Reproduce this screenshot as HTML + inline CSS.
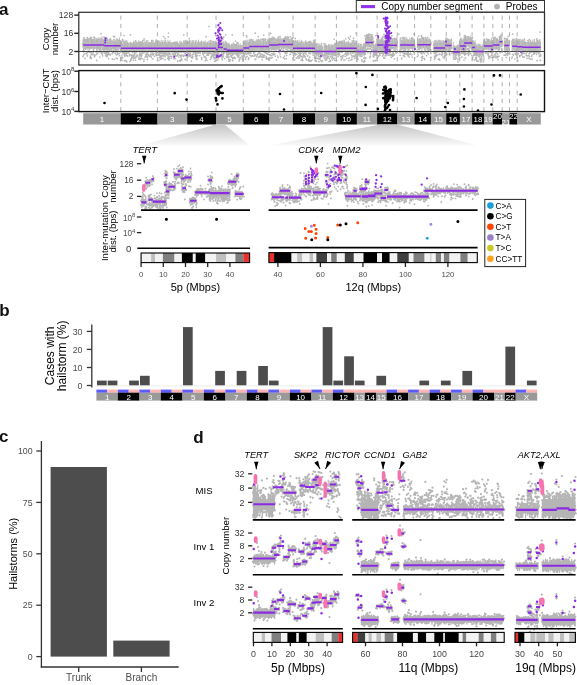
<!DOCTYPE html>
<html><head><meta charset="utf-8"><title>Figure</title>
<style>
html,body{margin:0;padding:0;background:#fff}
svg{display:block;font-family:"Liberation Sans",Arial,Helvetica,sans-serif}
</style></head><body>
<svg width="577" height="685" viewBox="0 0 577 685">
<rect width="577" height="685" fill="#fff"/>
<rect x="356.3" y="0.5" width="188.2" height="11.7" fill="#fff" stroke="#333" stroke-width="1"/>
<path d="M361 6.6L375 6.6" stroke="#9232ea" stroke-width="3.1"/>
<text x="381.3" y="10.2" font-size="10" text-anchor="start" fill="#000">Copy number segment</text>
<circle cx="497" cy="6.6" r="2.9" fill="#b3b3b3"/>
<text x="505.8" y="10.2" font-size="10" text-anchor="start" fill="#000">Probes</text>
<rect x="78.8" y="12.3" width="465.7" height="52.7" fill="#fff"/>
<path d="M83.2 38.8V48.4M84 37.7V48.2M84.7 38.1V49M85.5 39.8V49.3M86.2 39.9V49.1M87 39.7V48.2M87.7 38.5V50.1M88.5 39.6V48.6M89.2 37.7V50.5M90 37.9V49M90.7 36.5V48.1M91.5 36.9V48.8M92.2 39.5V48.3M93 38.9V50.1M93.7 39.3V49.5M94.5 37.7V49M95.2 38V48.2M96 39.8V48.5M96.7 37.6V49.1M97.5 38.9V49.5M98.2 38.4V48.8M99 37.1V49.8M99.7 39.1V49.5M100.5 38.1V50.3M101.2 37.4V48.7M102 36.5V48.3M102.7 38.5V50M103.5 39.5V49.3M104.2 39.9V49.7M104.4 38V50.3M105.2 37.6V49.6M105.9 38.3V50.3M106.7 38.7V50M107.4 37.8V51.3M108.2 39.1V50.5M108.9 40.6V50.6M109.7 38.5V51.4M110.4 37.8V49.5M111.2 39.4V50.5M111.9 40.7V50M112.7 40.2V49.1M113.4 40.6V50.8M114.2 40.3V49.4M114.9 39.4V51.1M115.7 40.5V50M116.4 38.8V51.1M117.2 37.9V51M117.9 39.8V49.9M118.7 39.5V51.1M119.4 37.4V49.2M120.2 40.2V49.4M120.8 42.4V52.5M121.5 41.1V51.9M122.3 43.2V52.3M123 41.9V52.7M123.8 39.8V53M124.5 41.3V52.8M125.3 40.8V51.3M126 40V53.2M126.8 40.1V53.3M127.5 41.8V52.2M128.3 42.8V52.8M129 43V51.4M129.8 42.4V51.6M130.5 42V51.3M131.3 43.2V51.6M132 42.8V52.1M132.8 43.1V53.5M133.5 41V51.6M134.3 42.3V52.1M135 41.9V51.5M135.8 40.1V53.8M136.5 41.5V52.5M137.3 42.9V51.5M138 42V51.9M138.8 40.2V51.6M139.5 43.1V53.7M140.3 41.3V51.6M141 41.2V51.3M141.8 41.3V53.7M142.5 40.1V53M143.3 42.3V52.2M144 42.6V53.2M144.8 41.3V53.2M145.5 42V51.8M146.3 40.3V53.8M147 40.1V53.3M147.8 40.3V53.1M148.5 42.4V52.5M149.3 41.9V51.3M150 43.1V51.9M150.8 42.3V53M151.5 39.8V52.4M152.3 39.8V53.8M153 39.8V52.1M153.8 42.4V51.8M154.5 42.5V51.7M155.3 41V53.5M156 40.2V52.4M156.8 40.8V53.3M157.4 43V53M158.1 40V53.3M158.9 40.6V52.5M159.6 42.7V53.4M160.4 42.1V53.4M161.1 39.8V52.3M161.9 41.9V53.8M162.6 40.7V51.7M163.4 42.8V51.7M164.1 40V53.4M164.9 42.8V53.4M165.6 39.8V53M166.4 42V52.7M167.1 42.8V51.3M167.9 39.8V53M168.6 41.4V53.7M169.4 41.7V53.6M170.1 40.3V51.8M170.9 42.4V52.1M171.6 42.4V52.8M172.4 42.4V52.4M173.1 42.8V53.7M173.9 42V52.5M174.6 41.2V53.7M175.4 41.8V53.7M176.1 41.5V52.7M176.9 41.4V51.3M177.6 41.7V51.8M178.4 43.3V53.4M179.1 42.7V52.5M179.9 40.7V52.7M180.6 42.1V52.6M181.4 41.3V53.3M182.1 42.9V52.8M182.9 42.4V52M183.6 40.5V52.6M184.4 41.3V53.3M185.1 40V52.5M185.9 41.1V52.6M186.6 41.5V53.1M187.2 41.6V52.6M188 41.5V53.6M188.7 40.7V53.5M189.5 39.8V51.9M190.2 41.2V53.7M191 40.2V51.6M191.7 42.8V52.3M192.5 42.9V51.8M193.2 42.9V52.9M194 40.4V53.5M194.7 42.6V53.1M195.5 40.8V51.6M196.2 40V53.7M197 42.4V53.7M197.7 41.8V52.5M198.5 39.6V53.4M199.2 42.6V52.3M200 41.3V52.1M200.7 42.5V52M201.5 40.6V51.3M202.2 41.2V52.3M203 43.1V52.1M203.7 41V52.5M204.5 43V53.8M205.2 40.4V53.7M206 42.8V51.9M206.7 43.1V53.2M207.5 42.2V51.5M208.2 41.7V53.6M209 40.3V51.9M209.7 42.7V53.6M210.5 41.1V53M211.2 42.9V51.3M212 40.7V52.3M212.7 42.9V53.6M213.5 40.9V53.3M214.2 42.9V53.4M215 43V53.4M215.7 41.6V52.1M216 42.5V54.9M216.8 43.5V52.8M217.5 42.6V53.1M217.8 42.1V50.9M218.6 42.3V51M219.3 41.4V51.3M220.1 39.8V51.3M220.8 40.7V51M221.6 41.3V50.5M222.3 41.6V50.5M223.6 41.4V53.4M224.3 43.3V53.2M225.1 40.6V52.3M225.8 41.1V53.1M226.6 42.2V54.2M226.6 43.9V54.6M227.3 42.8V55.9M228.1 44.1V55.5M228.8 42.8V55M229.6 43.8V54.2M230.3 45.1V53.6M231.1 45V55.2M231.8 44.4V53.7M232.6 45V55.5M233.3 42.2V55M234.1 44.3V53.9M234.8 44.2V54.5M235.6 44.7V54.5M236.3 44.4V55.8M237.1 41.8V54.7M237.8 44.4V55.8M238.6 44.2V54.2M239.3 45.3V54.3M240.1 43.6V54.6M240.8 44.6V54.6M241.6 45.3V54M242.3 45V54.3M243.1 45.1V53.4M243.3 41.8V51.5M244 40.8V52.3M244.8 40.2V52.6M245.5 40.3V53.2M246.3 41.5V51.7M247 39.4V51.3M247.8 40.3V52.6M248.5 42.7V53.1M249.3 39.7V52.5M249.3 39V51.7M250.1 41.1V51M250.8 39.8V51.8M251.6 38.7V51.7M252.3 39.5V51.9M253.1 39.1V51.4M253.8 40.8V49.7M254.6 41.1V50.5M255.3 41.2V51.8M256.1 39.6V51.2M256.8 39.3V51.4M257.6 39.8V49.6M258.3 38.7V51.5M259.1 39.8V51M259.8 39.2V49.8M260.6 38.9V50.3M261.3 41.3V50.3M262.1 39V50.1M262.8 38.9V52.1M263.6 39.8V50.6M264.3 39.9V51.4M265.1 38.8V51.2M265.8 39.3V49.8M266.6 41.1V50.3M267.3 38.9V50.4M268.1 39.6V49.6M268.8 41.4V50.3M269.1 37.6V49.8M269.8 37.6V48.8M270.6 38.1V49.2M271.3 38.3V48.3M272.1 36.8V48.5M272.8 36.5V50.4M273.6 39.9V49.2M274.3 37V50.5M275.1 38.4V48.7M275.8 39.2V50.5M276.6 39.2V49.5M277.3 39.5V49.4M278.1 36.6V48.3M278.1 36.5V48.8M278.8 36.3V49.3M279.6 38.7V49.8M280.3 37.7V47.6M281.1 39.5V48.8M281.8 37.9V48.3M282.6 39V48.4M283.3 38.4V49.7M284.1 39.5V49.5M284.8 36.5V47.8M285.6 36.2V49.4M286.3 36.3V48.3M287.1 38.2V48.5M287.8 35.9V49M288.6 38.2V48.6M289.3 38.5V47.6M290.1 39.1V49.7M290.8 38.5V49.9M291.6 38.6V48.2M292.3 37.7V48M293 41.9V53.7M293.8 40V53.3M294.5 40.9V53.6M295.3 39.8V52.6M296 40.6V51.3M296.8 40.6V52.4M297.5 40.5V52.9M298.3 42.2V51.3M299 39.9V51.5M299.8 41.5V52.1M300.5 42.1V53.1M301.3 39.7V51.9M302 40.8V52M302.8 41.2V52.2M303.5 42.6V51.6M304.3 42.5V53.6M305 41.4V51.8M305.8 39.9V53.8M306.5 41.6V51.6M307.3 42.5V51.4M308 42V51.4M308.8 42.3V51.9M309.5 41.1V53.5M310.3 40.5V52.3M311 41.7V52.6M311.8 41.8V52.1M312.5 43V51.9M313.3 39.7V51.5M314 41.4V52.8M314.8 40.1V51.8M315.1 45.4V55M315.8 45V55.6M316.6 43V56.6M317.3 43.3V54.5M318.1 46.3V56.2M318.8 43.2V55.6M319.6 44.3V54.4M320.3 45V56.8M321.1 43.4V56.6M321.8 42.9V55M322.6 46V54.8M324.1 44.5V56.2M324.9 43V56.3M325.6 44.1V56.4M326.4 44.8V55.8M327.1 46.3V56.4M327.9 45.6V56.8M328.6 44.1V55.2M329.4 45.9V55.1M330.1 44.1V56.2M330.9 46V54.6M331.6 44.5V55.9M332.4 45V55M333.1 44.2V54.4M333.9 45.3V55.6M334.6 42.9V56.1M335.4 43.2V55.6M336.1 45.6V55M336.4 39.7V53M337.1 42.1V51.3M337.9 41.4V53M338.6 41.7V51.9M339.4 40.8V53.6M340.1 42.4V51.3M340.9 42V52.3M341.6 40.7V51.7M342.4 40.3V53.1M343.1 41.4V51.7M343.9 39.7V52M344.6 40.2V51.8M345.4 42.4V53.2M346.1 42.1V53.7M346.9 41.4V51.7M347.6 42.4V52.3M348.4 40.8V53.7M349.1 42.7V52.2M349.9 42.4V53.7M350.6 42.7V51.3M351.4 43V52.2M352.1 40V53.5M352.9 40.6V53.8M353.6 39.8V52.1M354.4 42.5V53.6M355.1 40.5V51.3M355.9 40.8V52.2M356.6 41.9V52.1M356.8 46V54.6M357.5 45.6V55.5M358.3 43.2V54.9M359 43.1V55.1M359.8 45.3V56.7M360.5 43.6V55.7M361.3 46.4V55.8M362 45.3V57M362.8 45.9V55.5M363.5 43.4V54.7M364.3 45.1V56.7M365 43.8V54.7M365.5 37.5V45.8M366.3 34.3V46.3M367 34.9V47.9M367.8 36.4V46.3M368.5 34.2V47.2M369.3 36.7V47.5M370 36.5V46.3M370.8 37.6V47.6M371.5 34.3V47.2M372.3 34.2V45.7M373 36.8V46.8M373.3 43.2V57.1M374.1 45.2V55.3M374.8 45.1V55.9M375.6 43.3V55.1M376.3 43.7V56.5M377.1 43.6V56.6M377.1 37.9V49M377.9 38.9V49M378.6 37.3V48.3M379.4 39.4V50.1M380.1 39.2V48.3M380.9 40V49.5M381.6 38.9V50.6M382.4 36.9V50.7M383.1 39.1V48.3M383.7 42.2V51.8M384.5 39.9V51.7M385.2 41.7V51.6M388 38V50M388.7 37.5V50.4M389.5 37.8V48.5M390.2 37.2V49M391 38.2V49.2M391.7 37.5V48.7M392.5 39.3V48.8M393.2 39.6V50.5M394 38.1V49M394.7 38.8V50.8M395.5 38.4V48.8M396.2 37.3V49.9M397 36.6V48.5M400.1 38.4V50.2M400.9 37.1V50.5M401.6 40V48.9M402.4 39.7V48.6M403.1 36.6V49.6M403.9 36.8V49.1M404.6 37V49.3M405.4 39.2V50.1M406.1 36.7V48.4M406.9 38V49.7M407.6 39.3V49.1M408.4 39.6V48.6M409.1 39.2V49.7M409.9 37.8V48.6M410.6 40.1V49M411.4 37.7V48.6M412.1 39V48.6M412.9 37.2V49.5M413.6 39.9V48.4M414.4 38.7V49.5M417.5 37.4V47.9M418.2 39.1V49.5M419 38.2V48.4M419.7 38.6V50.2M420.5 38.6V49.2M421.2 38.4V48.8M422 36.6V50.3M422.7 38.4V48.2M423.5 37.1V48.2M424.2 39.7V50M425 38.2V49.8M425.7 38.2V50M426.5 38V48.1M427.2 39.6V49.1M428 37.4V50.1M428.7 39.4V49.3M429.5 38.4V49M430.2 39.2V48.4M433.8 41.2V53.5M434.6 42.7V52.4M435.3 40.2V53.6M436.1 42.4V51.4M436.8 39.7V53.6M437.6 41.4V51.2M438.3 39.8V52.1M439.1 39.8V52.7M439.8 40.1V51.5M440.6 40.3V51.7M441.3 41.6V53.3M442.1 40.1V51.6M442.8 42.3V52.1M443.6 41.2V52.1M444.3 42.7V51.7M445.1 40.5V53.4M445.1 40.4V50M445.9 37.8V48.6M446.2 37.5V48.8M447 38.3V49.9M447.7 38.2V49.3M448.5 39V50M449.2 39V50.2M450 38.9V49.6M450.7 40.4V50.1M451.5 38.7V49.1M453.2 44.3V57M453.9 45.4V55.5M454.7 45.3V55.3M455.4 46.5V56.1M456.2 46.7V56.1M456.9 45.2V55.1M457.7 44.7V55.2M458.4 44.4V57M459.2 45.2V55.1M459.8 39.2V50M460.6 37.6V49.4M461.3 37.9V51.6M462.1 38.4V51.1M462.8 40.3V51.6M463.6 39.2V51.5M464.3 37.7V49.4M465.1 38.2V51.4M465.8 40.8V49.9M464.1 35.2V46.3M464.8 34.7V46.6M465.6 35V46.3M466.3 36.1V48.3M467.1 37.2V46.6M467.8 36.1V46.7M468.6 37.8V46.4M469.3 37.3V48.3M470.1 35.5V48.2M470.8 37.3V47.9M471.6 37.5V47.3M472.1 40.3V51.5M472.8 39.5V52M473.6 40.5V52.9M474.3 42.2V53.2M475.1 40.3V51.6M475.1 43.6V55.2M475.8 42.9V56M476.6 45.2V56.5M477.3 44.9V55M478.1 43.8V54.6M478.8 43.5V55.2M479.6 44.2V57.1M480.3 44.4V56.2M481.1 45.4V54.5M481.8 46.4V54.9M482.6 44.3V55.6M483.3 44.7V56.8M483.9 40.5V49.6M484.6 38.6V49.1M485.4 41V49.9M486.1 40.6V49.9M486.9 40.2V50.5M487.6 38.9V49.5M488.4 38.8V50.2M489.1 40.5V51.4M489.9 40.1V49.4M490.6 40.7V50.7M491.4 37.9V51M492.1 39.6V49.7M492.8 40V49.7M493.5 38V48.9M494.3 37.7V49.2M495 36.6V49.9M495.8 39.1V50.3M496.5 39.8V49.4M497.3 38.5V48.6M498 39.8V50M498.8 40V49.4M499.5 36.6V48.4M499.5 36.1V46.4M500.3 35V46.5M501 33.9V45.3M501.8 35.7V45.6M504.4 40.3V50.8M505.1 37.7V50.4M505.9 40.5V50.7M506.6 37.8V49.7M507.4 37.8V49.7M508.1 39.7V48.8M508.9 39.7V48.6M512.1 40.1V51.2M512.8 38.8V51.5M513.6 38.7V50M514.3 39.3V50.4M515.1 38.5V50.7M515.8 40.3V51M516.6 37.8V49.9M517.2 38.6V49.8M518 40.9V50.4M518.7 39.1V52.3M519.5 39.1V50.6M520.2 38.6V50.7M521 40.9V52.2M521.7 39.5V51.6M522.5 39.4V52.3M522.5 40.6V52.5M523.2 39.8V52.5M524 40.7V52.2M524.7 40.2V51.1M525.5 41.5V51.9M526.2 42V52.7M527 41.8V50.4M527.7 41.9V52.7M528.5 41.1V50.7M529.2 42.2V50.4M530 39.8V51.9M530.7 39.8V52.2M531.5 42.1V51.8M532.2 41V52.4M533 39.3V52.6M533.7 42.1V52.6M534.5 39V52.8M535.2 41.9V50.8M536 41.9V50.4M536.7 39.2V52.4M537.5 40V52.4M538.2 40V51M539 41.9V50.6M539.7 39.6V50.8M540.5 41.2V51.4" stroke="#b5b5b5" stroke-width="0.95" fill="none"/>
<path d="M83.4 52h0M90.9 57.7h0M104 48.3h0M83.6 49.7h0M92.4 41.4h0M94.6 56.8h0M101.7 53.8h0M82.9 51.3h0M99.5 49.6h0M93.6 45.1h0M86.9 40.7h0M88.6 51.2h0M89.1 51.9h0M85.3 40.5h0M84.7 42.7h0M96.6 48h0M91.7 54h0M102.3 52.2h0M87.4 55.9h0M91.2 42.3h0M88 38.4h0M99.3 43.7h0M90.5 56.2h0M97.4 51.4h0M86.6 53.6h0M85.7 39.8h0M102.2 53.9h0M98.3 48.2h0M86.3 53h0M94.3 55.7h0M90.1 57.8h0M85.1 44h0M85.1 58.3h0M98.9 52.5h0M87.2 47.1h0M91.4 54.3h0M91.6 43.4h0M96.7 40.6h0M86 39.6h0M102.7 55.8h0M95.4 42.5h0M98.7 46.4h0M99.8 48.6h0M96.9 40.2h0M89.7 48.4h0M100 47.4h0M96.7 50.1h0M96.5 54.5h0M97.6 47.4h0M99.9 57h0M93.6 49.9h0M86.4 46.2h0M103.4 49.2h0M94.7 48.1h0M94.1 47.3h0M91.9 40.7h0M87.5 39.7h0M85.6 49.2h0M90.7 52.5h0M83.2 56h0M92.1 43.1h0M87.8 47.5h0M103.4 46.4h0M91.5 58.3h0M85.7 47.1h0M93.1 39.7h0M87.8 41.6h0M100.8 49.6h0M93.1 51.5h0M101.1 52.5h0M101.5 51.4h0M92.2 54.6h0M83 44.4h0M89.5 47.9h0M92.3 43h0M103.2 41.8h0M84.1 50.8h0M86 41.1h0M96.7 60.4h0M97.2 53.5h0M85.1 53.5h0M90.5 58.2h0M102.6 49.2h0M96.2 52.3h0M97.5 46.8h0M87.2 37.6h0M94.5 37.3h0M95 55.3h0M88 52h0M93.1 53h0M93.6 37.3h0M83 43h0M93.1 41.1h0M91.1 48h0M103.9 50.2h0M83.5 40.7h0M97.8 39.5h0M94.1 54.9h0M102.5 52.2h0M90.3 39.5h0M90.9 38.2h0M87.5 52.2h0M92.1 46.5h0M101 50.8h0M93.9 44.9h0M97.2 44.6h0M90.1 51.8h0M96.8 50.1h0M83.8 48.8h0M84 50.5h0M83 56.6h0M97.3 42.4h0M102.8 40.8h0M98.1 41.2h0M97.8 51.3h0M99.6 50.1h0M86.9 54h0M97.2 46.4h0M100.9 42.1h0M89.5 52.1h0M89.9 48.6h0M84.1 37.8h0M83.8 54.5h0M103 49.4h0M83.2 47.1h0M104.3 39.9h0M91.9 51.7h0M106.7 52.2h0M104.2 53.3h0M105.6 53h0M106.3 53.4h0M116.5 51.6h0M105 44h0M116.5 48.1h0M114.7 36.8h0M108.4 48.1h0M116.2 58.1h0M117.9 54.2h0M109.4 49.8h0M112.3 58.9h0M110.3 40.2h0M106.6 48.1h0M110.3 42.9h0M110.7 42.8h0M120.1 42.8h0M105.2 44.4h0M116 43.1h0M120.6 50.5h0M114.3 48.1h0M110.5 49.4h0M114.3 47h0M104.2 51.5h0M111.3 49.2h0M104.9 38.1h0M117.8 42.9h0M118.5 44.4h0M115.7 44.8h0M113.5 47.2h0M107.5 48.5h0M114.4 44.6h0M112 53.7h0M117.5 52.5h0M105.6 46.2h0M113.9 42.9h0M119.1 40.5h0M107.3 54.4h0M107.2 42.4h0M110.9 49.7h0M106.7 56.7h0M105.9 45.7h0M117.4 51.5h0M112.9 52.2h0M104.7 48.9h0M113.7 51.2h0M117.3 58.6h0M118 43.5h0M108.4 54.4h0M105.6 55.6h0M113.5 36.4h0M119.5 55.7h0M114.2 59.3h0M108.5 52.7h0M115 43.9h0M111.7 51.2h0M120.4 46h0M108.5 54.6h0M119.4 46.4h0M117.4 44.7h0M115.1 47.9h0M116.9 46.6h0M115.6 49.6h0M105.9 51.1h0M108.5 52h0M108.2 54h0M115.6 53.4h0M104.8 43.2h0M107.9 51.4h0M106.5 49.1h0M105.8 48.9h0M111.8 50.3h0M118 44.3h0M107.9 52.6h0M116.2 50.8h0M108.6 58.6h0M106.8 55.2h0M107 42.7h0M109.5 54.2h0M105.1 53.1h0M115.4 51.4h0M108.5 54.1h0M110.3 54.9h0M105.8 53.7h0M119.3 53.4h0M120.7 51.3h0M117.8 53.9h0M118.2 46h0M107.3 55.6h0M113.8 52.7h0M107.2 45.2h0M105.5 51.9h0M114.4 45.4h0M114.5 48.5h0M117.8 46.2h0M116.5 54.9h0M116.3 54.8h0M151.8 44.8h0M138.8 59.1h0M152.9 54.4h0M127.4 46.6h0M134.3 50h0M120.6 43.7h0M124.9 49.8h0M150.8 45.5h0M134.6 53.9h0M122.7 52.7h0M139.6 46.9h0M140.4 58.3h0M127.2 55.8h0M129.8 50h0M146.5 56.5h0M121.1 43.9h0M146.6 54.5h0M152.8 50.2h0M138.8 48.8h0M130.9 54.8h0M142.5 49.4h0M125.9 48.1h0M151.2 45.8h0M134.9 58.2h0M135.2 44.1h0M149.4 56.4h0M136.7 51.8h0M150.4 51.3h0M122.4 41.1h0M156.1 48.2h0M144 59.3h0M140.2 53h0M121.2 57.7h0M156.5 53.4h0M150.6 46h0M153.4 54.7h0M145.7 54.4h0M140.6 46h0M139.8 54.6h0M155.8 54.7h0M124.9 53.6h0M156 47.7h0M140.3 59.5h0M125.1 55.4h0M131.2 59.2h0M123.7 51.1h0M141.7 43.6h0M127.9 43.3h0M143.3 49.4h0M132 56.8h0M134.7 52.9h0M120.9 57.6h0M141.2 45.9h0M131.1 46.3h0M126.4 61.2h0M152.9 58.9h0M136.8 49.7h0M124.5 61h0M126.2 55h0M133.6 42.4h0M151 43h0M147.9 48.5h0M149.7 43.7h0M154.5 56.4h0M148.9 47.9h0M139 44.5h0M149.6 46.4h0M143.1 53h0M147.4 57.2h0M135 45.6h0M149.7 50.5h0M139 57.2h0M125.8 51.3h0M142.1 58.5h0M151.8 46.5h0M156.1 50.3h0M120.8 59.1h0M141.5 54.2h0M140.5 44.9h0M139.7 46.6h0M133.8 44.6h0M133.5 46h0M124.1 52.9h0M135.4 40.8h0M156.3 44.5h0M136.8 51.9h0M140.2 48.1h0M126.8 61.8h0M139.5 55.4h0M153.7 53.4h0M153.5 48h0M126.3 52.7h0M127.5 55.9h0M143.9 40.5h0M135.8 46.1h0M120.6 60.5h0M151.8 46.9h0M139 45.9h0M130.4 34.8h0M141.8 54.2h0M125 56.3h0M124.2 54.8h0M139.9 42.7h0M122.8 52.7h0M149.1 55.6h0M126.8 53.5h0M124.2 45h0M137.2 54.8h0M122.5 39.4h0M136.8 43.2h0M129.7 61.5h0M132.2 44.9h0M150.8 50.1h0M138.9 42.1h0M129.5 55.8h0M132 45.4h0M138.5 48.3h0M133.8 58.1h0M156.6 54.8h0M140.3 55.6h0M135.5 60.2h0M133.5 60.1h0M127.6 56.3h0M145.2 57h0M126.3 50.8h0M151.5 57.5h0M136.9 49h0M133.6 46h0M134.5 50.8h0M137.3 55.6h0M153.9 45.2h0M134.1 54.6h0M152.9 54.9h0M139.5 47.3h0M134.8 55h0M141.6 55.2h0M127 49.3h0M132.4 52.2h0M133.9 51.5h0M131.5 55.4h0M125.1 50.9h0M131 60.6h0M153.3 44.5h0M125.4 60.6h0M145.1 57h0M135.8 47.3h0M152 54h0M143.9 61.2h0M147.8 54.1h0M122 57.2h0M131.7 57.9h0M121.9 55h0M151.7 46.3h0M147.1 52h0M133.4 58h0M151.5 47.9h0M152.2 49.4h0M122.2 60.3h0M128.3 52.8h0M148.3 55.2h0M148.3 44.4h0M130.9 59.2h0M155.1 46.8h0M147.9 45.2h0M122.5 45h0M136.4 50.1h0M148.8 55.5h0M146.6 47.8h0M156.5 53.2h0M140.7 58.8h0M135.8 57.2h0M132 55h0M129.3 51.9h0M139.6 58.8h0M131.6 46.7h0M125.7 44.5h0M140.9 54.6h0M126.7 44.6h0M149 45.6h0M124.7 54.9h0M122.7 57.8h0M127.8 46.3h0M132.5 48.8h0M134 56.6h0M157.4 48.5h0M123.6 53.3h0M124.5 47.6h0M136.6 55.8h0M154.7 48.1h0M143.8 46.5h0M129.6 54.3h0M121.5 50h0M127.4 45.4h0M151.9 51.6h0M151.4 54.3h0M132.6 57.4h0M134.2 45.1h0M134.2 48.3h0M141.5 49.4h0M151 56.2h0M138.8 42.8h0M126.3 55.1h0M146.1 55.6h0M136.9 49.2h0M136.8 56.7h0M147.4 59.4h0M149.7 51.2h0M131 44h0M133.1 55.9h0M145.2 50.2h0M131.5 55.2h0M141.4 56.6h0M132.5 49.8h0M156.6 55.4h0M156.2 40.1h0M150.6 54.4h0M131.5 43.3h0M155.9 46.2h0M167.5 45.6h0M157.9 54.9h0M159.7 44.4h0M168.4 44h0M174.3 58.1h0M160.6 59.2h0M160.5 45.1h0M164.8 54.1h0M172 47.7h0M164 51.9h0M175 58.6h0M169.5 50.7h0M173.8 51.3h0M180.1 61.1h0M160.2 47.9h0M169 60h0M180.7 55.3h0M180.7 56.5h0M157.6 52.1h0M163.6 55.5h0M184.1 44.2h0M183.6 55.3h0M162.2 44.3h0M167.5 45.1h0M160.8 51.2h0M179.5 48.1h0M175.5 55.4h0M173.8 55.2h0M177.6 60.8h0M163 58.4h0M160.5 52.9h0M160.5 50.3h0M165.9 53h0M168.7 58.9h0M178.1 44.8h0M186 55.4h0M172.4 50.2h0M181.5 58.6h0M177.8 61.3h0M171.6 58h0M183.7 45h0M159.4 57.6h0M162.3 52.4h0M168.9 57.1h0M157.3 47.9h0M171.1 49h0M158.5 55.2h0M165.4 45.5h0M165.1 38.4h0M187.3 55h0M174.2 53.1h0M176.4 43.3h0M168.1 58h0M185.7 40.5h0M166.3 48h0M176.4 52.7h0M173.9 58.8h0M166.9 49.6h0M171.7 56.4h0M167.7 58.5h0M157.3 44.1h0M174.4 57.2h0M162.2 55.5h0M179.2 51.6h0M185.6 59.8h0M159.5 54.4h0M174.8 44h0M170.1 53.7h0M159.2 50.9h0M164.9 54.9h0M162.1 55.7h0M169.3 54.3h0M175.4 46.7h0M179.4 46.2h0M175.4 58.5h0M167.5 50.6h0M162.8 52.4h0M185.2 53.3h0M167 45.9h0M177.8 53.8h0M158.8 60.3h0M167.3 49.9h0M175.3 55.8h0M185.2 48.5h0M187.1 52.7h0M167.1 53.1h0M161.8 56.4h0M181.9 55h0M173.5 42.8h0M175.4 54.8h0M179.6 55.1h0M180.7 51.4h0M180.6 45.2h0M173 49.2h0M161.1 52h0M180.7 57h0M187.2 56.4h0M157.9 55h0M158.9 45.9h0M185.7 55.7h0M161.6 55.8h0M162 49.6h0M180.8 59.8h0M176.5 55.9h0M181.5 44.4h0M160.4 56h0M159.1 41.8h0M158.9 52.9h0M169.6 53.6h0M163.9 54.9h0M165.1 56.5h0M180.2 51h0M166.2 49.4h0M161.9 53.4h0M183.5 56.4h0M165.7 50.7h0M171.9 51.5h0M175.3 53.5h0M174.7 50.4h0M168.1 56.3h0M166.1 49h0M160.5 57.1h0M161.7 48.8h0M160.1 55.8h0M167.4 46.7h0M178.9 49.3h0M164.2 48.2h0M178.1 54.1h0M170.2 56.2h0M157.7 45h0M160.8 55.8h0M161.2 58.3h0M161.6 53.8h0M172.3 54.2h0M185 59.1h0M163.6 53.1h0M165.4 53h0M165.1 59.7h0M169.5 49.6h0M168.1 54.6h0M173.6 42.9h0M178.1 52.8h0M169.2 52.9h0M169.8 45.3h0M169.6 58.2h0M187.5 51h0M164.8 42.6h0M168.6 56.8h0M182.7 50.2h0M184.7 55.4h0M176.8 45h0M166.7 54.9h0M183.1 48.3h0M175.1 48.9h0M179.7 60.5h0M178.8 52.2h0M177.7 55.6h0M176.2 49.2h0M165.2 53.7h0M171.5 43.8h0M163.8 55.8h0M185.3 43.5h0M181.8 55.7h0M162.3 42.8h0M182.3 49.7h0M183.5 52.1h0M182 60.1h0M161.8 58.5h0M181.5 50.6h0M170.9 48.2h0M171.6 48.4h0M177.8 54.6h0M172.9 54.4h0M168.7 58.3h0M163.2 50.6h0M178.9 57h0M196.4 56.9h0M205.6 46.7h0M192.8 57.3h0M197.8 52.2h0M199.9 55.6h0M198.9 44.9h0M210.7 53.2h0M214.1 58.8h0M215.5 44.1h0M196.6 59.4h0M209.1 52.7h0M213.4 47.4h0M187.7 43.9h0M211.6 57h0M200.8 43.9h0M202 49.9h0M206.6 47.3h0M206.9 48.9h0M209.5 50.3h0M189.2 50.1h0M189.9 56.3h0M188.5 43h0M207.8 54h0M199.2 50.3h0M216.2 49.8h0M196.7 46.6h0M187.1 47.7h0M196.1 58.5h0M212.2 44h0M188.4 56h0M212.4 50.1h0M192.9 54.4h0M202.7 52.8h0M204.1 57h0M210.5 59.5h0M188.4 54.3h0M202.6 53.8h0M195 46.8h0M195.5 49.9h0M200.3 43.1h0M200 52.2h0M205.7 57.3h0M212.3 54.6h0M214 46.8h0M210.4 45.4h0M195.6 52.2h0M211.5 58h0M189.9 55.2h0M210 43.2h0M194.5 51.2h0M207.1 60.5h0M188.1 50.4h0M195.5 53.9h0M203.4 54.9h0M213.7 57.1h0M210.4 46.3h0M198.4 53.1h0M193.5 52.1h0M189.7 47.6h0M206.9 53h0M214.5 42h0M195.5 56.2h0M214.2 52.7h0M201.2 44.1h0M189.5 54h0M194.9 49.8h0M214.1 54.4h0M204.5 42.8h0M196.7 56.3h0M192.2 54.8h0M195.7 54.9h0M203.1 47.5h0M204.4 52.9h0M189.8 49.2h0M190.8 45.9h0M206.4 58.5h0M191.9 44.4h0M212.6 54.9h0M191.3 57.3h0M201.5 46.8h0M190.4 50.7h0M201.8 59.4h0M192.7 56.7h0M194 50.2h0M201.7 57.7h0M201.3 49.1h0M203.7 49.1h0M191.4 61.2h0M187.8 53.7h0M213.1 55.9h0M203.9 51.9h0M207.8 53.2h0M194.1 49.4h0M205.1 48.1h0M210.9 57.4h0M214 53.1h0M214.5 55.1h0M194.1 49.1h0M206.9 55.3h0M192.7 57.6h0M196.6 55.3h0M201 48.1h0M209.8 48.3h0M192.8 42.5h0M211.8 53.5h0M197.2 58.8h0M215.3 48.1h0M211.3 46h0M213.5 51.8h0M204.3 51.5h0M211.2 50.5h0M215.2 45.8h0M214.7 61.4h0M194.3 46.8h0M193.7 54.1h0M201.4 49h0M207.1 42.7h0M210.2 52.6h0M214.6 46.8h0M206.1 49.1h0M196.9 51.9h0M187.1 42.1h0M187.4 57.4h0M204.7 44.3h0M196.8 52.7h0M205.1 60.8h0M189.5 55.2h0M206.3 44.1h0M190.5 55.4h0M192.3 57.6h0M215.1 57.2h0M204.8 56.5h0M198.5 52.8h0M216 55.2h0M211.3 56.1h0M192.1 48.2h0M200.3 48.2h0M189.9 51.9h0M212.3 41.6h0M213.2 54.6h0M189.2 38.7h0M197.6 51.7h0M205.5 51.7h0M213.6 47.4h0M197.6 55.3h0M207 50.9h0M200.1 53.2h0M208.9 53.1h0M191.2 45.7h0M203.9 52.3h0M205.8 59.3h0M209.3 53.2h0M215.7 47.1h0M210.6 40.7h0M207.8 55.2h0M195.1 51.2h0M210.2 53.6h0M191 49.9h0M208.6 55h0M196.1 55.3h0M215.3 52h0M192.4 58.1h0M196.3 55.5h0M190.1 53.9h0M215.2 58h0M192.9 40.9h0M205.6 50.5h0M196.2 56.4h0M203.3 43.7h0M209 51.8h0M217.2 57.6h0M217.7 48.3h0M216.6 49.2h0M215.9 52.5h0M217.5 43.3h0M216 60.3h0M217.3 45.4h0M217.6 54.1h0M218 47.3h0M217.7 60h0M218.6 42.7h0M221.4 46.5h0M218.3 58.3h0M220.4 49.2h0M221.4 43.2h0M219.1 50.5h0M222 51h0M221.8 52.4h0M222.7 47.2h0M221.2 40.1h0M218.3 45.9h0M219.1 51.5h0M221 47.1h0M218.8 57.6h0M221.4 48.7h0M221.5 52.8h0M222.3 59.7h0M218.3 55.6h0M217.9 50.4h0M217.8 45h0M218.2 53.6h0M219.4 44.9h0M218.8 49.4h0M222.2 54.9h0M217.7 52.2h0M220 56.1h0M221.1 44h0M220.5 45.4h0M218.8 54.7h0M223 55.4h0M223.2 53.9h0M224.9 49.3h0M225.8 47.6h0M224.7 58.6h0M224 44.7h0M224 48.6h0M224 52.7h0M226.8 46.7h0M226.7 47.9h0M223.5 52.3h0M223.3 48h0M224.2 52.8h0M223.8 52.4h0M223.4 56.9h0M224.5 50.5h0M223.6 53.9h0M223.8 37h0M226.5 51.2h0M225 50.3h0M236 51.7h0M238.6 51.5h0M243.2 58h0M240.3 46.4h0M228.6 59.2h0M240.6 49.1h0M241.7 50.6h0M227.5 53.9h0M234.7 44.4h0M229.8 60.7h0M228.1 48.1h0M228.5 54.5h0M237.3 51.7h0M233.9 58.1h0M234.4 57.3h0M237.9 50.7h0M238.2 56.1h0M228.7 49.1h0M230.4 49.5h0M230.2 59.6h0M237.2 43.1h0M226.9 57.5h0M230.4 51.4h0M242.4 56.2h0M242.2 58.6h0M239.4 58.8h0M243.1 53.1h0M229.1 57h0M228.1 57.2h0M226.3 44.6h0M235.9 44.7h0M236.6 50.2h0M227.6 55.9h0M233.1 57.6h0M239.2 60.9h0M234.2 53.5h0M237.5 57h0M243.2 51.1h0M232.4 57.6h0M241 52.5h0M232.6 58.4h0M236.8 48h0M239.6 59.6h0M238.3 51.2h0M235.3 45.7h0M237.5 53.3h0M238.9 56.8h0M238.7 55.3h0M238.1 42.9h0M229.4 53.8h0M233.9 50.2h0M232.3 60.8h0M242.4 49.6h0M240.8 50.4h0M230.6 55.9h0M232 44.4h0M239.7 51.7h0M228.1 45.6h0M231.7 47h0M243 61.1h0M235.5 41.1h0M233.3 48h0M238.2 52.6h0M231.2 51.8h0M226.5 56.4h0M229.3 49.4h0M238.2 50.1h0M230.6 53.3h0M226.7 51.1h0M243 53.3h0M236.5 45.3h0M231.5 55.6h0M227.4 57.2h0M228.2 52h0M243 49.3h0M231.5 57.1h0M238.9 55.3h0M242.4 58.7h0M240.6 57.6h0M241.1 48.8h0M226.4 56.2h0M241.9 56.1h0M237.7 54.9h0M228.8 61.2h0M237.6 49.9h0M228.5 51h0M232.6 54.8h0M235.3 58.4h0M239.5 59h0M232.9 60.3h0M237.4 51.2h0M247.4 47h0M244.5 54.5h0M246 48.6h0M243.6 54.1h0M244.5 56.1h0M243.8 53.7h0M249.2 51.3h0M243.5 55.8h0M248.7 42.8h0M248.7 59.3h0M244.6 54.6h0M248.7 57.9h0M249.1 49.5h0M247.8 53.4h0M244.3 48.9h0M245.4 59.3h0M244.2 55.6h0M247.3 52.4h0M247.9 48.6h0M244.5 43.3h0M243.9 44.3h0M249.2 50.3h0M249 53.7h0M244.5 49.2h0M244.4 55.2h0M245.9 57.7h0M246.8 54.1h0M245.6 57.6h0M244.5 48.7h0M246.4 35.5h0M247.1 56.4h0M248.5 59.2h0M244.5 47.9h0M245.1 53.4h0M243.1 59.6h0M244.1 53.4h0M254.2 46.6h0M260.4 48.5h0M251.5 48.9h0M252 50.7h0M267 54h0M253.8 51.8h0M257.3 44.4h0M262.5 49.7h0M268.2 54h0M250.1 47.2h0M254.9 54.9h0M268.7 42.3h0M266.3 49h0M262.3 48.8h0M262.4 48.6h0M265.3 49.1h0M250.5 46h0M260.6 53.8h0M253.8 52.4h0M259.7 52.5h0M261.7 49.5h0M262.7 51.1h0M262.8 46.9h0M262.2 59.7h0M253.7 53.2h0M268.5 48.2h0M267.3 58.7h0M264 51.9h0M251.6 50.2h0M253.4 56.2h0M257.3 55h0M250.6 51.5h0M256.2 44.7h0M257.9 54h0M262.7 54.7h0M256.5 47.4h0M262.1 39h0M263.3 48.9h0M255.1 59.4h0M265.7 51.4h0M261 49.6h0M249.3 46.1h0M250.4 52.2h0M252.5 49.5h0M254.4 46.7h0M269.1 59.9h0M268.7 59.2h0M255.8 44.8h0M258.7 57.4h0M250.1 55.3h0M261.7 48.1h0M254.4 46.1h0M259 51.9h0M267.9 48.8h0M263.1 55.1h0M263.6 56.2h0M250.9 39.7h0M252.9 49h0M253.7 49.6h0M262.5 48.3h0M260.8 56.1h0M261.9 54.4h0M259.8 50.8h0M249.6 47.2h0M262 49.9h0M261.5 47.6h0M262.5 57.1h0M252.2 55.4h0M263.6 39.2h0M265.2 52.7h0M250.1 52.5h0M250.8 52.9h0M267.9 46.4h0M258.4 57.2h0M259.6 57h0M263.6 46.9h0M250.4 53.2h0M258.8 53.6h0M255.5 44.1h0M263.5 43.6h0M267.9 49.7h0M261.6 50.5h0M254.7 55.8h0M269 49.7h0M261.6 57h0M250.4 47.2h0M250.7 51.4h0M250.9 49.7h0M264.6 55.4h0M251.2 56.5h0M265.9 57.8h0M252.5 43.4h0M251.5 55.8h0M268.8 54.3h0M267.1 53.2h0M258.6 44h0M258.5 44.6h0M263.9 57.2h0M251.2 56.1h0M255.9 54.5h0M269.1 58h0M266.4 56.9h0M255.9 59h0M257.5 50h0M249.2 42.6h0M261.3 50h0M266.3 45.5h0M254.4 52.6h0M256.7 56.6h0M253.6 41.8h0M267 49.6h0M254 50.7h0M263.8 35.1h0M265.5 53h0M266.1 52.2h0M260 55.8h0M266.2 43.3h0M266.9 59.2h0M275.3 42.5h0M269.2 40.8h0M272 43.7h0M276.3 45.8h0M271.2 55.7h0M271.9 53.6h0M269.4 50.9h0M275.9 50h0M276.5 46h0M271.7 48.6h0M277.4 42.2h0M271.8 43.3h0M274.4 44.2h0M273.8 37.9h0M275.2 56.1h0M272.2 57.5h0M270 43.4h0M269.1 39.2h0M272.9 55h0M273.8 45.9h0M270.9 41.4h0M276.5 60h0M272.9 46.7h0M275.6 46h0M271.9 48.2h0M270.6 39.1h0M270.1 45h0M278.4 45.7h0M277.5 42.6h0M276.1 39.1h0M270.8 58.2h0M273.6 53.1h0M273.7 39.2h0M274.2 49.3h0M272.8 39.7h0M271.3 49.8h0M273.3 54.7h0M268.8 52h0M271 48.1h0M273.7 47.8h0M270.7 39.8h0M275.7 43.5h0M271.4 38.9h0M277.7 56h0M269.6 51.9h0M276.4 47.8h0M274.9 48.5h0M272 45.1h0M270.3 55h0M274.7 54.1h0M269.6 54.8h0M271.8 46.9h0M273 49.2h0M273.4 42.4h0M287 52.9h0M280.4 50.1h0M284.1 45h0M284.4 51.4h0M280.2 40.8h0M286.7 55.3h0M283.3 39.3h0M292.1 50.2h0M286.4 45.9h0M289.2 46.8h0M291 47.5h0M286.9 39.3h0M286.3 58.6h0M280.6 56.8h0M278.2 49.3h0M285.2 38.9h0M283.2 50.9h0M292.2 40.9h0M283.8 45h0M290 50.5h0M283.4 47.4h0M286.2 49.7h0M280.3 51h0M278.1 57.6h0M280.1 54.5h0M278.7 52h0M291.9 38.2h0M286.3 52.2h0M284.5 56.1h0M289.4 43.2h0M291.3 45.7h0M287.1 45.8h0M279.7 52.7h0M288.8 46.3h0M280.6 46h0M288.2 37.4h0M284.5 58.9h0M288.7 51h0M280.6 49.6h0M278.7 49.8h0M288.4 47.6h0M286.7 47.1h0M291.5 42.4h0M292.4 47.9h0M292 46.1h0M283.7 46.4h0M277.9 45.6h0M277.9 39.8h0M284.2 38.7h0M284.1 41.8h0M292.6 41.9h0M283.6 50.8h0M291.8 46.3h0M293.2 37.3h0M282.7 44.1h0M280.3 50h0M285.4 53.6h0M292.2 43.7h0M280.1 36.7h0M286.9 49.6h0M292.3 52.7h0M282.1 51.1h0M291.3 52.2h0M289.1 41.5h0M279.3 44h0M287.9 50.4h0M283.5 57.7h0M284.4 39.6h0M290.3 36.8h0M284 46.7h0M285.1 52.5h0M288.3 50.8h0M293.1 44.4h0M287.7 50.9h0M281.7 49h0M279.1 45.4h0M291.7 49.2h0M288.9 45.5h0M283.1 45.4h0M290.4 54h0M280.7 43.3h0M292.2 46.5h0M290 54.3h0M291.9 43h0M292.9 41.1h0M291.1 49.8h0M279.3 46.6h0M289.3 48.2h0M303.2 57h0M296.4 46.1h0M305.2 57h0M303.4 50.1h0M298.8 51.4h0M306 54.5h0M295.9 45.4h0M314.6 53.7h0M293.4 55.4h0M295.5 53.5h0M314.2 44.5h0M300.9 44.9h0M312.2 44.5h0M300.9 44.9h0M298.2 58.2h0M294.2 54.3h0M304.2 55.5h0M311.6 44.5h0M315.1 39.8h0M308.8 59.2h0M314.6 57.2h0M305.6 50.6h0M306 52.6h0M293 58.6h0M295 55h0M298.8 44.7h0M314.6 55.9h0M308.5 60.3h0M295.2 38.3h0M298.8 53.3h0M314.3 52.6h0M315.2 46.8h0M309.1 46.3h0M300.8 48.1h0M296.3 57.9h0M306 50.7h0M305.7 52.2h0M302 49.6h0M302.3 56.3h0M309.8 57.2h0M294.8 45.5h0M301.5 56.4h0M307.9 45.4h0M303 53h0M296.8 54.3h0M294.6 59.9h0M302.3 58.5h0M304.3 48.3h0M299.6 57.9h0M313.3 46h0M293.8 57h0M311.9 51.3h0M294 52.9h0M300.3 56h0M304.3 51.4h0M307.9 55.5h0M313.1 55.1h0M297.8 56.6h0M308.3 49.8h0M300.3 55.2h0M301.8 45.7h0M302.5 59.6h0M315.1 50.3h0M295 45.6h0M307.9 48.4h0M311 61.2h0M303.4 54h0M303.7 54.4h0M305.8 42.5h0M293.7 48.8h0M300 54.8h0M305.9 44.6h0M301 53.2h0M299 47.9h0M294.8 48.3h0M312.3 52.7h0M308.9 61.2h0M301.3 49.4h0M300.7 48.2h0M315.2 60.6h0M312.3 44.4h0M314.6 53.1h0M297.2 46.5h0M303.6 53.7h0M306 58.8h0M299 44h0M307.7 56.1h0M304.7 56.8h0M310.4 42h0M298.3 44.3h0M299.3 56h0M308.7 41.8h0M297.5 48.9h0M300.8 53h0M309.3 60.1h0M298 44.8h0M307.1 43.2h0M298.9 55.7h0M314.5 49h0M307.9 49.2h0M300.3 54.2h0M310.7 44.4h0M298.8 48.5h0M308.8 52.9h0M302.6 51.3h0M299.8 49.2h0M299.1 50.3h0M312 60h0M302.4 51.1h0M310.2 60.9h0M302.7 60.6h0M306.2 59.2h0M301.3 56.6h0M301.1 45.2h0M306.8 60.1h0M293.2 45.6h0M297.2 46.1h0M313.3 52.8h0M300 54.2h0M300.1 44.4h0M295.5 54.1h0M299.8 52h0M295.3 54.7h0M298.2 48.4h0M301.2 60.2h0M310.7 47.4h0M303.6 55.1h0M294 56.8h0M310.3 53.7h0M305.1 56.6h0M298.6 46.4h0M318.4 55.1h0M316.5 61.2h0M315.5 57.2h0M318.9 61.7h0M320.5 53.8h0M318.9 51.1h0M317.8 53.5h0M319.8 51h0M322.5 60.6h0M315.7 47.9h0M317.5 50.7h0M318.1 58.6h0M320.2 47.5h0M316.7 52.8h0M318.5 46.8h0M322.6 49.3h0M318.6 56.3h0M316.2 50.3h0M320 57.2h0M319.8 56.8h0M319.3 59.2h0M318.7 53.7h0M320.3 54h0M319.8 48.8h0M318.4 50.2h0M319.4 48.5h0M322.7 54.7h0M320.1 58.8h0M322.4 50.7h0M320.7 60.5h0M321.5 49.3h0M314.9 44.4h0M320.4 54.2h0M321.8 61.6h0M315 57.8h0M315.3 58.3h0M316.1 58.3h0M317 58.1h0M322.8 56h0M320.7 57h0M315.5 46.2h0M334.9 58.1h0M332.8 52.4h0M326.3 47.1h0M327.4 52.9h0M332.7 57.4h0M330.3 50.3h0M324.2 51.2h0M328.4 53.3h0M328.3 49.2h0M330.5 56.8h0M335.6 44.4h0M326.4 51.1h0M328.3 54.1h0M332 53.2h0M328.6 52.3h0M323.8 55.6h0M327.1 46.3h0M331.8 58.1h0M332.5 46.1h0M329.4 53.9h0M325.1 58.8h0M330.3 60.5h0M326.2 53.1h0M330.3 60.6h0M326.4 60.1h0M333.6 48.7h0M333.8 58.9h0M333.1 55.5h0M328.6 48.8h0M324.7 50.6h0M330.9 49.2h0M325.1 52.3h0M327 58.7h0M327.1 57.1h0M327.7 51.6h0M328.6 51.1h0M326.7 57.9h0M328 57.7h0M336.6 54.5h0M324.3 43.5h0M324.8 47.1h0M329.4 51.1h0M334.5 53.2h0M332.3 46.3h0M327 52.7h0M334.9 55.2h0M331.8 53.9h0M325.5 56.6h0M332.9 53h0M332.2 56.9h0M324.1 57.6h0M332.4 60h0M330.8 48.1h0M325.3 59.9h0M324.1 55.3h0M328.5 56.6h0M329.1 61.6h0M329.4 58.8h0M336.2 56h0M328.9 45.4h0M335 60.3h0M329.5 51h0M330.5 61.1h0M355.7 48.6h0M344.8 60h0M345.4 46.5h0M350.9 60h0M355.4 54.7h0M336.5 60.7h0M338.7 50.5h0M340.7 56.4h0M337.9 54.6h0M353.2 56h0M341.3 56.7h0M351.6 55.4h0M355.8 51.3h0M338.2 52.8h0M350.6 47.6h0M346.5 53.8h0M345.2 54h0M341.8 46.5h0M337.8 45.3h0M338.5 48.3h0M346.6 45.3h0M354.7 58.4h0M356.6 57.8h0M341.4 47.6h0M348.9 60.5h0M353 48.1h0M337.7 49.6h0M349 58.3h0M345.7 53h0M338.2 51.5h0M349.7 50.7h0M356.2 56.7h0M344.9 54.6h0M349.7 51.6h0M348 51.9h0M356.3 57.2h0M356.8 49.8h0M351.6 45.7h0M355.7 50.5h0M352.5 46h0M342.6 57.9h0M353.7 40.9h0M339.6 54.3h0M343.1 55.3h0M339.3 49.5h0M342.9 55.9h0M342.4 55.8h0M345.2 56.5h0M336.3 48.1h0M356.2 56.3h0M341.4 60h0M348.2 51.9h0M341.2 59h0M356.8 47.5h0M338.7 54.4h0M353 49h0M347.6 51h0M341.6 59.3h0M340.1 42h0M349.2 45.1h0M355.4 45h0M355.5 55.1h0M338.2 54.3h0M349.6 39.3h0M355.7 44h0M352 57.3h0M338.4 49.3h0M350.4 45.4h0M338.7 53.5h0M355.9 48.4h0M345.4 46.5h0M356.4 54.8h0M337.6 52.8h0M344.7 48.7h0M344.7 49.2h0M341 52.3h0M346.3 54h0M342.8 44.4h0M356.9 56h0M338 56.6h0M344.9 44.8h0M353.6 38.3h0M348.2 54.5h0M349.1 57.8h0M347.4 53.1h0M338.2 48.4h0M352.8 52.2h0M354.3 51.8h0M351.9 59.4h0M341.8 44.1h0M353.4 48.3h0M344 60.1h0M352 45.7h0M355.5 52.6h0M355.2 49.2h0M345.7 48.2h0M351.3 44.9h0M349.3 45h0M350.8 51.7h0M354.4 56.4h0M352.6 53h0M341 51.9h0M340.8 42.8h0M342.9 47.2h0M356 51.1h0M346.9 55.5h0M343.3 50.5h0M352.3 52.8h0M336.4 49.2h0M339.5 48.6h0M344.4 49.5h0M343 55.7h0M338.9 55h0M338.6 43.2h0M346.7 58.6h0M340.6 41.5h0M353.4 56.2h0M352.1 43.2h0M356.7 52h0M353.5 45.8h0M350.4 53.8h0M361.8 59.6h0M357.7 56.6h0M364.8 58.1h0M357.6 45.9h0M363.6 61.6h0M363.7 53.5h0M364.1 61.8h0M364.7 61.3h0M357.2 56.6h0M362.7 47.9h0M356.8 61.4h0M358.7 50h0M361.4 44.8h0M357.7 58.9h0M363.4 62h0M361 56.4h0M365.1 46.7h0M364.5 60.8h0M358.9 54.5h0M357.9 59.5h0M365.7 45.9h0M357.6 51.1h0M362.6 52.8h0M361.3 56.4h0M365 53.1h0M365.1 53.7h0M365.1 51.1h0M364.6 60.3h0M364.4 51.5h0M360 53.1h0M358.3 51.4h0M365.6 58.3h0M360 54h0M365.3 47.7h0M361.9 61.1h0M365.6 57.7h0M358.1 55h0M362 48.9h0M359.4 53h0M360.6 49.1h0M357 58.8h0M359.7 53.9h0M363.8 58.2h0M361.5 53h0M362.7 52h0M360 53h0M357.1 48.5h0M370.7 53.9h0M365.5 43.9h0M370.5 48.5h0M366.8 51.3h0M372.1 41.8h0M372 39h0M370.7 48.8h0M373.4 41.6h0M369.7 45.5h0M367.2 44.7h0M365.3 54.2h0M371.3 46.7h0M367.2 40.7h0M368.2 48.7h0M370 46.5h0M373.5 50.3h0M372.6 47.7h0M371.7 49.8h0M367 36.2h0M369.3 49h0M371.7 50.5h0M367.4 42.6h0M371.7 36.5h0M370.8 52.3h0M369.7 42.2h0M367.8 48.6h0M366 50.1h0M366.7 37.4h0M366.2 43.7h0M367.3 44h0M367.5 45.6h0M371.5 41.4h0M369.9 57.7h0M365.3 48.3h0M367.9 44.8h0M365.4 46.2h0M367.8 52.5h0M367 49.2h0M368.3 51.6h0M370.1 52.7h0M367.8 43.6h0M368.1 36.3h0M371.9 39.1h0M366.3 43.1h0M370.3 56.2h0M365.5 38.8h0M367.2 44.5h0M375.2 48.4h0M373.9 41.5h0M373.9 56.8h0M373.2 60.9h0M375.3 60.7h0M376.5 55.3h0M373.6 55.4h0M376.4 54.9h0M374.8 50.1h0M374.5 53.7h0M375.4 49.9h0M373.6 52.6h0M375.7 54.7h0M377.2 60.6h0M374.4 45.3h0M374.8 60.6h0M374.7 54.1h0M375.1 50h0M373.2 56.4h0M373.4 49.7h0M377.3 47.8h0M377.2 58.2h0M375.7 55h0M383.5 48.5h0M378.8 50h0M383.5 54.7h0M384 45.7h0M378.3 56.7h0M381 50.4h0M379.8 49.3h0M377.2 45.2h0M377.6 48.6h0M377.1 39.6h0M380.4 48h0M382.6 55.9h0M383.1 52.9h0M380.1 48h0M380.9 40.3h0M384 52.8h0M376.9 52.5h0M379.8 54.5h0M383.5 49.6h0M382.1 40.8h0M379 46.5h0M381.1 50h0M378 55.5h0M383.9 48.3h0M378.3 52.3h0M381.5 38.6h0M380.5 50.2h0M381.5 42.3h0M380.4 43.2h0M379.9 52.4h0M379.9 42.5h0M379.9 55.4h0M383.8 57.9h0M379.7 53.6h0M381.1 53.1h0M383.1 45.8h0M378.9 44.5h0M383.3 46.3h0M378.6 51.4h0M380.2 48h0M384 52.7h0M383.7 41.5h0M385.8 45.3h0M383.6 48.1h0M383.6 45.2h0M385.6 43.6h0M384.9 52.8h0M384 45.3h0M385.2 55.9h0M384.8 58.2h0M384.5 50.2h0M390.9 51h0M397 52.1h0M391.7 44h0M393.9 54.7h0M393.1 53.5h0M390.7 49.1h0M390.1 42.4h0M390.4 46.9h0M391.9 47.8h0M389.3 54.6h0M390.9 54.7h0M395.1 50.2h0M395.2 45.8h0M391.8 45.2h0M392.8 56.2h0M391.4 57.3h0M391.2 51.4h0M392.2 45.9h0M390.9 47.6h0M393 52.4h0M388.3 50.1h0M389.7 41.8h0M390.1 52.4h0M390.4 54.5h0M394.5 38.4h0M394.1 54.9h0M390.2 45.9h0M395.7 42.5h0M397.3 46.5h0M391 55.5h0M396 52.9h0M394 55.1h0M388.6 51.6h0M395.5 41.4h0M390.4 49.6h0M388.5 50.5h0M391.1 54.3h0M391.9 45.2h0M393.8 47.6h0M392.7 54.2h0M389.4 52.2h0M392.7 39.1h0M396.4 43.1h0M388.1 48.7h0M389.1 45.6h0M395.3 51.6h0M394.4 58.8h0M394.4 43.2h0M394.1 54.1h0M389 51.9h0M391.4 46.4h0M393.1 53.6h0M390.9 43.6h0M396.1 45.7h0M395.4 40.3h0M401.6 58.1h0M404.7 56.6h0M407.9 51.6h0M411.8 38.2h0M404.6 53.4h0M405.4 48.5h0M402.2 38h0M405 54.4h0M407.6 47.9h0M410.3 51.2h0M412.8 41.5h0M404 43.8h0M411.9 54.8h0M414.4 54.1h0M412 40.4h0M406 43.4h0M401.2 46.8h0M410 46.4h0M412 46.3h0M400 52.7h0M411.6 48.1h0M402.2 43.8h0M413.4 41.4h0M404 47.8h0M411.6 42.9h0M407.2 51.2h0M405.3 43.4h0M408.3 41.1h0M407.8 53.6h0M410.6 45.5h0M412.6 50.6h0M412.2 57.1h0M414.8 47.1h0M401 45.7h0M404.7 52h0M413.5 45.6h0M408.3 51.6h0M405.1 50.2h0M414.2 45.8h0M401.7 52h0M401.7 58.8h0M414.3 52.6h0M403.2 52.9h0M407.8 54.1h0M410 42.3h0M410.9 43.2h0M410.6 41.9h0M400.4 45.8h0M409.1 57h0M412.7 38.8h0M407.2 52.5h0M414.7 58h0M399.9 50.7h0M401.5 49.5h0M404.9 43.5h0M402.5 48.1h0M408.7 49.7h0M410.9 47h0M413.9 45.4h0M407.9 55.6h0M403.7 55.3h0M408.3 52.3h0M408.5 52.8h0M403.7 42.4h0M400.1 55.3h0M405.4 44h0M403.4 44.1h0M413.7 52h0M410.3 53.8h0M414.9 46.4h0M406.7 54.1h0M407.9 51.8h0M407.6 44.4h0M412.5 48.7h0M408.3 47.6h0M400.2 52.6h0M408.5 55.9h0M402.6 51.6h0M408.7 54.4h0M410.6 53.1h0M403.7 50.4h0M402.5 48.4h0M411.2 44.6h0M406.3 53.5h0M408.7 45.5h0M410.3 54.2h0M403.2 55.7h0M421.6 44.4h0M419.4 51.9h0M428.2 50.2h0M418.6 36.1h0M418.6 47.3h0M426.5 55.6h0M427.7 48.7h0M423.7 41.5h0M419.8 42h0M424.8 49.8h0M421.7 52.6h0M425.9 44.8h0M431 57.3h0M430.2 49.2h0M420 47.8h0M430.8 51.5h0M427.5 49h0M430.1 46.2h0M417.7 52.7h0M417.6 42.9h0M429.1 51.2h0M430.5 50h0M420.8 41.3h0M417.2 50h0M424.1 58.3h0M421.3 45.4h0M428 51.4h0M424.5 44.2h0M429.9 49.3h0M427.4 45.4h0M428.7 45.5h0M425.9 52h0M424.6 59.4h0M421.9 60.3h0M429.7 49.3h0M417.3 56.4h0M428.4 48.9h0M428.2 54h0M428.9 44.8h0M424.3 53.6h0M421.7 51.5h0M430.8 53.4h0M425.2 37.6h0M427.9 46.3h0M427.6 52.4h0M421.7 53.8h0M423.2 52.6h0M431 43.3h0M427.8 49.2h0M422.9 42.2h0M421.5 36.7h0M427.4 40.4h0M418.3 54.8h0M421.5 57.2h0M427.3 46.6h0M420 47.2h0M420.3 39.8h0M422.7 56.3h0M426 51.1h0M419.6 51.7h0M421.4 44.6h0M423.9 39.7h0M425.3 42h0M422.3 58h0M418.9 52h0M420.3 45.2h0M424 53.1h0M420.8 52.8h0M420.8 52.9h0M421.7 51h0M417.5 47.4h0M427.4 47.6h0M429.7 44.8h0M420 46.3h0M424.1 43.4h0M418.8 49.4h0M425.9 40.7h0M422.4 58.4h0M429.2 45.5h0M418.2 46.4h0M435.9 51.4h0M443.3 41.2h0M436.6 54.5h0M441.5 55.1h0M443 57h0M435.1 53.4h0M439.8 43.7h0M442.5 54.3h0M436.4 55.7h0M434.4 59.4h0M434.6 53.2h0M440.5 49.9h0M440.2 48.4h0M434.5 48.4h0M439.8 60.1h0M444.8 52.8h0M443.5 50.4h0M442.7 46.9h0M444.9 42.5h0M442.6 53.2h0M436.3 46.3h0M436.1 43.9h0M441.9 48.4h0M445.3 49.1h0M441.5 45.1h0M444.7 55.7h0M439.1 48.8h0M437.2 55h0M435.6 56.2h0M437.7 44.2h0M435.1 55.5h0M440.2 47.4h0M437.3 51.8h0M439.4 50.2h0M436 56.2h0M438.3 59.3h0M440.4 47.2h0M441.1 49.8h0M433.9 44.9h0M439.9 54.1h0M438 50.8h0M436.9 45.9h0M444.1 57.9h0M436.7 50.1h0M436 47.9h0M434.4 57.1h0M442.9 51.5h0M444.1 57.4h0M444.1 43.9h0M436.6 55.1h0M435.5 48.1h0M440.3 50.8h0M439.1 58.9h0M436.6 47.3h0M440.8 43.4h0M444.9 55.8h0M435.5 58h0M435.1 44.2h0M439.1 54.4h0M442.1 45.4h0M444.7 55.2h0M445.2 53.6h0M436.6 50.9h0M444.3 48.3h0M444.1 47.7h0M434.8 41.1h0M435.7 55.5h0M445.2 55.1h0M446.1 52.6h0M446.4 55h0M444.9 52h0M444.9 56.3h0M446 53h0M445.7 49.8h0M445.6 55.8h0M450.8 46.9h0M446.2 54.5h0M449.7 53.3h0M446.7 43.9h0M450.4 50.9h0M446.6 53.4h0M446.7 39.9h0M446 49.3h0M451.7 53h0M446.6 53.5h0M451.2 45.2h0M449.5 45.2h0M450.5 47.6h0M449.8 54.9h0M446.6 54.6h0M448 40.7h0M449.4 48.1h0M448.1 51.1h0M449.3 43.9h0M449.4 52h0M448.7 50.2h0M447.8 46.1h0M450.8 43.2h0M447.4 43.1h0M449.1 53.8h0M448 50h0M450.9 48.3h0M446.4 44.4h0M446.1 43.9h0M448.5 42.2h0M446.9 54.5h0M449.4 49.1h0M457 53.1h0M456.9 47.3h0M454.9 52.9h0M459.6 55.7h0M454.3 52.1h0M456.5 58.1h0M453.5 57.8h0M457.9 49.3h0M453.1 48.1h0M458.9 54h0M459.4 52.6h0M454.1 59.1h0M457.5 48.4h0M453.5 53.4h0M453.9 48.6h0M459.8 54h0M459.2 58.3h0M455.3 59.1h0M456.2 57.6h0M459.4 47.2h0M453.4 43h0M456.4 58.1h0M459.4 51.5h0M455.2 50.9h0M454.9 56.8h0M458 61.9h0M454.8 51.3h0M456.4 52.2h0M458 50.8h0M456.4 49.5h0M457.9 59.7h0M455.1 47.6h0M458 50h0M455.6 55.7h0M453.2 52.5h0M465.6 50.3h0M461.4 52.6h0M463.9 45.8h0M465.1 42.8h0M464.6 45.9h0M461.9 57.1h0M465.4 41h0M465.4 54.2h0M461.9 41.4h0M461.3 53.2h0M464 60h0M466 51.5h0M463 53.3h0M462.9 47.2h0M464.6 52.9h0M459.9 55.1h0M465.2 58.1h0M462.1 52.7h0M463.6 51.7h0M461.7 49.3h0M464.7 45.1h0M460.1 44.7h0M462 48.6h0M463.8 53.7h0M463.3 49.7h0M466 51.6h0M464.8 45h0M465 41.1h0M463.7 47.6h0M461.7 49.3h0M464.7 55h0M460 54h0M460.1 43.5h0M465.2 49.1h0M463.7 46.7h0M461.4 48.5h0M467.9 53.1h0M470.6 53.7h0M464.3 48.3h0M464.2 49.2h0M465 46.5h0M467.5 53.3h0M467.2 41h0M465.4 58.2h0M468.5 50.7h0M469.6 50.1h0M471.7 48.5h0M468.3 52h0M469.5 50.3h0M467.7 39.7h0M469.9 41.4h0M464.7 51.4h0M465.3 49.5h0M471.6 48.6h0M465.9 53.7h0M468.7 54.5h0M470.7 38h0M469.4 52.7h0M464.6 53.6h0M469.3 49.9h0M470.4 40.2h0M468.2 53h0M465.6 49.5h0M472 38.5h0M471.3 43.4h0M464.9 42.1h0M471.3 39.8h0M467.4 48.7h0M468.5 55.3h0M468.7 48.5h0M466.3 41.6h0M465.6 50.3h0M468.5 53.9h0M468.3 45.1h0M465.5 49.1h0M465.8 49.7h0M464 50h0M464.7 38.4h0M471.8 48h0M468.1 49.8h0M471.3 41h0M465.4 45.6h0M471 47.9h0M465.5 48.6h0M474.4 55.1h0M471.9 55.4h0M474.1 53.5h0M473.7 55.4h0M475.2 48.3h0M474.8 46.7h0M472.6 59.1h0M472.6 50h0M472.4 42.9h0M475.2 52.4h0M474.3 60h0M474.5 43h0M472.7 57.2h0M473 45.7h0M474.2 49h0M473.2 43.4h0M474.1 48.3h0M471.8 46.9h0M475.7 58.5h0M481.8 46.9h0M480 54.4h0M479.5 47.5h0M481.2 60.2h0M481.3 51.8h0M478.1 55.8h0M475.7 57.4h0M476.5 46h0M482.3 53.1h0M477.9 49.5h0M481.6 57.6h0M476.9 50.5h0M481 47.9h0M474.9 50.3h0M477.3 53.1h0M483.2 61.8h0M477 55.2h0M480.8 61.9h0M479.9 59.4h0M483.3 46h0M476.5 57.9h0M475.4 54.3h0M477.4 55.1h0M481.7 47.8h0M477.4 48.3h0M479.8 54.7h0M476.4 53.3h0M482.7 54.4h0M478.2 61.2h0M476.7 61.2h0M481.9 59.5h0M476 59.1h0M475.6 47.8h0M479.4 56.9h0M480.1 47.3h0M476.4 59.9h0M480.5 61.4h0M482 52.3h0M482.7 50h0M480.7 58.5h0M481.5 47.6h0M476.1 59.5h0M480.7 50.8h0M481.5 56.1h0M481.8 60h0M488.4 52h0M485.5 52.8h0M492 57.6h0M486.1 41.5h0M483.6 44.7h0M488.5 44.6h0M489.9 57.5h0M484.2 43h0M491.9 52.6h0M491.9 48.2h0M491.5 55.5h0M488 40.2h0M491.2 51h0M490.5 44.7h0M487.3 43.2h0M486 45.9h0M491.6 44.2h0M489 41.6h0M483.6 56h0M488 53.6h0M486 53h0M491.1 47.5h0M486 43h0M492.6 49.2h0M490 56.4h0M484.6 46.1h0M485.9 44.9h0M490.3 52.2h0M488.6 56.6h0M489.1 39.9h0M486.8 51.8h0M488.9 58.4h0M485.8 47.2h0M487.8 54.1h0M492 54h0M486.5 38.9h0M493 37.7h0M486 53.1h0M486.5 52.3h0M491.9 51.3h0M485.3 45.2h0M491.6 50.5h0M489.2 47h0M484.1 40.1h0M486.1 42.5h0M488.7 48.7h0M492 53.7h0M484.6 48.5h0M492.3 49.9h0M491.7 52.7h0M493 56.1h0M488.3 54.9h0M486 45h0M493.4 51.4h0M493.1 57.3h0M498.9 56.2h0M498.4 43h0M498.5 50.9h0M492.8 46.6h0M498 59.6h0M493.2 48.6h0M497.4 56.5h0M496 55.9h0M497.6 40.9h0M492.9 45.9h0M496.8 40.3h0M498 44.2h0M494 56.6h0M496.3 44.5h0M496.2 42.3h0M496.7 38.9h0M499 44.6h0M498.2 47.3h0M494.8 54.6h0M496.1 57.9h0M495.2 44.9h0M499.3 47.8h0M495.2 37.7h0M498.4 56.3h0M495.5 57.3h0M495.9 52h0M498.1 48.9h0M495.2 53.8h0M493.8 48.5h0M493.4 42.4h0M497.5 54.2h0M492.6 45.2h0M494.6 46.8h0M497.6 57.3h0M496.5 52.1h0M494.5 54.7h0M496.8 52.8h0M499.6 47.5h0M493.8 48.4h0M499.4 44.1h0M499.8 43.1h0M501.8 51.5h0M499.7 49.5h0M501.9 50.7h0M501.9 46.2h0M499.4 49.2h0M501.8 46.3h0M500.2 52.6h0M499.7 36.8h0M499.4 41.5h0M501.6 48.6h0M499.9 46.9h0M499.3 37.1h0M502.2 45.5h0M502.3 41.1h0M507 44.5h0M507.2 53.5h0M506 54h0M508.3 48.9h0M506.7 48.9h0M508.3 48.9h0M506.3 57.5h0M507.8 52.5h0M504.7 38.6h0M507.9 50.2h0M507.3 54.4h0M507.4 55.5h0M505.1 52.2h0M507.9 48.9h0M506.8 39.9h0M504.6 38.7h0M504.1 44h0M506.5 45.2h0M509 48.2h0M504.7 45.1h0M509.4 53.9h0M505.3 55.1h0M508.1 36.3h0M506.5 41.9h0M504.1 55.1h0M508.7 53.7h0M505.8 44.5h0M504.7 45.3h0M506.4 50.6h0M509.8 53.9h0M505.1 46.3h0M516.2 51.9h0M514.8 59h0M515.2 53.6h0M514.3 42.6h0M512.3 57h0M517.4 49.3h0M516.4 46h0M513.9 48h0M511.8 58.3h0M512.8 54.3h0M516.8 53.7h0M517.2 40.5h0M517.1 50.5h0M516.7 55.1h0M516.2 50h0M512.2 41.5h0M512.8 42.5h0M517.3 57.5h0M515.6 47.4h0M514.1 47.4h0M513.4 55.1h0M516.9 57h0M516.9 42.7h0M515.8 54.5h0M513.5 51.5h0M512 44.1h0M514.9 49.8h0M517.4 61.5h0M514.8 43.7h0M512.9 39.6h0M517 46.9h0M521 49.8h0M517.3 57.2h0M522.7 56.9h0M517.3 50h0M518.3 50.3h0M517 39.9h0M520.3 46.3h0M519 47.1h0M518.9 42.7h0M521.7 53.3h0M519.8 47.9h0M518.2 53.6h0M519.8 55.7h0M519.3 44.3h0M517.5 44.4h0M522.1 54.6h0M518.1 49h0M518.5 46.8h0M518.9 49.7h0M518.7 47.1h0M517.5 55h0M521.7 49.5h0M519.8 56.4h0M521.2 48.9h0M517.7 61.1h0M521.4 50.5h0M522.6 47.6h0M518 49.8h0M520.4 47.5h0M518.8 41.9h0M522.5 53.2h0M521.3 54.9h0M537.9 52.4h0M533.3 46h0M537.2 60.7h0M523.4 52.8h0M539.6 52.5h0M536.1 45.6h0M526.3 55.2h0M524.5 42.9h0M527.1 58.3h0M536.2 43.4h0M530.4 43.9h0M536.7 48.9h0M527.8 47.4h0M535 47.8h0M528.4 46.6h0M536.4 43.8h0M524.8 44.4h0M529.2 48.6h0M532 59.2h0M535.6 49.4h0M529.6 49.4h0M522.5 47.5h0M532 55h0M522.9 47.2h0M538.7 53.3h0M532.3 43.3h0M534.2 43.6h0M524.4 39.2h0M528.2 50h0M536.3 47.8h0M532 52h0M532.8 49.1h0M528.6 47h0M534.9 43.4h0M529.1 39.7h0M527.2 55.9h0M529.5 53.6h0M531.6 56.4h0M529.9 52.4h0M523.9 50.7h0M533.2 50.3h0M528.5 47.8h0M525.4 46.6h0M535 52.4h0M536.2 52.4h0M531.2 50.2h0M539.7 56.6h0M534.3 53.5h0M537.6 51.9h0M529.2 56.3h0M535.1 50.3h0M539.6 56.1h0M527.7 40.5h0M540.6 60.5h0M526.4 53h0M534.8 48.4h0M523.5 57.3h0M524.7 57h0M529 58.1h0M530 45h0M524.7 53.5h0M524.8 51.1h0M539 47.4h0M533.7 54.2h0M536 47.2h0M535.9 47.6h0M533.8 52.7h0M540.3 60.1h0M526.3 43.4h0M528 49.2h0M540.5 49.8h0M530.1 44.1h0M540.3 45.2h0M539.4 40.1h0M532.1 59h0M528.8 55.5h0M540.7 55.8h0M528.9 47h0M534.8 45.6h0M537.7 47.4h0M531.1 48.9h0M531.1 42.9h0M535.9 43.8h0M529.2 53.3h0M529.2 53.8h0M529.3 53.4h0M530.3 52.2h0M539.5 56.1h0M538.8 53.7h0M535.6 47.2h0M530.1 59.1h0M535.7 50.4h0M531.5 44.3h0M530.7 50.8h0M533.9 49.4h0M536.6 54.3h0M533.4 47.1h0M534.9 52.8h0M536.8 38.9h0M527.4 47.4h0M538.9 42.7h0M538.8 50.8h0M540.6 54.5h0M529 49.7h0M529 50.3h0M523.3 51.4h0M537 45.2h0M536.5 44.7h0M258.2 36.5h0M183.8 34.8h0M472.5 37.5h0M287.9 37.5h0M168.5 33h0M246.9 37h0M168.2 36.8h0M232.3 34.8h0M421.5 35.5h0M422.5 38.2h0M255.3 33.2h0M468.3 36.9h0M348.5 37.8h0M334.2 39.3h0M88 39.8h0M365 35.9h0M497.7 39.3h0M356 33.1h0M368.3 35.9h0M345.7 38.8h0M144.1 38.9h0M225.6 34.8h0M101 33.7h0M206.1 36.7h0M512.6 34.2h0M215.8 35.6h0M375.9 35.5h0M389.5 34.1h0M104 37.1h0M414 33.9h0M105.9 37.7h0M113.9 39.5h0M398.9 34.1h0M270.7 33.4h0M124 35.5h0M484.2 39.4h0M427.5 37.5h0M350.4 36.6h0M383.1 36.5h0M265.3 38.9h0M540 32h0M209 26.5h0M163.6 36.5h0M386.1 48.9h0M388.9 55.2h0M385.5 42.8h0M388.7 38.6h0M384.4 38.1h0M389.9 44.5h0M386.2 51h0M389.6 36.5h0M385.4 48.2h0M386.9 48.9h0M387.1 40.7h0M388.4 41.2h0M390.3 51.4h0M384 42.7h0M385.4 44.1h0M387.2 54.9h0M388.7 38.3h0M388 52.6h0M386 35.1h0M389.2 49.2h0M382.9 49.9h0M386.5 50.4h0M386.7 47.2h0M388.5 35.1h0M390 44.9h0M385.4 41.9h0M389.3 51h0M388.1 36.6h0M389.5 44.3h0M388.8 51.4h0M381.5 53.2h0M390.1 41.1h0M384 43.9h0M386.1 52h0M385.7 39.6h0M382.9 45.1h0M384 34.4h0M386 51.9h0M385.6 52.8h0M387.2 46.2h0M386.6 47.7h0M383.2 54.1h0M388.7 37.6h0M387.5 48h0M386.9 37h0M387.3 37.8h0M384.5 44.2h0M386.2 34.3h0M385.1 36h0M386.5 35.2h0M388.1 37.7h0M388.6 44.2h0M388.7 53.3h0M389.9 41.1h0M391.9 35.9h0M389.3 48.3h0M386.9 53.6h0M384.3 37.2h0M385.9 53.7h0M382.1 52.7h0M384.4 52.7h0M387.8 42.4h0M386.8 38.5h0M387.4 37.1h0M388.5 41.8h0M386 55.4h0M385.9 36.3h0M384.6 42h0M385.4 43.3h0M392 55.4h0M219.4 55.8h0M220.1 37.7h0M220.1 42.2h0M216.9 54.4h0M214.3 48.3h0M222 56.8h0M221.3 51.2h0M218.7 52h0M219.3 51.1h0M219.1 52.8h0M219.8 37.5h0M220.3 48h0M222.5 45.1h0M221.9 57.9h0M219.3 40h0M217.4 45.4h0M216.4 55.6h0M217 43.1h0M222.4 51.1h0M219.9 50.2h0M220.7 49.8h0M216 54.1h0M222.9 50.7h0M222.9 38.1h0M220.9 42.7h0M222 56.6h0M219.1 47.1h0M221.8 56.7h0M218.1 51.9h0M223.5 48.5h0M223.4 52.5h0M218.1 48h0M220.9 50.3h0M219.9 38.6h0M218.4 44.5h0M218.1 54.1h0M221.3 45.8h0M216.7 47.8h0M224 49.4h0M219.1 37.7h0M220 38.6h0M219.1 50.5h0M220.6 51.1h0M222.7 39.6h0M225.5 50.5h0M364.6 43.8h0M369.2 42.2h0M366.4 43.4h0M368.2 37.7h0M367.7 41h0M367.7 38.6h0M369.4 35.4h0M367.6 41.3h0M368.6 36.1h0M369.4 40.3h0M368.1 40.4h0M369.4 39.5h0M371.2 40.2h0M369.4 42.4h0M370.6 40.2h0M368.6 42.8h0M370.3 34.5h0M366.1 38.3h0M368.8 34h0M371.5 38.6h0M370.9 36.9h0M367.9 34.8h0M368.7 42.3h0M368.6 37.2h0M367.2 34.8h0" stroke="#b5b5b5" stroke-width="1.7" stroke-linecap="round" fill="none"/>
<path d="M78.8 51.5L544.5 51.5" stroke="#333" stroke-width="0.9"/>
<path d="M120.8 12.3L120.8 65" stroke="#9c9c9c" stroke-width="0.8" stroke-dasharray="4.2 4.1" stroke-dashoffset="5"/>
<path d="M157.4 12.3L157.4 65" stroke="#9c9c9c" stroke-width="0.8" stroke-dasharray="4.2 4.1" stroke-dashoffset="5"/>
<path d="M187.2 12.3L187.2 65" stroke="#9c9c9c" stroke-width="0.8" stroke-dasharray="4.2 4.1" stroke-dashoffset="5"/>
<path d="M216 12.3L216 65" stroke="#9c9c9c" stroke-width="0.8" stroke-dasharray="4.2 4.1" stroke-dashoffset="5"/>
<path d="M243.3 12.3L243.3 65" stroke="#9c9c9c" stroke-width="0.8" stroke-dasharray="4.2 4.1" stroke-dashoffset="5"/>
<path d="M269.1 12.3L269.1 65" stroke="#9c9c9c" stroke-width="0.8" stroke-dasharray="4.2 4.1" stroke-dashoffset="5"/>
<path d="M293 12.3L293 65" stroke="#9c9c9c" stroke-width="0.8" stroke-dasharray="4.2 4.1" stroke-dashoffset="5"/>
<path d="M315.1 12.3L315.1 65" stroke="#9c9c9c" stroke-width="0.8" stroke-dasharray="4.2 4.1" stroke-dashoffset="5"/>
<path d="M336.4 12.3L336.4 65" stroke="#9c9c9c" stroke-width="0.8" stroke-dasharray="4.2 4.1" stroke-dashoffset="5"/>
<path d="M356.8 12.3L356.8 65" stroke="#9c9c9c" stroke-width="0.8" stroke-dasharray="4.2 4.1" stroke-dashoffset="5"/>
<path d="M377.1 12.3L377.1 65" stroke="#9c9c9c" stroke-width="0.8" stroke-dasharray="4.2 4.1" stroke-dashoffset="5"/>
<path d="M397.3 12.3L397.3 65" stroke="#9c9c9c" stroke-width="0.8" stroke-dasharray="4.2 4.1" stroke-dashoffset="5"/>
<path d="M414.6 12.3L414.6 65" stroke="#9c9c9c" stroke-width="0.8" stroke-dasharray="4.2 4.1" stroke-dashoffset="5"/>
<path d="M430.8 12.3L430.8 65" stroke="#9c9c9c" stroke-width="0.8" stroke-dasharray="4.2 4.1" stroke-dashoffset="5"/>
<path d="M446.2 12.3L446.2 65" stroke="#9c9c9c" stroke-width="0.8" stroke-dasharray="4.2 4.1" stroke-dashoffset="5"/>
<path d="M459.8 12.3L459.8 65" stroke="#9c9c9c" stroke-width="0.8" stroke-dasharray="4.2 4.1" stroke-dashoffset="5"/>
<path d="M472.1 12.3L472.1 65" stroke="#9c9c9c" stroke-width="0.8" stroke-dasharray="4.2 4.1" stroke-dashoffset="5"/>
<path d="M483.9 12.3L483.9 65" stroke="#9c9c9c" stroke-width="0.8" stroke-dasharray="4.2 4.1" stroke-dashoffset="5"/>
<path d="M492.8 12.3L492.8 65" stroke="#9c9c9c" stroke-width="0.8" stroke-dasharray="4.2 4.1" stroke-dashoffset="5"/>
<path d="M502.2 12.3L502.2 65" stroke="#9c9c9c" stroke-width="0.8" stroke-dasharray="4.2 4.1" stroke-dashoffset="5"/>
<path d="M509.5 12.3L509.5 65" stroke="#9c9c9c" stroke-width="0.8" stroke-dasharray="4.2 4.1" stroke-dashoffset="5"/>
<path d="M517.2 12.3L517.2 65" stroke="#9c9c9c" stroke-width="0.8" stroke-dasharray="4.2 4.1" stroke-dashoffset="5"/>
<path d="M83.2 45H104.4M104.4 45.8H120.7M120.8 48.2H157.4M157.4 48.3H187.2M187.2 48.2H216M216 49.5H217.8M217.8 47.5H223M223.6 49H226.6M226.6 50.3H243.3M243.3 47.9H249.3M249.3 46.6H269M269.1 45H278.1M278.1 44.5H293M293 48.2H315M315.1 51.4H322.6M324.1 51.4H336.3M336.4 48.2H356.7M356.8 51.6H365.5M365.5 42.6H373.3M373.3 51.6H377.1M377.1 45.1H383.7M383.7 47.5H385.5M388 45.2H397.1M400.1 45.1H414.6M417.5 44.7H430.8M433.8 48.1H445.1M445.1 45.5H446.2M446.2 45.5H451.5M453.2 52H459.8M459.8 46H465.9M464.1 42.9H472.1M472.1 47.6H475.1M475.1 51.5H483.8M483.9 46H492.7M492.8 45H499.5M499.5 41.8H502.2M504.4 45.5H509.5M512.1 46.3H517.2M517.2 46.8H522.5M522.5 47.3H540.6" stroke="#8a2be2" stroke-width="1.5" stroke-linecap="butt" fill="none"/>
<path d="M386 44.1h0M387.6 35.2h0M388.6 37.4h0M383.6 18.6h0M387.5 21.7h0M387.6 49.4h0M386.8 52.8h0M386.6 31.6h0M385.2 21.3h0M386 29.1h0M385.4 45.2h0M387.7 42h0M387 50h0M387.5 23.3h0M385.7 52.8h0M387.6 17.9h0M386.1 36h0M385.5 47.3h0M387.6 28.4h0M387.3 44.2h0M386.3 22.5h0M385.5 44.5h0M386.1 43.8h0M385.3 51.2h0M386.6 46h0M388 26.6h0M387.2 51.4h0M386 38h0M388.5 45.1h0M386.1 30.3h0M385.2 46h0M386.8 32h0M387.1 35.7h0M386.1 22.2h0M386.9 18.7h0M387.2 37.5h0M385.8 45.7h0M385.8 36.6h0M386.3 28.9h0M386.1 17.8h0M387.5 21.9h0M388.1 38.5h0M385.4 48.4h0M387.5 46.9h0M389 31.3h0M385.9 52.6h0M386.6 28.8h0M385.7 35.8h0M386.8 49.1h0M386.1 41.1h0M385.6 30.7h0M385.9 31.6h0M386.3 42.7h0M385.4 48.5h0M386.7 50.9h0M386.6 24h0M386.9 25.1h0M385.6 17.4h0M385.3 19h0M387.1 17.4h0M386.5 44h0M390.2 26.2h0M385.9 42.5h0M388.1 27.3h0M386.1 25.5h0M388.6 32.5h0M385.7 19h0M386.1 25.3h0M388.8 31h0M386.1 23.6h0M387.6 49.6h0M385.7 20.4h0M386.6 31.7h0M385 28.5h0M386.6 19.2h0M390.1 38.6h0M387.2 28.7h0M385.7 41.8h0M385.8 22.8h0M385.9 49.6h0M389.1 33.8h0M387.4 40h0M386.5 28.9h0M385.9 23.7h0M386.9 42.6h0M389.6 49.9h0M386.7 46.1h0M387.5 26.2h0M386.9 33h0M386.4 18.1h0M389.7 33.6h0M389.2 36.2h0M385.4 52.4h0M388.7 36.2h0M386.5 18.9h0M386.6 37.9h0M387 33.8h0M388.7 27.4h0M388.3 39.5h0M386.5 19.9h0M389.5 31h0M390.5 38h0M391.3 33h0M389 41h0M378 36h0M378.3 37.5h0M219.7 27.4h0M219.6 33.8h0M221 43.7h0M221.2 37h0M220.8 28.2h0M218.9 43.3h0M220.9 40.6h0M219.3 30.6h0M219.9 41.6h0M218.6 37.3h0M220.3 23h0M218.6 24.7h0M218.2 32h0M220.4 34.7h0M219 30.3h0M218.6 30.3h0M219.4 44.2h0M218.1 30h0M215.4 33.2h0M218.1 30.8h0M221.8 38.3h0M220.5 28.5h0M221.3 43.9h0M217.7 35.6h0M222.2 30.2h0M216.9 38.6h0M218.9 41.8h0M218.2 25.4h0M219.1 42h0M218.6 29.3h0M218.4 40.3h0M218.7 45.8h0M219.6 40.5h0M218.7 38.7h0M217 55.5h0M218.5 56.5h0M220 56h0M221 55h0M216.8 57h0M105.7 38.3h0M105.4 40.3h0M105.2 42.4h0M174.2 56.8h0M186.7 55h0M321 56h0M284 41h0M280 51h0M446 41.6h0M463.5 48.9h0M492 49.5h0M521 52h0M415 49h0M455 49h0" stroke="#8a2be2" stroke-width="2" stroke-linecap="round" fill="none"/>
<rect x="78.8" y="12.3" width="465.7" height="52.7" fill="none" stroke="#333" stroke-width="1.25"/>
<path d="M74.3 15.1L78.8 15.1" stroke="#222" stroke-width="1.4"/>
<text x="73.2" y="18.2" font-size="8.6" text-anchor="end" fill="#333">128</text>
<path d="M74.3 33.3L78.8 33.3" stroke="#222" stroke-width="1.4"/>
<text x="73.2" y="36.4" font-size="8.6" text-anchor="end" fill="#333">16</text>
<path d="M74.3 51.5L78.8 51.5" stroke="#222" stroke-width="1.4"/>
<text x="73.2" y="54.6" font-size="8.6" text-anchor="end" fill="#333">2</text>
<text transform="translate(48.8 39) rotate(-90)" font-size="9.6" text-anchor="middle" fill="#000">Copy</text>
<text transform="translate(57.8 39) rotate(-90)" font-size="9.6" text-anchor="middle" fill="#000">number</text>
<rect x="78.8" y="70.6" width="465.7" height="41" fill="#fff"/>
<path d="M120.8 70.6L120.8 111.6" stroke="#9c9c9c" stroke-width="0.8" stroke-dasharray="4.2 4.1" stroke-dashoffset="5"/>
<path d="M157.4 70.6L157.4 111.6" stroke="#9c9c9c" stroke-width="0.8" stroke-dasharray="4.2 4.1" stroke-dashoffset="5"/>
<path d="M187.2 70.6L187.2 111.6" stroke="#9c9c9c" stroke-width="0.8" stroke-dasharray="4.2 4.1" stroke-dashoffset="5"/>
<path d="M216 70.6L216 111.6" stroke="#9c9c9c" stroke-width="0.8" stroke-dasharray="4.2 4.1" stroke-dashoffset="5"/>
<path d="M243.3 70.6L243.3 111.6" stroke="#9c9c9c" stroke-width="0.8" stroke-dasharray="4.2 4.1" stroke-dashoffset="5"/>
<path d="M269.1 70.6L269.1 111.6" stroke="#9c9c9c" stroke-width="0.8" stroke-dasharray="4.2 4.1" stroke-dashoffset="5"/>
<path d="M293 70.6L293 111.6" stroke="#9c9c9c" stroke-width="0.8" stroke-dasharray="4.2 4.1" stroke-dashoffset="5"/>
<path d="M315.1 70.6L315.1 111.6" stroke="#9c9c9c" stroke-width="0.8" stroke-dasharray="4.2 4.1" stroke-dashoffset="5"/>
<path d="M336.4 70.6L336.4 111.6" stroke="#9c9c9c" stroke-width="0.8" stroke-dasharray="4.2 4.1" stroke-dashoffset="5"/>
<path d="M356.8 70.6L356.8 111.6" stroke="#9c9c9c" stroke-width="0.8" stroke-dasharray="4.2 4.1" stroke-dashoffset="5"/>
<path d="M377.1 70.6L377.1 111.6" stroke="#9c9c9c" stroke-width="0.8" stroke-dasharray="4.2 4.1" stroke-dashoffset="5"/>
<path d="M397.3 70.6L397.3 111.6" stroke="#9c9c9c" stroke-width="0.8" stroke-dasharray="4.2 4.1" stroke-dashoffset="5"/>
<path d="M414.6 70.6L414.6 111.6" stroke="#9c9c9c" stroke-width="0.8" stroke-dasharray="4.2 4.1" stroke-dashoffset="5"/>
<path d="M430.8 70.6L430.8 111.6" stroke="#9c9c9c" stroke-width="0.8" stroke-dasharray="4.2 4.1" stroke-dashoffset="5"/>
<path d="M446.2 70.6L446.2 111.6" stroke="#9c9c9c" stroke-width="0.8" stroke-dasharray="4.2 4.1" stroke-dashoffset="5"/>
<path d="M459.8 70.6L459.8 111.6" stroke="#9c9c9c" stroke-width="0.8" stroke-dasharray="4.2 4.1" stroke-dashoffset="5"/>
<path d="M472.1 70.6L472.1 111.6" stroke="#9c9c9c" stroke-width="0.8" stroke-dasharray="4.2 4.1" stroke-dashoffset="5"/>
<path d="M483.9 70.6L483.9 111.6" stroke="#9c9c9c" stroke-width="0.8" stroke-dasharray="4.2 4.1" stroke-dashoffset="5"/>
<path d="M492.8 70.6L492.8 111.6" stroke="#9c9c9c" stroke-width="0.8" stroke-dasharray="4.2 4.1" stroke-dashoffset="5"/>
<path d="M502.2 70.6L502.2 111.6" stroke="#9c9c9c" stroke-width="0.8" stroke-dasharray="4.2 4.1" stroke-dashoffset="5"/>
<path d="M509.5 70.6L509.5 111.6" stroke="#9c9c9c" stroke-width="0.8" stroke-dasharray="4.2 4.1" stroke-dashoffset="5"/>
<path d="M517.2 70.6L517.2 111.6" stroke="#9c9c9c" stroke-width="0.8" stroke-dasharray="4.2 4.1" stroke-dashoffset="5"/>
<path d="M104.5 103h0M174.7 93.2h0M186.5 99.6h0M280 94h0M284 109.5h0M321.2 93h0M356.4 73.2h0M372.4 74.9h0M365.8 87h0M365.6 104.9h0M377.9 108.9h0M416.6 98h0M445.3 107h0M447.8 103h0M464.4 89.4h0M463.9 99h0M463.9 106.5h0M478 110.5h0M491.5 104.5h0M494 75.4h0M500 75.4h0M520.7 94.5h0M221.6 86.2h0M220.3 87.2h0M218.7 88.3h0M217.7 89.3h0M216.6 90.4h0M217.2 91.4h0M218.2 92.1h0M219.8 92.7h0M221.3 93h0M222.7 93h0M217.7 93.5h0M218.7 94.5h0M215.8 98.2h0M222.4 98.4h0M216.3 100.4h0M217.5 104.4h0M217.3 90.6h0M218.3 90h0M219 91.2h0M218 92.8h0M385.3 86.7h0M385.9 87.7h0M385.8 88.6h0M385.6 89.5h0M385.3 90.5h0M385.4 91.5h0M384.9 92.4h0M385.8 93.4h0M385.7 94.3h0M385.5 95.2h0M385.4 96.2h0M385.7 97.2h0M384.9 98.1h0M385.3 99h0M385.2 100h0M385.5 101h0M385.3 101.9h0M385.5 102.8h0M385.8 103.8h0M385.3 104.8h0M385 105.7h0M384.9 106.7h0M385.7 107.6h0M385.4 108.5h0M385.3 109.5h0M384.9 110.5h0M386.7 91.8h0M390.3 89.3h0M387.7 96.1h0M388.8 92.4h0M389.2 96.3h0M390.7 89.4h0M387.6 92.2h0M387.5 93.4h0M386.3 101.2h0M387.5 99.2h0M389.9 97h0M386.3 98.7h0M390.1 95.2h0M389 94.3h0M390 94.4h0M387.8 96.2h0M388.4 92.4h0M389.3 98.1h0M389.2 89.9h0M388.1 98.8h0M386.8 97.3h0M389.3 95h0M387.7 91.1h0M389.4 91.3h0M389 95.3h0M389.5 90.6h0M390.7 95.7h0M390.2 90.8h0M389.5 93.3h0M389.4 96.6h0M388.1 100.7h0M388.2 95.5h0M389.5 91.1h0M390.3 92.1h0M390.3 90.3h0M386.8 98.3h0M387.3 96.1h0M387.1 99.4h0M389.6 96.3h0M386.8 92.2h0M388.9 90.9h0M389.5 95h0M390.5 96.6h0M389.2 98.1h0M388.5 93.3h0M386.5 99.8h0M389.3 96.1h0M388.6 95h0M390.4 92.4h0M386.8 102.2h0M389.7 98.3h0M390.7 92.7h0M386.9 97h0M388.5 94.4h0M389.8 91.8h0M390.7 90.6h0M387.5 100.1h0M387.3 99.2h0M387.5 95.6h0M388.4 93h0M393.2 96h0M393.2 97.5h0M393.1 99h0M393 100.2h0M390 110.1h0M383.3 89.8h0M383 93.5h0M383.3 98.2h0M384.3 87.2h0M389 105h0M388 106.5h0M387 108h0" stroke="#000" stroke-width="2.7" stroke-linecap="round" fill="none"/>
<rect x="78.8" y="70.6" width="465.7" height="41" fill="none" stroke="#111" stroke-width="1.4"/>
<path d="M74.3 71.2L78.8 71.2" stroke="#222" stroke-width="1.4"/>
<text x="74.4" y="74.6" font-size="8.6" text-anchor="end" fill="#333">10<tspan dy="-3.4" font-size="6">8</tspan></text>
<path d="M74.3 91.5L78.8 91.5" stroke="#222" stroke-width="1.4"/>
<text x="74.4" y="94.9" font-size="8.6" text-anchor="end" fill="#333">10<tspan dy="-3.4" font-size="6">6</tspan></text>
<path d="M74.3 111.4L78.8 111.4" stroke="#222" stroke-width="1.4"/>
<text x="74.4" y="114.8" font-size="8.6" text-anchor="end" fill="#333">10<tspan dy="-3.4" font-size="6">4</tspan></text>
<text transform="translate(48.6 91) rotate(-90)" font-size="9.6" text-anchor="middle" fill="#000">Inter−CNT</text>
<text transform="translate(57.6 91) rotate(-90)" font-size="9.6" text-anchor="middle" fill="#000">dist. (bps)</text>
<rect x="83.2" y="113.2" width="37.8" height="11.3" fill="#999"/>
<text x="102" y="121.7" font-size="8" text-anchor="middle" fill="#fff">1</text>
<rect x="120.8" y="113.2" width="36.8" height="11.3" fill="#000"/>
<text x="139.1" y="121.7" font-size="8" text-anchor="middle" fill="#fff">2</text>
<rect x="157.4" y="113.2" width="30" height="11.3" fill="#999"/>
<text x="172.3" y="121.7" font-size="8" text-anchor="middle" fill="#fff">3</text>
<rect x="187.2" y="113.2" width="29" height="11.3" fill="#000"/>
<text x="201.6" y="121.7" font-size="8" text-anchor="middle" fill="#fff">4</text>
<rect x="216" y="113.2" width="27.5" height="11.3" fill="#999"/>
<text x="229.6" y="121.7" font-size="8" text-anchor="middle" fill="#fff">5</text>
<rect x="243.3" y="113.2" width="26" height="11.3" fill="#000"/>
<text x="256.2" y="121.7" font-size="8" text-anchor="middle" fill="#fff">6</text>
<rect x="269.1" y="113.2" width="24.2" height="11.3" fill="#999"/>
<text x="281" y="121.7" font-size="8" text-anchor="middle" fill="#fff">7</text>
<rect x="293" y="113.2" width="22.3" height="11.3" fill="#000"/>
<text x="304.1" y="121.7" font-size="8" text-anchor="middle" fill="#fff">8</text>
<rect x="315.1" y="113.2" width="21.5" height="11.3" fill="#999"/>
<text x="325.7" y="121.7" font-size="8" text-anchor="middle" fill="#fff">9</text>
<rect x="336.4" y="113.2" width="20.6" height="11.3" fill="#000"/>
<text x="346.6" y="121.7" font-size="8" text-anchor="middle" fill="#fff">10</text>
<rect x="356.8" y="113.2" width="20.5" height="11.3" fill="#999"/>
<text x="366.9" y="121.7" font-size="8" text-anchor="middle" fill="#fff">11</text>
<rect x="377.1" y="113.2" width="20.4" height="11.3" fill="#000"/>
<text x="387.2" y="121.7" font-size="8" text-anchor="middle" fill="#fff">12</text>
<rect x="397.3" y="113.2" width="17.6" height="11.3" fill="#999"/>
<text x="406" y="121.7" font-size="8" text-anchor="middle" fill="#fff">13</text>
<rect x="414.6" y="113.2" width="16.4" height="11.3" fill="#000"/>
<text x="422.7" y="121.7" font-size="8" text-anchor="middle" fill="#fff">14</text>
<rect x="430.8" y="113.2" width="15.6" height="11.3" fill="#999"/>
<text x="438.5" y="121.7" font-size="8" text-anchor="middle" fill="#fff">15</text>
<rect x="446.2" y="113.2" width="13.8" height="11.3" fill="#000"/>
<text x="453" y="121.7" font-size="8" text-anchor="middle" fill="#fff">16</text>
<rect x="459.8" y="113.2" width="12.4" height="11.3" fill="#999"/>
<text x="466" y="121.7" font-size="8" text-anchor="middle" fill="#fff">17</text>
<rect x="472.1" y="113.2" width="12" height="11.3" fill="#000"/>
<text x="478" y="121.7" font-size="8" text-anchor="middle" fill="#fff">18</text>
<rect x="483.9" y="113.2" width="9.1" height="11.3" fill="#999"/>
<text x="488.3" y="121.7" font-size="8" text-anchor="middle" fill="#fff">19</text>
<rect x="492.8" y="113.2" width="9.7" height="11.3" fill="#000"/>
<text x="497.5" y="118.7" font-size="8" text-anchor="middle" fill="#fff">20</text>
<rect x="502.2" y="113.2" width="7.4" height="11.3" fill="#999"/>
<text x="505.9" y="124.7" font-size="8" text-anchor="middle" fill="#fff">21</text>
<rect x="509.5" y="113.2" width="7.9" height="11.3" fill="#000"/>
<text x="513.4" y="118.7" font-size="8" text-anchor="middle" fill="#fff">22</text>
<rect x="517.2" y="113.2" width="23.6" height="11.3" fill="#999"/>
<text x="528.9" y="121.7" font-size="8" text-anchor="middle" fill="#fff">X</text>
<defs><linearGradient id="wg" x1="0" y1="0" x2="0" y2="1"><stop offset="0" stop-color="#c4c4c4"/><stop offset="1" stop-color="#fafafa"/></linearGradient></defs>
<polygon points="215.8,124.6 224.6,124.6 250,145.4 141,145.4" fill="url(#wg)"/>
<polygon points="380.5,124.6 397.3,124.6 477.5,145.4 268.6,145.4" fill="url(#wg)"/>
<path d="M145.8 198.9h0M146.4 208.2h0M145.3 202.7h0M146.7 201.8h0M143.2 201.1h0M143.1 201.9h0M144 203.6h0M144.7 201.3h0M145.7 203h0M143.5 201.8h0M146.8 204.5h0M144 201h0M143.3 204.8h0M144.2 199.6h0M143.1 201.2h0M143 205.8h0M144 202.7h0M145.1 208.4h0M141 204.7h0M143.8 203.7h0M142.8 200.8h0M145.5 201.3h0M145.3 196.4h0M145.3 200.6h0M146.5 201.4h0M144.2 204.5h0M146.5 207h0M145.5 202h0M144.4 200.8h0M140.9 200.9h0M142.6 202.2h0M145.3 206.5h0M144.6 203h0M145.4 200.6h0M141.6 204.4h0M144.7 202.8h0M150.3 181.8h0M150.1 183.4h0M148.3 185.9h0M148.8 182.1h0M150.3 181.4h0M147.3 184.5h0M146 184h0M147.6 184.7h0M145 185.9h0M147.2 182.6h0M146.1 188.8h0M149.7 181.4h0M147 187.2h0M145.7 185.3h0M149.5 180.1h0M146.2 188.2h0M148 184.8h0M148.9 181h0M145.7 181.4h0M145.9 182.9h0M147.4 179.9h0M145.7 180.9h0M147 184.6h0M145.8 181.6h0M149.8 185.1h0M146.2 177.7h0M145.1 181.4h0M148.8 180.8h0M145.4 183.7h0M149.8 185.8h0M150.1 179.8h0M147.3 182.1h0M151.2 180.5h0M152.8 180.3h0M151.6 181.9h0M153.8 180.9h0M152 184.4h0M153.3 178.9h0M153.3 180.6h0M152.2 179.5h0M152.9 181.3h0M153 180.1h0M152.4 181.1h0M152.8 176.2h0M153 176.2h0M151.5 181.5h0M153.7 178h0M150.3 194.9h0M152.1 200.1h0M150.7 199.4h0M150.2 200h0M152 207.5h0M149 200.2h0M150.9 194.4h0M149.2 199.2h0M148.3 196.2h0M151.1 198h0M149 197.6h0M150.1 199.3h0M152.6 198.8h0M149.5 197.3h0M149.3 200.8h0M151.6 202.6h0M148.6 198.4h0M151.4 205.5h0M148.2 200.3h0M149.2 199.1h0M152.3 200.5h0M152.7 200.7h0M151.1 198.9h0M149.8 195.3h0M152.7 200.3h0M149.1 195.3h0M152 201.6h0M150.3 199.1h0M149.4 199.4h0M163.5 205.8h0M165.7 204.1h0M156.2 199.8h0M165 202.3h0M161.8 202.6h0M155.9 204.7h0M160.2 202.5h0M152.3 204.1h0M152.6 202.1h0M160.9 202.4h0M165.9 205.3h0M165.3 199.9h0M158 203.4h0M154.6 198.3h0M166.2 202.4h0M152.3 202.2h0M159.5 201h0M164 197.7h0M165.9 198.5h0M157 201.2h0M161.7 198.6h0M162.3 201.7h0M160 204.9h0M156.2 200.2h0M165.9 203.1h0M159.9 198.1h0M159.6 200.5h0M157.2 203.5h0M156.2 204.8h0M158.1 204.1h0M158.6 203.8h0M158.3 201.2h0M159.9 200.7h0M162.7 201.7h0M166.1 204.1h0M155.7 203.6h0M158.3 202.2h0M163.2 201.2h0M155.2 204.6h0M156 202.3h0M156 201h0M160.5 202.2h0M155.3 201.9h0M153 201.7h0M156.3 201.5h0M160.8 200.7h0M157 199.7h0M158.7 199h0M161.6 201.1h0M159.1 195.7h0M156.5 197.4h0M165.9 200h0M154.7 201h0M158.2 201.5h0M160.3 207.7h0M161.5 202.1h0M152.7 203h0M161.7 199.3h0M152.8 200.2h0M159.3 201h0M155.9 198.9h0M161.3 200.9h0M156.1 202.1h0M163.1 203.1h0M152.5 200.5h0M164.8 203h0M157.8 202.5h0M152.6 200.1h0M152.6 201.3h0M165.4 204.2h0M161.6 196.8h0M156.6 200.4h0M153.2 202.3h0M161.6 197.6h0M154.2 202.4h0M155.5 203.1h0M157.6 197h0M156.7 206.7h0M166.2 200.1h0M159.1 203.4h0M165.2 200.4h0M156.2 201.2h0M155.8 200.9h0M153.7 205.3h0M159.3 201.5h0M161.9 200.6h0M155.6 201.5h0M157.2 201.7h0M164.5 203.1h0M165.3 202.4h0M166.5 186.9h0M164.3 184.4h0M164.4 184.5h0M165.9 182.5h0M164.7 184.1h0M166.2 181.6h0M166.5 186.1h0M166.4 189.3h0M165.1 185.9h0M166.2 184.7h0M166.1 184.3h0M164.9 185.7h0M164.6 182h0M164.2 182h0M165.7 182.6h0M166 182.5h0M164.5 183.3h0M166.4 187.7h0M166.2 174.5h0M166.8 178.3h0M165.9 174h0M164.8 173.4h0M164.9 176.1h0M167.4 175.1h0M166.7 171.8h0M165.4 170.7h0M166.2 172.6h0M167.4 173.6h0M165.2 181.6h0M167.4 175.6h0M166.1 174.1h0M167.1 173.7h0M166.3 195.3h0M168.4 193h0M167.3 192.6h0M167 194.5h0M167.4 190.8h0M166.3 187.3h0M165.8 191.9h0M166.1 189.7h0M168.8 193.9h0M167 194.2h0M168.9 198.3h0M169.7 189.7h0M168.3 193.3h0M166.9 189.3h0M167.8 193.3h0M167.4 192.6h0M168.5 193.5h0M167.5 186.4h0M166.3 198.2h0M167.9 189.9h0M166.8 195.6h0M168.9 190.9h0M167.4 198h0M168.6 195.8h0M174.8 186.5h0M168.6 189.2h0M169.2 188.7h0M168.2 191.5h0M171.3 185h0M173.8 187.2h0M171.4 184.9h0M169.5 186.6h0M174.5 188.1h0M172.1 186.3h0M175.1 185.7h0M174.3 188.2h0M168 184.3h0M173.2 190.1h0M174.2 185.7h0M170.4 190.4h0M168.5 186.9h0M171.2 183.7h0M169.5 183h0M173.7 188.5h0M175.1 187h0M170 189.6h0M170.8 184.4h0M168 184.4h0M168.9 192.4h0M174.4 189.9h0M168.4 187.1h0M172.3 186.3h0M170.4 189.1h0M168.6 191.3h0M169.4 186.8h0M169.3 186.5h0M173.8 189.7h0M175.3 185h0M170 186.2h0M175.3 188.2h0M172.4 185h0M173.3 186h0M167.8 192.4h0M174.8 183.5h0M168.1 188.6h0M169.4 184.4h0M172.4 190.5h0M171.7 187.6h0M173 182h0M171 190.1h0M168.6 187.7h0M175.2 181.6h0M178.4 174h0M177.2 176.6h0M174.9 175.6h0M176.1 175h0M179.6 176.4h0M176.3 174.7h0M178.3 174h0M178.9 183.1h0M173.6 172.2h0M179.6 173.9h0M177.3 183.2h0M178.1 177.3h0M178.3 182.4h0M176.3 173.7h0M177 175.9h0M174 169h0M180.1 177.5h0M177.8 176.9h0M176.8 175.8h0M180 177.3h0M173.9 173h0M175.3 177.7h0M176.9 178h0M174.6 175h0M180.1 172.3h0M179.5 175.8h0M179.4 172.1h0M176.5 174.7h0M179.2 176.7h0M176.7 176.7h0M175 172.7h0M174.3 176.3h0M178 166.4h0M176.3 176.6h0M174.4 176.3h0M175.3 178.5h0M176.3 179.6h0M174.1 173.4h0M174.1 176.7h0M176.8 168.6h0M180.8 172.4h0M181 172.8h0M180.4 172.9h0M178.8 174.3h0M181.3 170.3h0M179.9 169.2h0M181.4 178.9h0M181.5 170h0M180.1 171.2h0M181.6 173.1h0M182.8 171.7h0M180.9 167.8h0M183 167.3h0M182.1 171.9h0M180.7 174.1h0M181.9 172.4h0M177.8 173.6h0M178.8 169.4h0M180.9 167.8h0M182.6 173.3h0M181.1 169.5h0M181.7 171.4h0M181.5 171.1h0M179.5 165.3h0M181.8 175.3h0M178.4 172.4h0M182.6 169.5h0M178.3 173.6h0M177.2 174.2h0M179.4 174.6h0M182.4 176.9h0M182.5 173h0M180.6 168.5h0M181.5 172.2h0M182.7 170.8h0M179.8 170.5h0M183.2 180.4h0M181.7 176h0M182 174.7h0M184.5 177.3h0M183.4 174.9h0M181.5 183.3h0M180.9 177.8h0M181.7 179.9h0M181.5 181.6h0M184.9 177.2h0M184 178.4h0M183.6 180.2h0M183.6 179.1h0M184.7 181.3h0M181 176.8h0M182.3 184.6h0M182.2 176.3h0M183.5 180.1h0M181.4 179.1h0M181.9 177.8h0M183.9 182h0M183.3 184.3h0M183 172h0M182.3 190h0M183.2 188h0M182.1 188.6h0M182 186.6h0M185.6 189.5h0M184.8 199.4h0M186.4 190h0M184.6 192.2h0M182 190h0M182.8 189.2h0M184.6 190.7h0M185.5 186.2h0M186.4 185.1h0M183.4 191h0M183.4 188.2h0M183.2 191.5h0M185.2 189.1h0M182.9 189.3h0M185 188.8h0M184.2 187.1h0M183.5 188.1h0M182.9 191.9h0M185 187.7h0M182.1 186.3h0M184.9 186.6h0M189.1 173.9h0M190.5 176.3h0M185.8 178.5h0M184.9 176.8h0M190.4 180h0M190.9 178.5h0M185.5 184h0M185.7 179.9h0M190.2 177.5h0M190.6 186.8h0M186.9 178.1h0M189.4 177h0M184.9 178.5h0M191 179.8h0M186.1 179.9h0M187.9 179h0M190.2 181.8h0M188.1 175.8h0M191.1 176.7h0M191.7 175.3h0M190.5 177.7h0M188.2 178.9h0M185 176.6h0M185.9 184h0M190.1 177.1h0M188 182.2h0M187.1 176.2h0M190.7 175.4h0M190.4 177.7h0M185.6 177h0M189.9 178.9h0M188.8 180.1h0M190 179.8h0M188.7 171.4h0M190 177.5h0M188.9 186.3h0M184.1 178.8h0M187.1 176.2h0M191.2 173.7h0M185.9 178.1h0M191.4 178.3h0M187.8 181.6h0M189.9 177.4h0M186.1 175.8h0M188.4 177.1h0M185.7 175h0M187.4 177.3h0M190.8 201.5h0M194.6 198h0M193.3 206.5h0M192.9 199.5h0M192.4 197.8h0M190.5 202.8h0M191.6 201h0M194.3 202.7h0M195.9 204.9h0M195.4 199.1h0M191.5 198.7h0M193.4 198.4h0M196.6 202.6h0M191.8 200.4h0M195.7 198.9h0M196.5 203.9h0M190.8 200.9h0M192.4 202.8h0M189.9 200.1h0M193.1 200.8h0M194.4 202.3h0M189.8 198.7h0M193.8 200.3h0M195.1 201.7h0M193 197.4h0M194.8 199.9h0M190.2 199.9h0M192.1 202.7h0M192.8 200.1h0M189.7 202.7h0M192.4 201.9h0M196.2 200.8h0M196.8 203.7h0M192.4 200.6h0M190.7 199.9h0M190.8 199.4h0M196.4 207.2h0M191.1 202.2h0M194.8 201.2h0M190.6 205.1h0M191.2 201h0M191.4 203.7h0M192.7 204h0M189.6 201.1h0M195.6 194.5h0M199.6 190.6h0M201.5 193.5h0M197 194.7h0M200 191.9h0M202.8 191.5h0M202.6 192.8h0M198.1 189.6h0M205.6 192.2h0M197.6 193.2h0M202.2 193.2h0M198.3 191.1h0M198.5 194.5h0M201.4 191.5h0M208.3 192h0M195.5 191.2h0M209.2 196.1h0M198.5 189h0M199.1 192.1h0M209.5 198.9h0M202.3 193.8h0M200.5 185.8h0M202.8 189.3h0M197.9 189.8h0M209.1 193.4h0M201.7 188.9h0M205.6 188.8h0M208.6 191.9h0M200.5 188.7h0M198.6 191.2h0M198.8 192.3h0M196.5 193.5h0M204 191.9h0M203.9 193.1h0M201.5 191.6h0M207.5 193.6h0M205.9 192.6h0M205.3 194h0M209.1 193.8h0M197.8 193.3h0M206 191.5h0M200.7 192.7h0M199.2 191.2h0M199.1 192.4h0M204.6 191.7h0M206.7 196.9h0M205 192h0M195.3 191.9h0M197.7 190.7h0M199.3 190h0M209.1 190h0M208.4 194.2h0M209.3 193.9h0M205.3 193.1h0M196.6 194h0M199.6 191.8h0M210.1 190.2h0M195.8 199.9h0M195.8 192.6h0M201.8 196.4h0M202.4 192.1h0M201.9 192.9h0M210 194.2h0M207.8 196.4h0M195.8 199.6h0M205.9 194.1h0M195.6 192.7h0M196 191.2h0M207.1 196.2h0M197.5 195.1h0M197.1 188.9h0M208 194.4h0M200.3 191.6h0M200 192h0M204.9 191.3h0M205.5 191.6h0M196.2 191.7h0M205 193.5h0M197.4 191.2h0M202.7 192.4h0M195.2 192.8h0M204 193.6h0M202.1 191.2h0M209.9 188.6h0M197.6 189.1h0M197.1 189.9h0M196.6 196.6h0M201.3 193.7h0M209.4 190.6h0M200.8 191.4h0M194.9 191.8h0M205.5 188.9h0M201.2 194.5h0M204 199.4h0M203.1 191.8h0M201.5 194.4h0M208.7 191h0M209.7 194.7h0M202.3 189.6h0M195 195h0M202.6 192.2h0M199.9 193h0M208.4 180.7h0M211.2 186.5h0M210.2 182.6h0M211.8 178.3h0M208.9 180.3h0M212.2 177.1h0M212.1 176.8h0M208.7 179.3h0M208 184.4h0M209.9 180.9h0M212.2 181.2h0M210 179.2h0M210.6 177.8h0M209.3 179h0M208 176.4h0M211.8 172.4h0M212.2 177.6h0M210.7 179h0M212 181.6h0M211 179.5h0M210.8 183.2h0M209.7 180.1h0M208.4 180h0M210 181.1h0M212.5 178.4h0M212 191.2h0M221.3 193h0M216.1 196.9h0M213.6 190.5h0M212.3 198.9h0M220.2 192.6h0M212 194.4h0M217.3 193.2h0M224.8 198.2h0M210.2 194.6h0M215.3 192.2h0M213.8 195.5h0M217.7 191h0M228.8 193.4h0M229.8 192h0M217.9 192.9h0M220 196h0M218.9 191.7h0M213.8 192.4h0M219.9 194.2h0M218.7 195.1h0M213.3 191.8h0M216 192.8h0M228.9 192.8h0M220.1 193.5h0M211.8 191.7h0M224.6 191.9h0M210.7 189.2h0M220.9 193.7h0M216.5 191.1h0M214.1 194.6h0M219.3 194.8h0M229.8 189.5h0M223.9 192.8h0M218.1 196.2h0M211.8 192.3h0M212.6 188h0M222.6 201.5h0M222.5 190.1h0M221 191.5h0M221.8 195.5h0M225.5 189.1h0M221.9 191.9h0M215.8 191.9h0M229.5 193.6h0M227.9 194h0M216.1 195.6h0M222.2 193.9h0M219.6 194h0M215.9 189.6h0M223.5 194.4h0M226.6 194.7h0M229.1 193.6h0M226.8 196.7h0M209.8 195.4h0M225.8 195.7h0M219.7 190.9h0M212.7 189.9h0M213.3 192.5h0M211 192.5h0M220.2 192.6h0M227.7 202.7h0M229.4 191.2h0M223.5 200.6h0M210.2 193.5h0M211.6 196.4h0M216.2 191.7h0M209.6 192.5h0M228.4 193.6h0M230 192.3h0M219.3 192.4h0M221 191.3h0M209.6 195.5h0M213.3 200.9h0M230 194.2h0M226.6 196.9h0M227.1 191.4h0M215.6 193.4h0M224.4 194.6h0M229.7 191.8h0M221.5 194.9h0M228.4 195.3h0M218.6 193.5h0M216.1 195.2h0M211.8 193.3h0M227.7 195.1h0M219.5 198.1h0M215.6 190.8h0M210.8 194.3h0M222.1 186.1h0M227.8 191.2h0M220.2 190.1h0M217.1 194h0M224.6 191.5h0M216.6 191.9h0M218.6 191.9h0M222.4 194.2h0M213.4 190.3h0M223.1 192.5h0M209.6 190.3h0M228.6 192.7h0M222.9 193.4h0M227.7 192.1h0M218.8 186.7h0M211.9 191.1h0M221.7 196.6h0M220.4 200.2h0M216.9 194.6h0M229.6 194.2h0M216.8 202.9h0M211.4 192.5h0M220.8 191.1h0M209.6 193.9h0M214.3 193.8h0M216.3 197.2h0M224.2 191.4h0M214.8 192.9h0M211.5 191.6h0M209.5 196.5h0M219.9 193.7h0M224.8 192h0M227.6 194h0M213.6 195.9h0M215.9 191.7h0M225 197.4h0M211.2 192.5h0M213.2 194.2h0M229.6 192.6h0M213.6 190.9h0M216.4 193.3h0M217.4 192.3h0M210.1 190.9h0M213.4 190.8h0M226.9 196.8h0M213.5 195.3h0M221.8 198.8h0M215.3 188.1h0M220 196.1h0M228.8 182.5h0M229.2 180h0M236 181.4h0M234.3 180.7h0M232 180.4h0M231.5 185.4h0M234.4 177h0M230.5 184.1h0M234.7 184.1h0M236 181.6h0M232.1 182.4h0M235.6 178.5h0M234.3 181h0M231.7 182.6h0M236.7 178.3h0M234.7 181.3h0M233 182.7h0M229.3 183.1h0M232.7 181.7h0M230.8 182.3h0M235.3 186.5h0M232.2 183.8h0M233 182.6h0M228.3 186.9h0M229.5 183.3h0M233.5 179.2h0M229.3 182.3h0M228.3 184.3h0M231.3 181.3h0M229 181.5h0M231.1 181.6h0M234.1 184.3h0M235.3 182.2h0M232.5 185.6h0M229.1 180.3h0M231.6 174.1h0M227.9 182.9h0M232.6 180.3h0M235.4 183.8h0M234 182.9h0M235.4 184.1h0M236.1 184.5h0M233.7 181.5h0M233.1 182.7h0M232.9 188.1h0M230 181.4h0M229.7 179.6h0M232.8 184.3h0M234.3 178.9h0M235.3 182.4h0M228.6 184.2h0M234.7 181.1h0M236.2 179.7h0M229.8 181.6h0M235.3 185.1h0M230.6 180.8h0M232.5 187.9h0M238.4 176h0M236.2 174.9h0M238.2 177.7h0M236.2 174.9h0M236.5 176.2h0M237.9 174.1h0M235.5 177.7h0M238.4 173.7h0M238.9 174.9h0M238 176.4h0M237.7 178.5h0M236.6 176.1h0M237.7 176.5h0M235.7 183.4h0M238.5 181.9h0M238 173.7h0M237.3 180.7h0M236.9 173.7h0M239.8 195.5h0M240.5 187h0M239.7 188.2h0M241 193.1h0M236.2 195.5h0M235.2 192.2h0M238.5 192.7h0M236 195h0M239.6 193.9h0M236.2 191.5h0M240 191.7h0M238.1 191.4h0M240.2 195.9h0M242.7 195.9h0M242.4 192.6h0M237.5 193.1h0M237.3 193.5h0M235.7 195.2h0M242.2 194.9h0M244 196.6h0M242.2 196.2h0M235.6 191.5h0M241.4 198.5h0M239.1 193.3h0M239.9 197.5h0M239.6 198.5h0M239.4 189.6h0M241.8 198.1h0M237.4 193h0M240.4 193.5h0M235.4 194.7h0M241.1 194.6h0M235.3 194.3h0M234.9 196.5h0M241.6 195h0M235.1 194h0M237.7 196.2h0M240.6 193.7h0M240.8 199.3h0M237.2 199.6h0M240.9 193h0M241 193.6h0M240.2 194.2h0M239.8 193.2h0M243.3 194h0M240.3 195.9h0M235.3 192.8h0M236.1 196h0M243.3 186.5h0M241.9 192h0M237.4 194.4h0M236.8 192.6h0M240.3 192.6h0M241.5 193.7h0M235.7 190.7h0M239.1 192.7h0M236.5 191.9h0M239.4 192.9h0M239.1 196.1h0M210.5 195.9h0M213.3 198.5h0M215.6 200.8h0M210.9 195.4h0M227.9 190.6h0M222.7 196.3h0M212.3 191.5h0M225.9 198.7h0M223.5 198.6h0M222.9 193.7h0M217.9 194h0M221.3 188.2h0M219 188.4h0M226.4 195.2h0M215.6 199.2h0M226 197.7h0M227.4 190.3h0M217.8 203.8h0M219.5 189.3h0M229.5 193.9h0M228.4 196.1h0M220.3 196.9h0M211.6 190.4h0M227.4 190.4h0M213.3 196.5h0M223.5 198.1h0M219.8 201.3h0M212.7 193.9h0M217.1 192.9h0M225 195.6h0M221 192.7h0M220.8 192.8h0M223.2 196.1h0M223.5 196.9h0M221.3 193.9h0M213.6 194.1h0M229.7 190.3h0M227 193.3h0M228 190.9h0M215.6 200.2h0M219.4 190.4h0M229.5 200.4h0M212.8 192.8h0M226.1 195h0M220.6 193.5h0M219.6 193.2h0M209.7 200h0M223.3 197.2h0M228 189.3h0M221.8 195.3h0M210.4 201h0M215.6 189.5h0M222.5 200.1h0M225.6 190h0M225.5 190.8h0M209.7 198h0M218.6 195.3h0M224 191.1h0M222.2 195.4h0M224 196.9h0M222.4 193.3h0M214.7 193.1h0M225 193.5h0M215.9 191.8h0M218 200.2h0M209.6 199.2h0M216.6 194.3h0M223.7 195.2h0M226.3 190.1h0M223.5 196.2h0M213.4 193.6h0M212.8 194.1h0M211.3 192.4h0M224.9 196.1h0M210.8 198.9h0M229.8 194.3h0M214 194.7h0M214.7 196.4h0M226.2 199.8h0M222.6 195.8h0M209.5 196.1h0M215.7 196.3h0M229 198.1h0M214.3 197.3h0M216 197h0M215.5 194.7h0M227 202.9h0M224.5 201.1h0M225.9 197.3h0M229.3 193h0M210 192.8h0M224.2 198.6h0M215.8 195.4h0M227.4 198.2h0M224.3 197.8h0M229.1 193.9h0M215.6 193.6h0M218.3 198.2h0M210.5 197.7h0M221.5 188.4h0M224.5 199.6h0M212.9 195.4h0M218.1 193.5h0M223.7 196.4h0M225.9 190.6h0M223.5 193.7h0M217.1 196.9h0M221.7 197.7h0M229.7 192.3h0M224.6 198.2h0M223.3 194.3h0M220.2 192.3h0M224.8 196.9h0M213.5 188h0M209.8 195.6h0M226.6 192.2h0M217.6 201.3h0M211.1 196h0M215.3 193h0M223.8 193.4h0M209.7 197.2h0M217.2 195.5h0M212.5 198.1h0M211.6 191.7h0M211.6 194h0M210.6 194.2h0M215.5 195.6h0M223.7 189.5h0M222.5 199.2h0M213.8 196.6h0M227 193.5h0M219.3 194.7h0M213.6 196.9h0M229.1 195.4h0M221.4 191.9h0M228.2 189.7h0M220.2 191.4h0M224.1 192.1h0M212.6 193.3h0M229.5 196.5h0M221.5 194.7h0M229.9 199.7h0M229.7 197h0M229.1 191.2h0M225.9 191h0M226.4 195.7h0M229.3 190.4h0M222.2 194.8h0M212.4 189.6h0M216 199.1h0M211.9 195.5h0M215.1 193h0M227.2 198.9h0M212.1 192h0M213.9 193.1h0M227.9 200.7h0M230.1 189.6h0M229 198.8h0M216.9 194.8h0M219.2 188.1h0M212.6 192.7h0M218.3 199.1h0M215.3 191.8h0M213.6 192.4h0M219.7 193.4h0M218.5 191.3h0M212.1 188.5h0M221.8 189.9h0M229.4 195h0M210.1 197.5h0M213.9 193.4h0M221.1 189.1h0M210.1 198.4h0M225.4 195.2h0M143.2 201.4h0M144.1 201.9h0M141.8 206.9h0M141.6 197.1h0M143.1 199.9h0M141.1 205.1h0M142.4 201.8h0M141.7 199.4h0M142.6 192.6h0M143.1 190.6h0M142.9 198.9h0M142.2 200.5h0M142.8 197.3h0M145.1 200.5h0M144.5 195.3h0M144.4 203.6h0M143.3 194.3h0M145.7 197.1h0M142.8 196.1h0M150.5 204.3h0M159.7 203.8h0M151.6 201.9h0M156.6 207.2h0M165.4 205.3h0M163.9 201.1h0M164.5 203.8h0M149.6 204.2h0M148.9 199.5h0M148.8 207.5h0M164.8 198.3h0M153.3 206.3h0M165.4 201.1h0M157.8 203.4h0M162.4 202.7h0M159.6 193h0M156.7 199.6h0M152.6 199.8h0M155.9 201.3h0M157 193.3h0M160.1 204.8h0M162 206.6h0M164.5 199.5h0M163.1 207.9h0M159.7 206.8h0M152.1 206.2h0M158.4 201.8h0M157.3 205.3h0M157.5 206.9h0M152.6 206.7h0M155.1 201.5h0M154.5 195.6h0M153.8 202.7h0M148.1 203.9h0M158.9 199.9h0M154.4 204.8h0M152.5 204.2h0M151.8 199.2h0M155.1 205.6h0M149.5 200.2h0M162.8 204.4h0M161.8 206.4h0M152.9 206.1h0M165.3 196.7h0M159.7 204.1h0M150.3 205.1h0M158.4 208.5h0M161.6 193.8h0M155.9 205.5h0M156.1 206.7h0M164.8 200.9h0M148.6 204.8h0M155.6 203h0M160.3 203.3h0M150.4 208.4h0M162.4 196.9h0M160.3 198.5h0M153.9 200.4h0M149.4 203h0M157 202h0M157.5 206h0M157.2 202.3h0M163.8 201.2h0M161.1 205.4h0M163.1 205.7h0M149.5 205.7h0M157.2 203.5h0M157.1 205.1h0M156.4 203.3h0M149.1 203.4h0M160.3 201.5h0M164.2 205.6h0M160.5 208.3h0M159.2 203.6h0M163.3 196.9h0M164.8 192.7h0M165.8 172h0M166.2 178h0M166 181h0M166.5 188h0M165.5 195h0M166 198h0M166.3 204h0M166.8 207.5h0M190.5 168.5h0M191 172h0M210.3 176h0M210.6 184h0M237 173.5h0M193 206.5h0M192 208h0" stroke="#b5b5b5" stroke-width="1.9" stroke-linecap="round" fill="none"/>
<path d="M141.2 202.4H146.4M145.4 182.7H150M151.6 179.1H153.7M148.5 199.7H152.7M152.7 201.6H165.8M164 184.7H166.6M165.2 175.2H167.2M165.8 191.4H169.3M168.3 186.8H175M173.9 174.8H179.7M177.6 171H182.8M181.2 178.5H184.5M182.4 188.3H186M184.5 177.5H191.2M190.1 200.8H196.4M195.3 192.4H209.9M208.4 180.2H212M209.9 193.1H229.6M228.2 181.8H236.3M235.9 175.8H238.4M235.2 193.9H243.6" stroke="#8a2be2" stroke-width="2.1" stroke-linecap="butt" fill="none"/>
<path d="M165.9 175.2h0M152.6 179.1h0M237.2 175.8h0" stroke="#8a2be2" stroke-width="2.3" stroke-linecap="round" fill="none"/>
<rect x="142.1" y="183.9" width="3.4" height="7.8" rx="1.7" fill="#f772b0"/>
<path d="M141 210.1H250" stroke="#000" stroke-width="1.6" stroke-linecap="butt" fill="none"/>
<path d="M166.4 219.2h0M216.6 219.2h0" stroke="#000" stroke-width="3.1" stroke-linecap="round" fill="none"/>
<path d="M137.3 248.2H250" stroke="#000" stroke-width="1.6" stroke-linecap="butt" fill="none"/>
<rect x="141.1" y="253" width="10.1" height="9.6" fill="#f2f2f2"/>
<rect x="151.1" y="253" width="4.1" height="9.6" fill="#bfbfbf"/>
<rect x="155.1" y="253" width="7.9" height="9.6" fill="#f2f2f2"/>
<rect x="162.9" y="253" width="11.7" height="9.6" fill="#7f7f7f"/>
<rect x="174.4" y="253" width="7.7" height="9.6" fill="#f2f2f2"/>
<rect x="181.9" y="253" width="11" height="9.6" fill="#000"/>
<rect x="192.8" y="253" width="3" height="9.6" fill="#f2f2f2"/>
<rect x="195.7" y="253" width="9.7" height="9.6" fill="#000"/>
<rect x="205.3" y="253" width="11" height="9.6" fill="#f2f2f2"/>
<rect x="216.1" y="253" width="10.4" height="9.6" fill="#bfbfbf"/>
<rect x="226.3" y="253" width="9.3" height="9.6" fill="#f2f2f2"/>
<rect x="235.4" y="253" width="8.1" height="9.6" fill="#7f7f7f"/>
<rect x="243.4" y="253" width="5.7" height="9.6" fill="#e8312f"/>
<rect x="141.1" y="253" width="108.5" height="9.6" fill="none" stroke="#000" stroke-width="1.1"/>
<path d="M141.1 262.7L141.1 267" stroke="#222" stroke-width="1.3"/>
<text x="141.1" y="276.6" font-size="7.8" text-anchor="middle" fill="#4d4d4d">0</text>
<path d="M163.3 262.7L163.3 267" stroke="#222" stroke-width="1.3"/>
<text x="163.3" y="276.6" font-size="7.8" text-anchor="middle" fill="#4d4d4d">10</text>
<path d="M185.5 262.7L185.5 267" stroke="#222" stroke-width="1.3"/>
<text x="185.5" y="276.6" font-size="7.8" text-anchor="middle" fill="#4d4d4d">20</text>
<path d="M207.7 262.7L207.7 267" stroke="#222" stroke-width="1.3"/>
<text x="207.7" y="276.6" font-size="7.8" text-anchor="middle" fill="#4d4d4d">30</text>
<path d="M229.9 262.7L229.9 267" stroke="#222" stroke-width="1.3"/>
<text x="229.9" y="276.6" font-size="7.8" text-anchor="middle" fill="#4d4d4d">40</text>
<text x="195.4" y="291" font-size="11" text-anchor="middle" fill="#000">5p (Mbps)</text>
<path d="M136.9 163.7L141.3 163.7" stroke="#222" stroke-width="1.3"/>
<text x="133.4" y="166.7" font-size="8.3" text-anchor="end" fill="#3a3a3a">128</text>
<path d="M136.9 180.2L141.3 180.2" stroke="#222" stroke-width="1.3"/>
<text x="133.4" y="183.2" font-size="8.3" text-anchor="end" fill="#3a3a3a">16</text>
<path d="M136.9 196.4L141.3 196.4" stroke="#222" stroke-width="1.3"/>
<text x="133.4" y="199.4" font-size="8.3" text-anchor="end" fill="#3a3a3a">2</text>
<path d="M136.9 217L141.3 217" stroke="#222" stroke-width="1.3"/>
<path d="M136.9 232.6L141.3 232.6" stroke="#222" stroke-width="1.3"/>
<text x="135.4" y="220.6" font-size="8.2" text-anchor="end" fill="#4d4d4d">10<tspan dy="-3.4" font-size="6">8</tspan></text>
<text x="135.4" y="236.2" font-size="8.2" text-anchor="end" fill="#4d4d4d">10<tspan dy="-3.4" font-size="6">4</tspan></text>
<text x="131.3" y="251.6" font-size="9.6" text-anchor="end" fill="#333">0</text>
<text transform="translate(107.6 186.5) rotate(-90)" font-size="9.6" text-anchor="middle" fill="#000">Copy</text>
<text transform="translate(116.4 186.5) rotate(-90)" font-size="9.6" text-anchor="middle" fill="#000">number</text>
<text transform="translate(107.6 231.5) rotate(-90)" font-size="9.6" text-anchor="middle" fill="#000">Inter-mutation</text>
<text transform="translate(116.4 231.5) rotate(-90)" font-size="9.6" text-anchor="middle" fill="#000">dist. (bps)</text>
<text x="144.8" y="153.2" font-size="9.5" text-anchor="middle" fill="#000" font-style="italic">TERT</text>
<polygon points="142,155.8 146.4,155.8 144.2,163.4" fill="#000"/>
<path d="M144.2 155.8L144.2 163.4" stroke="#000" stroke-width="0.9"/>
<path d="M272.6 199h0M278 203.6h0M272.5 195.6h0M277.5 195.6h0M280.4 196h0M282.6 200.4h0M274.1 194.6h0M272.8 195.5h0M278.9 200.4h0M275 198.8h0M273.1 194.2h0M278.1 194.3h0M276.6 205.1h0M271.5 199.5h0M272 197.8h0M276.2 197.2h0M274.7 202.1h0M276.4 196.8h0M281.7 199.3h0M280.4 197.2h0M277.2 195h0M271.8 199.2h0M283.7 202.7h0M273.4 197.3h0M282.6 198.7h0M274 196.7h0M277.3 205.1h0M275.2 195.5h0M275.1 195h0M283.7 193.5h0M274 199.5h0M280.7 196.5h0M277.4 197.7h0M284.2 194.1h0M283.7 199.3h0M278.7 194.9h0M272.5 193.1h0M273.9 197.5h0M272.6 193.8h0M278.2 198h0M280.4 195h0M282.7 196.9h0M273.8 197.2h0M280.3 201.2h0M276.9 198.7h0M283.6 198.5h0M284.3 197.7h0M280.3 197h0M282 198.1h0M283.6 198.5h0M274.3 195.8h0M274.2 196h0M272.9 195.1h0M282.7 198.6h0M281.4 201.8h0M271.5 193.6h0M280.9 192.7h0M272.6 196.1h0M282 197.7h0M277.1 200h0M276.6 197.5h0M276.1 193.8h0M274.9 198h0M276.9 202.6h0M275.5 196h0M283 199.5h0M275.3 206.3h0M281.2 199.6h0M283.1 197.7h0M276.6 198h0M272.6 198.5h0M278.6 197.9h0M283.6 197.3h0M273.9 200.6h0M271.5 194.9h0M283.1 196.6h0M272.6 195.8h0M287.7 184.9h0M283.1 189.2h0M280.9 194.1h0M289.1 192.9h0M287 190.5h0M280.5 189.2h0M285.2 194.2h0M284.6 191.6h0M289.7 193.1h0M290.4 194.2h0M287 194.4h0M281.3 191.7h0M280.9 193.1h0M290.1 187.8h0M286.6 190.6h0M282.4 186.8h0M289.1 187.7h0M282.5 193.3h0M288.1 191.5h0M280.2 187.8h0M290.1 193.5h0M280.7 190.9h0M283.5 190.3h0M284 198.9h0M285 192.4h0M286.9 189.1h0M289.6 195h0M288 189.2h0M289.9 190.5h0M282.8 198.6h0M279.8 188.1h0M282.5 185h0M287.3 190.9h0M290.3 190.1h0M286 192.4h0M280.6 195.2h0M286.2 189.9h0M284.7 190.3h0M285.9 189.4h0M282.6 192.2h0M280.5 193.6h0M279.8 194.2h0M279.4 193.1h0M282.6 190.2h0M286.8 191.9h0M288.4 190.5h0M281.7 193.7h0M280.1 191.1h0M283.9 192.1h0M285.9 189.5h0M284.5 188h0M280.8 195.6h0M289.1 191.2h0M288.7 195.1h0M282.9 188.8h0M283.9 188.8h0M279.5 191.2h0M289.7 192.1h0M289.8 186.3h0M284.8 194.5h0M287.6 190.2h0M286.5 192.1h0M284.3 192.3h0M280.4 192.2h0M288.2 190.9h0M282.3 189.6h0M287.3 193.5h0M287.4 198.9h0M287.6 193.6h0M286.1 200.8h0M288.2 196.4h0M285.4 198.4h0M286.4 199.5h0M286.7 199.1h0M287.1 192h0M286.6 199h0M287.4 195.2h0M287.4 194.3h0M288.1 198.6h0M287.8 199.9h0M286.8 201.2h0M287 201h0M285.7 205.5h0M286.8 197h0M287.7 197.3h0M292.8 193.8h0M289.7 197.7h0M298.4 196.6h0M288.9 194.4h0M289 196.8h0M289.8 200h0M290.3 197h0M299 201.2h0M291.1 193.2h0M292.5 200.6h0M295.4 199.8h0M298.9 197.5h0M293.1 197.9h0M296.3 197.4h0M295.1 197.4h0M294.7 196.3h0M299.8 194.5h0M295.6 199.9h0M291.6 193.2h0M291.9 191.6h0M298.7 198h0M290.7 193.3h0M292.3 195.3h0M296.9 200.7h0M297.4 199.1h0M295.3 201.8h0M299.8 194.2h0M288.7 198.3h0M295.6 193.4h0M290 197.5h0M292.2 197.6h0M294.5 200.1h0M294.3 202.3h0M294.3 197.6h0M297.3 201.8h0M289.6 195.9h0M296.7 197.3h0M299.2 195.7h0M299.2 195.3h0M293.5 202h0M296.2 201.7h0M301.6 199.6h0M301.2 194.7h0M296.1 193.7h0M294.7 197.7h0M300.7 199.5h0M296.9 199.8h0M290.3 195.3h0M291.7 195.5h0M294.3 199.5h0M293.1 197.8h0M289.9 199.6h0M292.1 198.4h0M301.2 198.6h0M289.6 197.8h0M301.1 194.6h0M290.3 203.4h0M295.7 198.9h0M289.4 202.7h0M300.8 198.8h0M289.1 198.3h0M292.7 199h0M292.4 196h0M295.9 200h0M292.2 196.5h0M291.3 196.8h0M300.9 197.5h0M295.6 197h0M299.8 203.8h0M288.7 199.6h0M294.7 201h0M289.6 196.4h0M290 198.9h0M289.2 199h0M289.7 197.9h0M296.1 195.8h0M296.8 199.1h0M290.9 196.9h0M300.5 198.4h0M301.7 191h0M300.2 192h0M300.5 195.1h0M306.1 191.8h0M307.8 191h0M305.4 192.1h0M302.2 189.2h0M308.5 191h0M299.2 191.4h0M299.4 193.9h0M299.1 194.2h0M301.7 188.8h0M309.5 191.8h0M311 193.1h0M303.5 191.8h0M299.7 192h0M311.3 186.9h0M307.5 192.4h0M301.4 193.4h0M304.8 191.4h0M308.2 194.4h0M302.2 190.6h0M301.4 189.8h0M302.9 191.5h0M301.6 190.7h0M311.3 192.4h0M310.6 195.5h0M308.9 186.9h0M307.3 189.8h0M310.6 191.6h0M307.9 191.6h0M309.9 191.4h0M306.1 196.1h0M300.2 192.1h0M301.3 193.7h0M308.4 187.9h0M308.8 190.3h0M302.9 192.2h0M303.4 190.7h0M306.4 191h0M300.3 191.9h0M303 191.2h0M305 188.5h0M309 190.3h0M301.2 191h0M308.8 190.2h0M301.1 192h0M303.5 188.9h0M306.7 192.7h0M303.5 193.1h0M306 192.2h0M302.2 191.3h0M299 190.9h0M308 189.8h0M309.5 194.8h0M299.3 189.7h0M306.1 196.5h0M301.7 191.8h0M301.8 194.6h0M309.4 188.5h0M299.4 191.3h0M308.9 189h0M305.9 188.8h0M305.3 188.1h0M308.3 192.8h0M304.3 194.9h0M305.9 196.4h0M302.8 190.8h0M309.2 192.8h0M303.4 192.5h0M310.7 189.5h0M305.9 192.6h0M299.6 194.5h0M301.8 190.4h0M299.6 190.8h0M324.3 193h0M312.5 189.4h0M321.4 198.4h0M317.3 199h0M319.1 192.5h0M322.2 193h0M324.9 196.4h0M316.6 198.5h0M314.6 192.5h0M312.9 195.3h0M323 190.2h0M313.2 195.7h0M326.4 197.1h0M317.7 198.1h0M325 190.4h0M320.8 191.2h0M321 193.5h0M316 190h0M324.1 191.2h0M322.8 198.9h0M325.7 190.1h0M323.8 196.8h0M315.2 194.7h0M314.4 194.8h0M317.9 191h0M322 191.2h0M312.5 191.2h0M326.9 187.5h0M320.2 188.6h0M319 193.8h0M323.8 190.1h0M314 191h0M315.3 191.8h0M321.1 191.4h0M325.1 190.6h0M318.7 194.4h0M325.2 193.4h0M326.6 192.4h0M316.4 191.2h0M327 196h0M313.8 194.2h0M319.3 188.9h0M314.6 192.5h0M322.5 190.9h0M317.9 192.3h0M318.4 188.8h0M317.3 193.4h0M324 194.7h0M314.4 191.2h0M326 189.6h0M320.1 193.6h0M316.1 190.8h0M324.8 194h0M327.2 196.1h0M324.3 191.2h0M312.5 191.3h0M317.4 195h0M323.4 189h0M324.7 196.4h0M317.3 190.2h0M313.9 197.8h0M326.7 190.3h0M313.5 199.8h0M318.9 189.7h0M313 192.1h0M319.7 193.8h0M319.8 194h0M317.3 196h0M325.9 191.9h0M318.8 188.5h0M320.3 194h0M319.6 195.4h0M323.1 190.3h0M316.2 193.7h0M317.2 190.4h0M323.5 190.4h0M327 190.4h0M319.6 190.6h0M317.1 190h0M320.7 192.3h0M327.2 194.3h0M321.6 192.3h0M319.2 192.9h0M313.6 198.6h0M319.6 190.5h0M317.5 197.4h0M318.7 189.9h0M314.1 192.7h0M322.2 191.2h0M323.5 192.2h0M345.5 195.4h0M356.4 199h0M360.6 199.3h0M350.6 197.1h0M347.6 196.3h0M360.4 199.5h0M353.1 196.4h0M349.2 194.1h0M349.9 194.3h0M360.9 194.2h0M348.3 199.7h0M345.7 193.5h0M348.6 195.7h0M357.8 195h0M358.2 196.9h0M360.2 195.4h0M351.2 197.8h0M353.5 192.8h0M349.6 199.6h0M360.6 197.2h0M352.4 192.5h0M348.3 199.7h0M356.2 195.8h0M356.1 200.1h0M358.4 203.6h0M353.1 193.4h0M357.6 196.1h0M346.6 199.9h0M355.9 198.2h0M350.7 195.5h0M357.8 201.7h0M351.6 196.5h0M348.2 196.3h0M356.2 191.8h0M359.9 200.4h0M355 193.6h0M357.8 196.2h0M351.6 201.3h0M348.6 196.3h0M347.1 199.2h0M353.3 200.1h0M355.2 199.2h0M349.2 198.2h0M353 195h0M351.3 199.3h0M346.7 197.6h0M346.1 199.3h0M353 193.8h0M353.3 196.2h0M361.1 196.1h0M354.5 196.9h0M344.8 193.2h0M345 195.3h0M350.1 192.1h0M349.2 194.6h0M359.8 197.1h0M348.5 195.3h0M351.1 196.5h0M358 194.1h0M351.6 193.6h0M353.6 198.7h0M347.6 201.2h0M347.3 205.7h0M359.6 197h0M350.4 194.9h0M352.5 194.8h0M349.3 194.9h0M344.8 193.6h0M358.7 193.5h0M348.1 190.8h0M347.2 192.4h0M355.6 193.9h0M356.5 193.1h0M357.6 196.1h0M357.2 195.5h0M353.4 196.9h0M355.2 194.5h0M355.1 197.8h0M361 195.4h0M345.6 194.3h0M348.4 193.7h0M345.7 192.6h0M350.3 196h0M352.3 200.4h0M346.7 195.4h0M350.3 195.4h0M353.9 202.1h0M360.1 197.8h0M357.2 194.2h0M355 197h0M348.8 194.6h0M352.3 194.2h0M357 195.3h0M345.6 198.3h0M346.6 195.2h0M348.3 197.9h0M348.5 193.5h0M350 197h0M354.6 198.1h0M361.2 196.1h0M348.2 199.4h0M356.2 188.8h0M353.8 189.7h0M353.2 190.2h0M356.8 190.1h0M356.6 190h0M354.2 190.7h0M356.6 188.6h0M354.2 195.8h0M353.9 187.6h0M355.1 188.3h0M355.3 192.2h0M354.5 187.8h0M353.9 187.8h0M354.6 193.8h0M356 193.2h0M354.2 191.7h0M354.9 193.5h0M355.8 192.7h0M356.2 190.2h0M355.3 191.3h0M359.2 195.3h0M365.1 188.6h0M362.9 188.7h0M360.8 188.4h0M362.3 200.8h0M364.5 191h0M365.9 185.5h0M364.6 190.5h0M365.7 186.5h0M361.7 192h0M361.7 185h0M364.9 188.4h0M361 190.8h0M362.4 191.7h0M360.3 197.1h0M362.9 189.1h0M365.4 190.1h0M362.6 193.5h0M366.1 192.2h0M363.1 192.5h0M365.8 184.8h0M359.9 192.4h0M365.6 189h0M362.1 179.2h0M364.2 190.5h0M361.2 187.7h0M362.6 190.1h0M361.9 187.1h0M362.5 190.6h0M365.7 189.4h0M360.1 187.4h0M359.9 192h0M360.5 188.4h0M364.7 193.6h0M364.6 194.8h0M366.4 194.1h0M360 187h0M362.9 190.3h0M364.7 190.7h0M362.5 192.6h0M360.3 186h0M363.9 189.8h0M364 189.5h0M361.2 189.2h0M367.8 181.9h0M368.5 183.1h0M364.9 181.9h0M367 183.4h0M365.7 182.2h0M368.6 182.2h0M368.3 184.2h0M365 184.4h0M365.7 182.4h0M366.2 182.8h0M365.2 182.5h0M366.7 181.7h0M365.2 180.3h0M368.7 182.2h0M369.3 179.9h0M365.4 180.2h0M367.1 180.8h0M366.9 181.5h0M368.3 184h0M369 181.2h0M367.9 181.3h0M368.2 183.1h0M365.6 181.9h0M369.1 182.7h0M366.1 188.7h0M368.5 182.6h0M366.2 196.6h0M373.6 195.6h0M367.7 195.8h0M371.6 198.2h0M368.8 196h0M366.3 206.8h0M375.6 197.4h0M363.2 197.8h0M366.3 196.7h0M366.1 188.3h0M365.8 192.7h0M372.4 197.1h0M373.2 194.7h0M371.8 193.4h0M368.1 195h0M368.2 197.3h0M369.4 194.6h0M363.8 200.7h0M362 198.5h0M372.2 195.4h0M374.9 198.6h0M366.6 196.2h0M372 197.2h0M372.9 195.6h0M365.2 194.8h0M373.7 192.9h0M366.6 195.1h0M374.8 197.4h0M367.3 195.7h0M374.8 197.5h0M371.7 196.1h0M368 195.8h0M367.3 196.8h0M371.2 197.9h0M366.2 195.4h0M365 197.1h0M370.8 193.1h0M365.4 201.9h0M363.4 199.9h0M372.4 199.1h0M368.7 206.1h0M369.3 194.3h0M373.5 193.7h0M373.9 195.6h0M373.5 191.8h0M375 196.7h0M370.3 197.6h0M367.5 196.8h0M370 198.4h0M371.6 199.3h0M372.6 198.6h0M372.1 194.8h0M364.2 200.3h0M369.3 193.3h0M363.1 196.7h0M368.4 198.1h0M374.4 195.2h0M372.2 192.5h0M373.4 194.9h0M372.2 201.5h0M373.8 197.5h0M375.7 197.1h0M372.8 201h0M367.5 193.4h0M372.1 193h0M362.2 195.5h0M371.1 198.8h0M361.3 195.7h0M365.5 202.3h0M364.6 197.3h0M375.3 195.2h0M374.4 196.3h0M364.1 191.3h0M366.6 197.3h0M363.2 203.9h0M373.7 197.6h0M361.3 196.5h0M375.7 194.4h0M371.9 195.1h0M372 205.1h0M362.9 197.2h0M373.2 192.5h0M370.5 199.7h0M361.9 194.5h0M366.3 197.8h0M366.7 198.1h0M368.8 200.4h0M374.1 195.2h0M376.6 196.6h0M381.4 192.1h0M381.2 196.4h0M375.3 192.1h0M378.4 191.6h0M377.4 192h0M377.4 194.6h0M375.1 194.1h0M373.9 198.5h0M382.2 193.8h0M378.2 202h0M374.7 194.6h0M382.2 195.7h0M378.6 190.6h0M377 190.7h0M375.7 193.3h0M376.4 195.7h0M374.1 190.4h0M380.7 191.1h0M379.2 200.8h0M380.7 192.8h0M377.4 195.5h0M375.2 190.4h0M375.6 191.5h0M382.1 193.9h0M381.7 193h0M379.9 197.6h0M376.3 188.1h0M381.2 199.2h0M379.4 194.4h0M382.2 189.5h0M376.8 193.5h0M379.5 197.5h0M381.4 194h0M378.4 192.6h0M377.7 193.9h0M376.9 194.7h0M376.7 196.3h0M378.1 194.9h0M376.6 193.9h0M377.1 190.7h0M377.6 192.8h0M378.1 194.9h0M381.8 194.6h0M379.6 194.6h0M377.3 193.8h0M374.2 199.6h0M375.9 195.7h0M376.9 195h0M382.4 194.7h0M367 194.1h0M361.6 198.9h0M364.1 199.1h0M362.6 196.4h0M364.2 197.8h0M362.9 196.3h0M368.3 198.9h0M367.7 193h0M361.5 195.5h0M367.2 197.9h0M362 197.8h0M366.1 194.2h0M363.4 195.6h0M361.6 197.9h0M364.6 196.3h0M366.4 194.8h0M364.1 199.8h0M365.2 197.7h0M365.1 195.8h0M361.9 197h0M362.5 197.8h0M366.6 194.5h0M365.1 198.9h0M363.6 195.1h0M366 199.7h0M366 193.2h0M363.7 194.8h0M364.8 196.4h0M364.8 196.6h0M362.7 196h0M367 199.3h0M362.7 197.1h0M363.7 196.5h0M364.9 193.9h0M363.1 195.5h0M366.9 202.4h0M365.1 197.3h0M365.9 198.8h0M367 201.2h0M361.6 195.7h0M371.6 196.1h0M369.4 199.9h0M374.5 194.3h0M369.6 197h0M368.3 195h0M367.8 198.5h0M367.8 195.3h0M373.9 197.7h0M371.7 199.9h0M368.8 191.2h0M370.4 198.8h0M367.9 196.1h0M370.1 196.2h0M372.7 195.1h0M374.9 192.2h0M368.4 199.9h0M373.2 195.3h0M374.9 194.9h0M369.5 188.6h0M375.5 197.7h0M374.8 196.8h0M372 197.7h0M369 196h0M372.5 198.9h0M371.7 192h0M369.5 197.2h0M373.5 195.5h0M374.9 194.8h0M371.9 196.3h0M370.2 195.4h0M373.2 198.1h0M375.5 192.7h0M374.3 197.9h0M369.9 195.9h0M370.5 192.7h0M368.3 192.4h0M372.6 197.4h0M370.3 196.7h0M373 199.9h0M375.3 195h0M370 196.8h0M368.8 200.6h0M375.3 194.4h0M373.5 194.2h0M369.1 193.9h0M375.7 197.9h0M373.4 195.2h0M380.4 195.4h0M381.4 191.5h0M381.1 194.4h0M380.9 197.5h0M378.7 195.3h0M380.1 190.8h0M375.7 194.2h0M375.8 192.5h0M377.3 194.8h0M378.9 194.4h0M381.4 189.9h0M376.5 195h0M381 195.3h0M380 193.9h0M378.8 190.7h0M377.4 194.3h0M381.4 192.7h0M377.8 195.2h0M376.6 192.2h0M378 198.7h0M381.5 193.4h0M378.1 188.2h0M380.1 190.4h0M376.2 192.8h0M378.6 190.9h0M381.2 195.9h0M379.1 193.2h0M381.1 200.2h0M380.9 193.9h0M379 194.2h0M380.8 194.3h0M381.6 200.1h0M377 191.2h0M377.4 197.2h0M377.9 192.3h0M375.9 196.3h0M377.9 194.3h0M382 191.1h0M384.8 198.5h0M382.6 199.9h0M383.3 198.6h0M385 195.9h0M380.4 200.4h0M383.4 195.9h0M386.4 200.5h0M381.5 198.9h0M384 200.4h0M384.5 199h0M385.3 200h0M383 197.7h0M381.6 198.6h0M382.6 192.4h0M383.5 199.7h0M386 205.8h0M382.3 196.5h0M381.3 198.9h0M380.6 202.2h0M384.3 199.8h0M382.2 195.7h0M385.5 201.5h0M383.5 199.6h0M380.4 197.8h0M386.1 197.7h0M384.6 195.5h0M383.5 199.4h0M384.2 193h0M381.2 198.7h0M383.1 197.6h0M383.6 198.8h0M385.4 197.4h0M382.8 196.8h0M383.5 198.1h0M385.4 195.5h0M386.3 194.1h0M386.1 187.9h0M388.4 192.3h0M384.9 187.8h0M384.5 189.9h0M388 188.6h0M385.1 196h0M385.4 190.4h0M387.9 188h0M385.4 192.6h0M386.5 188.7h0M387.3 188.7h0M386.2 201.5h0M386.4 190.5h0M386.2 190.4h0M385.6 189.8h0M387.6 193.5h0M388.1 189.8h0M385.7 190.2h0M387.5 187.2h0M384.2 191h0M387.8 196.1h0M412.5 197.8h0M404.2 202.8h0M393.8 196.3h0M397.8 194.5h0M390.2 194.7h0M428.1 196.5h0M422.4 196.9h0M393.7 195.5h0M396.8 194.5h0M401.1 195.2h0M428 194.9h0M397.5 198.9h0M426.2 197.1h0M401.3 198h0M399.8 192.7h0M397.7 193.3h0M415.3 197.1h0M409.6 197h0M422.9 195.2h0M415.8 199h0M425.6 193.3h0M397.3 194.4h0M410.2 199.6h0M390.5 199.9h0M423.5 197.3h0M401.4 193.6h0M390.1 195.1h0M387.8 198h0M413.7 194.7h0M407 197.5h0M419.1 194.5h0M424.2 198.3h0M387.7 197.1h0M405.9 200.1h0M424.4 197.8h0M404.3 194.3h0M389.6 197.6h0M411.4 197.4h0M389.1 196h0M393.8 192.7h0M411.7 199.2h0M407.7 197.4h0M415.2 195.8h0M421.4 195.8h0M398.1 199.6h0M389.5 194.5h0M416.8 196.5h0M425.4 197.1h0M427.1 198.1h0M395.1 199.9h0M406 197.3h0M411.9 193h0M404.5 196h0M424.6 198.7h0M401.5 199.2h0M399.4 195.5h0M426 196.8h0M401.6 197.3h0M421.4 199.3h0M402.2 197h0M395.9 198.1h0M396.7 196.9h0M424.6 201.7h0M426.8 198.7h0M389.9 195.7h0M422.3 192.6h0M425.1 198.9h0M418.8 195.8h0M388.7 195.2h0M397.9 195.3h0M399.9 201.8h0M398.4 195.7h0M423.6 201.2h0M399.1 199.7h0M395.5 194h0M388.6 196.2h0M419.2 198.8h0M417.3 197.8h0M421.4 196.9h0M421.2 198h0M420.3 197.8h0M404.4 200.4h0M407.5 198.4h0M423.5 194.1h0M412.6 196.9h0M388.4 192.6h0M396.4 198.5h0M397.2 196.9h0M402.9 195.6h0M418 198.4h0M405.7 199.6h0M394.8 199.2h0M393.7 195.1h0M402.2 197.7h0M402.2 198.6h0M417.5 198.8h0M407.5 197.5h0M420 200.2h0M413.4 194h0M405.7 198.7h0M399.9 199.3h0M393.7 198.8h0M426 197.2h0M420.8 196.3h0M396.1 193.9h0M395.6 191h0M398.7 201.4h0M399.3 199.2h0M421.7 197.7h0M405.8 192.2h0M420.3 196.7h0M405.2 199.6h0M423.6 199.1h0M405.5 200.7h0M398.8 197.8h0M394.1 195.1h0M397.9 195h0M389.8 193.9h0M421.6 195.8h0M388 199h0M419.4 195.2h0M426.5 199.7h0M406.2 193.9h0M411 197.2h0M403.2 197.2h0M401.2 193.9h0M389.8 192.1h0M406.4 201.6h0M421.6 196.9h0M411.8 195.8h0M412.2 197.5h0M397.8 200.5h0M404.8 197.7h0M415.1 192.1h0M402.3 197.4h0M404.9 196.1h0M413.2 195.5h0M409.7 202.8h0M400.1 196.2h0M398.2 198.6h0M415.7 197.4h0M399 196.3h0M414.4 195.9h0M402.5 200h0M425.2 197.3h0M410.6 195.2h0M413.5 195.6h0M409.6 198.1h0M408.8 197.4h0M391.3 199.5h0M390.3 197.6h0M423 198.1h0M406.4 192.8h0M401.9 197.9h0M394.3 191.6h0M395.9 197.3h0M403.1 196.2h0M395.9 194.7h0M404.6 202.6h0M402 198.2h0M392.8 203.1h0M414 197.8h0M397.6 196.6h0M394.9 195.8h0M423.6 198.1h0M393.4 197.2h0M404.8 197.5h0M398.1 195.1h0M403.8 198.2h0M411.6 200.7h0M427.7 197.3h0M424.5 191h0M405.4 197.5h0M405.8 195h0M419.8 196.8h0M403.3 195.5h0M399.6 193.7h0M414.7 196.1h0M389.5 197.5h0M395.2 196.4h0M402.5 198.4h0M404.5 202.2h0M425.2 198.2h0M387.5 196.2h0M424.9 195.4h0M410.1 200.4h0M416.8 197.8h0M417.9 194h0M407 193.2h0M409.1 196.9h0M389.7 198.8h0M428 205.6h0M398.7 193.9h0M397.4 194.5h0M405.7 195h0M387.9 201.9h0M427.7 193h0M399.7 207.6h0M423.6 195.5h0M391.9 195.1h0M419.2 194.8h0M410.9 193.6h0M394.7 191.5h0M396 198.2h0M421.7 197.5h0M420.9 197.3h0M387.5 195.3h0M416.9 192.7h0M401.9 196.3h0M391.2 199h0M415.8 196.1h0M413.5 199.5h0M418.8 198.7h0M418.9 194.1h0M426.6 194.5h0M422.4 196h0M410.1 198.1h0M394.9 190.2h0M398.6 196.2h0M401.1 192.6h0M409.1 195.1h0M387 197.7h0M401.4 195.9h0M394.1 195.8h0M394.9 199.1h0M393 194.1h0M415.5 195.2h0M388.1 197.2h0M409 196.6h0M409.1 197.3h0M396.5 198.2h0M411 200.5h0M401.8 200.7h0M419.2 197.2h0M401.2 196.3h0M425.5 200h0M419.9 197.8h0M393.9 196.4h0M401.2 197.4h0M396.1 195.6h0M396.5 197.2h0M414.4 204.2h0M420.1 195.4h0M399.6 200.3h0M427.2 194.9h0M394.4 197.7h0M426.2 198.3h0M390 195.6h0M429.1 198.3h0M404 193.9h0M396.8 201.4h0M412.6 195.4h0M400.3 197.3h0M428.1 197.7h0M388.4 193.2h0M396.8 198.6h0M419.1 199.1h0M416.8 195.9h0M420.6 196.3h0M407.8 195.8h0M392.7 197.2h0M427.5 196.5h0M420.8 194h0M427.8 195.1h0M420.9 193.3h0M392.5 203.2h0M418.2 199.5h0M417.1 196.2h0M419 195.4h0M473.2 187.4h0M443.9 191.4h0M473.1 191.5h0M477.1 187.6h0M444 191.6h0M438.3 196.6h0M441.6 189h0M429.5 186.5h0M455.8 191h0M458 189.8h0M453.2 194.6h0M437.2 189.5h0M424 191.2h0M469.7 188.5h0M476.6 189.9h0M475.4 188h0M436.5 186.6h0M454.8 188.3h0M474.1 189.2h0M446.1 191.3h0M425.4 190.8h0M471.1 190.6h0M432.1 193.8h0M452.5 194.4h0M455.9 194.3h0M428.9 193.7h0M436.8 184.5h0M472.5 193.1h0M440.1 192.7h0M429.6 189.8h0M437.7 191.6h0M475.4 195.2h0M458 191.9h0M426 189.3h0M453 192.2h0M475.2 190.1h0M433.6 183.9h0M475.8 190.1h0M450.8 190h0M453.1 191.1h0M437.3 192.6h0M433.1 191.9h0M425.7 190.7h0M454.2 194.1h0M424.7 187.2h0M435.8 191.3h0M453.4 189.8h0M446.2 191h0M429.8 188.7h0M425.1 188h0M431.6 191.1h0M447.8 192.3h0M453.4 191.8h0M459.9 196.5h0M458.5 190h0M469.4 190.7h0M451.1 197.6h0M457.1 192.1h0M453.2 193.5h0M470.5 193.1h0M472.3 190h0M461.8 189.1h0M438.6 187.4h0M456.1 189.1h0M457.9 194.8h0M453.3 190h0M427 189h0M441.3 202.2h0M451.3 195.5h0M427.4 190.2h0M453.4 191.1h0M455.5 198.4h0M424 190.9h0M445.1 189.6h0M431.8 190.6h0M436.4 189.7h0M443.9 192.3h0M443.5 188.1h0M477 194.1h0M465.3 190.4h0M477.6 187.5h0M424 190.3h0M476.8 189.4h0M458.8 193h0M463.6 192.4h0M451.1 193.6h0M427 188.1h0M450.7 193.3h0M447.8 189.4h0M451 199.6h0M473.8 190.8h0M452.9 189.9h0M466.6 192.4h0M454.3 189.2h0M447 190.2h0M455.9 188.7h0M463.7 193.5h0M433.4 187.2h0M425 187.8h0M434.4 192.3h0M440.4 193.1h0M447.1 186.2h0M470.9 189.9h0M462.9 190h0M465.8 187.4h0M455 189.9h0M439.5 190.8h0M468.2 193.8h0M467.9 190.3h0M430.5 189.5h0M430 188.3h0M461.2 188.3h0M472.6 191.7h0M460.5 191.6h0M426.8 189h0M460.8 197h0M448.8 191.2h0M432 190h0M452.7 188h0M466.8 192.3h0M465.9 191.7h0M466.5 189h0M425.1 192.1h0M432.9 190.9h0M474.9 189.8h0M443.7 191.2h0M478.1 188.6h0M457.3 192.2h0M435.8 192.6h0M437.5 192.9h0M439.4 188.1h0M464.8 191.9h0M457.4 190.6h0M440.7 190.8h0M476.3 191.2h0M468.9 196.6h0M469.1 189.3h0M436.6 189.1h0M433.5 194.7h0M425 194.9h0M460.1 194.8h0M427.9 195.2h0M472.7 189.4h0M459.2 189.1h0M455.8 188.9h0M436.5 188.9h0M444.3 190.6h0M454.6 189.2h0M457.9 193.2h0M458.1 189.3h0M462.7 193.3h0M463.7 189.5h0M455.2 189.7h0M442 196.3h0M440.6 189.2h0M427.6 190.3h0M436.6 195.1h0M461.4 193.8h0M450 188.8h0M445.5 191h0M440.4 190.3h0M429.8 188.1h0M436.8 194.4h0M470.6 187.3h0M475.2 189.3h0M472.5 192.3h0M448.7 190.5h0M457.2 184.8h0M453.3 188.7h0M440.6 190h0M439.4 191.2h0M432.8 187.6h0M439 193.4h0M449.2 189.1h0M470.2 191.3h0M452.7 191.6h0M454.3 191.7h0M457.5 196h0M474.9 193.5h0M433.1 193.5h0M440.7 192.4h0M431.2 191.6h0M462.9 191.6h0M432.3 191.9h0M437.4 192.3h0M456.4 195.3h0M475.9 187h0M431.1 194.3h0M456.8 194.5h0M465.6 192.2h0M443.8 190.5h0M457.1 190.8h0M460.6 196.3h0M468.9 185.6h0M434 192.8h0M435.2 186.3h0M446.2 187.8h0M441.6 191.7h0M463.6 189.8h0M445.5 195.4h0M445.6 189.7h0M446.1 187.5h0M448.3 188.8h0M436.3 194.8h0M452.1 191.1h0M432.5 193.3h0M439 188.5h0M456.5 188.2h0M426.5 189.4h0M456.4 195.9h0M454.4 189.5h0M447.4 189h0M437.8 192.5h0M439.4 191.9h0M465.8 190.3h0M460.3 190.1h0M466.4 195.6h0M449 192.1h0M425.4 190.3h0M427.4 195.2h0M431.1 184.9h0M427.3 191.6h0M435 194.1h0M471.3 189.8h0M447.4 187.5h0M434.4 195.6h0M454 194.5h0M454.5 190.5h0M445.8 191.6h0M464.1 190.4h0M465.8 195.1h0M449 191.1h0M440.4 191.5h0M451.1 187.2h0M436.2 186.5h0M443 191.9h0M445 193.3h0M466.2 193.2h0M455.6 189.5h0M474.2 192.4h0M465.7 188.7h0M439.7 189.5h0M444.7 191.2h0M442.3 191.1h0M457.1 188.6h0M452.4 188.6h0M454 189.7h0M430.1 191.6h0M425.7 191.7h0M469.4 193.9h0M444.6 192.2h0M428.2 189.3h0M442.3 190.5h0M461 190.2h0M431.3 189.4h0M460.1 189.9h0M446.1 187.6h0M448.3 190.9h0M455.8 194.4h0M470.7 192h0M464.2 190.3h0M453.8 184.1h0M462.7 190.8h0M466.3 186.5h0M463.1 193.3h0M448.6 189.4h0M449.5 192.3h0M432.3 189.2h0M450.6 188.7h0M443.2 190h0M440.2 193.4h0M440.5 192.7h0M448.6 191.4h0M465.9 191.5h0M449 192.3h0M474.5 193.2h0M457.5 190.9h0M463.3 189.3h0M451.8 190.3h0M471.7 191h0M451.3 189.1h0M440.8 192h0M441.9 191h0M455.5 192.1h0M474.4 194.3h0M433.3 186.5h0M470.5 191.9h0M448.4 191.9h0M450.2 190.7h0M460.4 196.3h0M464.5 184.3h0M472.7 199h0M461.5 191.1h0M452.7 198.4h0M465.3 191.5h0M465.5 187.6h0M461.4 191.7h0M431.4 191.5h0M458.2 187.2h0M437.2 192.5h0M459.6 190.5h0M449.6 190h0M467.6 191.8h0M478.3 194h0M453.8 192.1h0M427.5 193h0M436.7 193h0M459.1 196.7h0M435.7 188.2h0M460.6 187.6h0M475.1 193.2h0M457.6 193.9h0M470.3 192.4h0M470.1 191.8h0M454.1 189.1h0M430.4 190.3h0M458.7 192.7h0M475.1 192.3h0M427.5 190.9h0M472.6 187.9h0M457.9 192.1h0M449.8 194.2h0M427.9 191.5h0M433.5 196.7h0M476.8 194.4h0M447.9 189.8h0M445.5 192h0M431.5 191.5h0M461.5 188.5h0M477.8 193.2h0M459.5 186.7h0M426.8 190.8h0M453 189.9h0M460.4 192.8h0M436.3 186.4h0M468.6 184.7h0M477 193.7h0M444.6 196.8h0M447.4 193.1h0M436.1 190.7h0M429.7 188.7h0M473.1 189.4h0M438.6 187.8h0M424 191.2h0M463.3 191.8h0M441.2 188.7h0M473.1 188.2h0M310.2 181.7h0M304 173.2h0M304.6 180.1h0M314 181h0M316.6 190.2h0M307.5 184.9h0M308.5 181.5h0M317.4 197.5h0M304 186.2h0M314.4 178h0M308.3 189.2h0M318.3 191.8h0M317.6 187.7h0M315.8 187.8h0M308.7 178.9h0M316.6 174.9h0M306.5 174.1h0M315.7 184.4h0M306.1 184.3h0M308 186.9h0M311.1 174.7h0M318.3 179.3h0M316 176.4h0M304.8 178.1h0M318 187.9h0M308.2 186.2h0M308.5 177.2h0M316.5 187.3h0M312.7 180.2h0M303.6 183.5h0M315.4 191.8h0M305.4 189.2h0M308.4 171.8h0M308.2 184.1h0M313.2 175.9h0M310.9 191.6h0M318 186.9h0M310.2 188.4h0M312.2 177.3h0M313.6 181.5h0M307 180.1h0M313.5 183.4h0M304.8 188.2h0M318.2 188.3h0M308.8 190.3h0M315.4 187.2h0M314 189.1h0M311.5 200.3h0M315.6 194.9h0M305.4 185.2h0M316.1 192.5h0M311.7 182.2h0M317 182.6h0M308 189.4h0M317.6 176.5h0M304.4 176.3h0M315.2 199.1h0M303.8 180.8h0M309.6 185.7h0M307.6 183.8h0M308 179.2h0M309.7 189.6h0M311.6 188.8h0M318.4 172.9h0M304.9 185.6h0M308.6 182.6h0M314.3 178.9h0M312.2 171.9h0M306.6 189.3h0M308.9 172.3h0M318.2 172.8h0M314 193.4h0M313.7 188.2h0M315 190.8h0M313.3 190.8h0M304.6 188.6h0M312.1 175.9h0M303.9 185.7h0M308.2 187.9h0M308.7 178.6h0M315.6 179.1h0M311.1 187.3h0M340.3 173.6h0M342.5 173.4h0M334.1 184.4h0M326.3 182.9h0M335.6 178.1h0M335.6 182.2h0M340.2 179.5h0M337.9 167.7h0M336.1 188.9h0M344 182.1h0M337.2 179.6h0M347.3 186.8h0M347 178.3h0M329 167.8h0M326.2 181.8h0M342.4 171.9h0M343.1 171.6h0M346.5 171.1h0M339.8 163.9h0M345.1 179h0M341.4 182.8h0M330.3 179.3h0M334.2 176.8h0M341.4 174.7h0M342.1 177.8h0M327.1 183.2h0M340.8 180.8h0M334.2 177.3h0M334.7 187.1h0M344.3 182.5h0M333 167.3h0M329.3 179.6h0M340.5 183.3h0M340.7 189.3h0M331.9 167.3h0M338.5 178.4h0M346.3 176.8h0M340.4 165.9h0M344 180.2h0M343.5 180.9h0M337.8 178.6h0M331.2 191.9h0M344.4 179.9h0M345.3 174.2h0M345 173.7h0M327.9 182.1h0M327.1 176.7h0M334 182.7h0M345.9 166.2h0M336.8 183.5h0M337.4 173.9h0M335.2 171.5h0M328 175.5h0M344.1 174.1h0M334.6 174.1h0M342.7 186.4h0M329.2 177.3h0M333.5 168.1h0M337.7 182h0M347.2 188.2h0M329.9 173.3h0M327.8 194.3h0M327.6 163.4h0M338.3 186.6h0M338.6 180.4h0M340.8 175.2h0M344.5 167.2h0M335.4 166.4h0M326.7 172.4h0M327.3 168.3h0M331.5 180.6h0M344.4 180h0M338.9 170.4h0M328.5 204.1h0M346.3 182.2h0M327.7 175.5h0M344.4 170.8h0M335.2 171.9h0M346.1 183.7h0M333.8 182.4h0M329.5 180.3h0M346.9 176.4h0M327.8 171.7h0M341.3 179.6h0M342.1 187h0M326.3 171.7h0M342.4 175.4h0M330.3 183.6h0M347 184.8h0M329.4 177.1h0M336.6 180.2h0M340.5 179.4h0M337.5 191h0M342.8 177.9h0M336.8 182.3h0M328.2 188.6h0M346 178.2h0M338.4 174.1h0M325.5 182.6h0M336 174.2h0M334 174.5h0M330.3 194.1h0M346.8 177.2h0M347.4 165.1h0M329.5 176.9h0M329.2 178.1h0M342.6 167.2h0M343.3 170.6h0M330.7 169.5h0M341.2 173.7h0M325.8 175.9h0M343.6 188.4h0M331.7 191.1h0M334.6 168.6h0M327 168.2h0M339.5 166.5h0M341.1 176.2h0M332.3 180.1h0M330.3 171.2h0M339.7 178.3h0M300.5 173h0M310.5 167h0M331 198.5h0M330 192h0" stroke="#b5b5b5" stroke-width="1.9" stroke-linecap="round" fill="none"/>
<path d="M272 197.2H283.8M279.7 190.8H290M285.3 197.6H288M289 197.6H301.1M299.4 191.4H310.9M313 192.4H326.9M345.2 196.2H360.8M353.5 190.8H356.6M359.3 189.3H366M365 182H369M361.8 196.2H375.4M374.3 193.5H382M362 196.6H368.2M368.2 195.6H375.5M376 193.5H381.8M380.7 198H386M384.5 190H388M387 196.6H428.6M424.4 190.8H477.8" stroke="#8a2be2" stroke-width="2.1" stroke-linecap="butt" fill="none"/>
<path d="M306 176h0M306 179h0M306 182h0M306 184h0M308.8 175h0M308.8 178h0M308.8 181h0M308.8 183.5h0M312 170h0M312 172.5h0M312 175h0M312 177.5h0M312 180h0M312 182h0M311 169h0M313.5 171h0M314.5 173h0M316 175.5h0M317.3 174h0M313.2 174.5h0M315 177h0M325.8 175h0M326.3 181h0M327 184.5h0M328.5 187h0M330 186h0M331.5 179.5h0M330.6 176h0M327.5 174.8h0M329 185.5h0M339 177.9h0M334.5 179.3h0M343.9 167.2h0M331.2 172h0M334.7 165.6h0M333.4 178.2h0M338.3 175.4h0M338.5 167.2h0M345.8 180h0M337.7 180.5h0M341.1 172h0M332.8 180.8h0M331.6 172h0M335.9 176.8h0M336.8 166.4h0M336.9 165.9h0M339.8 180h0M341 180.4h0M339.5 174.1h0M339.6 165.9h0M335.7 172.7h0M339.1 179.4h0M341.6 170.7h0M345.8 174.9h0M366.2 179.5h0M376.1 175.2h0M375.5 186.8h0M381.1 176.4h0M381.8 184.1h0M380.7 187.2h0M421.7 184.7h0M427.1 178.3h0M362.5 188.3h0M364.5 188.3h0M366.5 188.5h0M376.5 180h0M375.8 183.5h0" stroke="#8a2be2" stroke-width="2.3" stroke-linecap="round" fill="none"/>
<rect x="314.8" y="167.2" width="3.2" height="6.4" rx="1.6" fill="#f772b0"/>
<rect x="338.5" y="165.3" width="3.3" height="8.8" rx="1.65" fill="#f772b0"/>
<path d="M268.6 210.1H477.6" stroke="#000" stroke-width="1.6" stroke-linecap="butt" fill="none"/>
<path d="M305.2 228.4h0M305.7 238.3h0M308.8 231.5h0M311.4 231.5h0M314.3 225.3h0M316.1 229.2h0M316.1 233.6h0M315.6 238h0M327.8 237.6h0M337.7 225h0M357.7 222.7h0" stroke="#ff4500" stroke-width="3" stroke-linecap="round" fill="none"/>
<path d="M311.4 226.3h0M430.9 224.2h0" stroke="#a884e8" stroke-width="3" stroke-linecap="round" fill="none"/>
<path d="M311.7 239.8h0M327.8 239.8h0M340.3 225h0M346 223.7h0M457.9 221.4h0" stroke="#000" stroke-width="3" stroke-linecap="round" fill="none"/>
<path d="M427.2 238.3h0" stroke="#1a9ed9" stroke-width="2.8" stroke-linecap="round" fill="none"/>
<path d="M268.6 247.6H477.6" stroke="#000" stroke-width="1.6" stroke-linecap="butt" fill="none"/>
<rect x="268.9" y="252.6" width="5.3" height="10" fill="#e8312f"/>
<rect x="274.1" y="252.6" width="17.6" height="10" fill="#000"/>
<rect x="291.5" y="252.6" width="5.9" height="10" fill="#f2f2f2"/>
<rect x="297.2" y="252.6" width="5.3" height="10" fill="#bfbfbf"/>
<rect x="302.3" y="252.6" width="7.4" height="10" fill="#f2f2f2"/>
<rect x="309.6" y="252.6" width="3.8" height="10" fill="#bfbfbf"/>
<rect x="313.2" y="252.6" width="3.3" height="10" fill="#f2f2f2"/>
<rect x="316.4" y="252.6" width="10.8" height="10" fill="#404040"/>
<rect x="327" y="252.6" width="4.4" height="10" fill="#f2f2f2"/>
<rect x="331.2" y="252.6" width="5.7" height="10" fill="#7f7f7f"/>
<rect x="336.8" y="252.6" width="8.2" height="10" fill="#f2f2f2"/>
<rect x="344.8" y="252.6" width="9.1" height="10" fill="#404040"/>
<rect x="353.8" y="252.6" width="9.9" height="10" fill="#f2f2f2"/>
<rect x="363.5" y="252.6" width="13.8" height="10" fill="#000"/>
<rect x="377.1" y="252.6" width="5" height="10" fill="#f2f2f2"/>
<rect x="382" y="252.6" width="7.8" height="10" fill="#000"/>
<rect x="389.7" y="252.6" width="7.8" height="10" fill="#f2f2f2"/>
<rect x="397.3" y="252.6" width="11.6" height="10" fill="#404040"/>
<rect x="408.8" y="252.6" width="4.8" height="10" fill="#f2f2f2"/>
<rect x="413.5" y="252.6" width="11.2" height="10" fill="#7f7f7f"/>
<rect x="424.5" y="252.6" width="5.9" height="10" fill="#f2f2f2"/>
<rect x="430.3" y="252.6" width="1.4" height="10" fill="#bfbfbf"/>
<rect x="431.5" y="252.6" width="4.4" height="10" fill="#f2f2f2"/>
<rect x="435.8" y="252.6" width="5.5" height="10" fill="#7f7f7f"/>
<rect x="441.1" y="252.6" width="2.9" height="10" fill="#f2f2f2"/>
<rect x="443.9" y="252.6" width="5.7" height="10" fill="#7f7f7f"/>
<rect x="449.4" y="252.6" width="11.2" height="10" fill="#f2f2f2"/>
<rect x="460.4" y="252.6" width="7.4" height="10" fill="#7f7f7f"/>
<rect x="467.7" y="252.6" width="9.8" height="10" fill="#f2f2f2"/>
<rect x="268.9" y="252.6" width="208.4" height="10" fill="none" stroke="#000" stroke-width="1.1"/>
<path d="M277.9 262.7L277.9 267" stroke="#222" stroke-width="1.3"/>
<text x="277.9" y="276.6" font-size="7.8" text-anchor="middle" fill="#4d4d4d">40</text>
<path d="M320.4 262.7L320.4 267" stroke="#222" stroke-width="1.3"/>
<text x="320.4" y="276.6" font-size="7.8" text-anchor="middle" fill="#4d4d4d">60</text>
<path d="M362.9 262.7L362.9 267" stroke="#222" stroke-width="1.3"/>
<text x="362.9" y="276.6" font-size="7.8" text-anchor="middle" fill="#4d4d4d">80</text>
<path d="M405.4 262.7L405.4 267" stroke="#222" stroke-width="1.3"/>
<text x="405.4" y="276.6" font-size="7.8" text-anchor="middle" fill="#4d4d4d">100</text>
<path d="M447.9 262.7L447.9 267" stroke="#222" stroke-width="1.3"/>
<text x="447.9" y="276.6" font-size="7.8" text-anchor="middle" fill="#4d4d4d">120</text>
<text x="373.3" y="291" font-size="11" text-anchor="middle" fill="#000">12q (Mbps)</text>
<text x="310.9" y="153.2" font-size="9.5" text-anchor="middle" fill="#000" font-style="italic">CDK4</text>
<text x="346.5" y="153.2" font-size="9.5" text-anchor="middle" fill="#000" font-style="italic">MDM2</text>
<polygon points="314.1,155.8 318.5,155.8 316.3,163.4" fill="#000"/>
<path d="M316.3 155.8L316.3 163.4" stroke="#000" stroke-width="0.9"/>
<polygon points="338.1,155.8 342.5,155.8 340.3,163.4" fill="#000"/>
<path d="M340.3 155.8L340.3 163.4" stroke="#000" stroke-width="0.9"/>
<rect x="484.8" y="199.4" width="40.8" height="67.2" fill="#fff" stroke="#222" stroke-width="1"/>
<circle cx="490.4" cy="205.6" r="3.3" fill="#1a9ed9"/>
<text x="495.6" y="208.5" font-size="8.2" text-anchor="start" fill="#000">C&gt;A</text>
<circle cx="490.4" cy="216.2" r="3.3" fill="#000"/>
<text x="495.6" y="219.1" font-size="8.2" text-anchor="start" fill="#000">C&gt;G</text>
<circle cx="490.4" cy="226.8" r="3.3" fill="#ff4500"/>
<text x="495.6" y="229.7" font-size="8.2" text-anchor="start" fill="#000">C&gt;T</text>
<circle cx="490.4" cy="237.5" r="3.3" fill="#9b80c8"/>
<text x="495.6" y="240.4" font-size="8.2" text-anchor="start" fill="#000">T&gt;A</text>
<circle cx="490.4" cy="248.1" r="3.3" fill="#c8c828"/>
<text x="495.6" y="251" font-size="8.2" text-anchor="start" fill="#000">T&gt;C</text>
<circle cx="490.4" cy="258.7" r="3.3" fill="#ffa020"/>
<text x="495.6" y="261.6" font-size="8.2" text-anchor="start" fill="#000">CC&gt;TT</text>
<path d="M96.4 386L537.2 386" stroke="#e6e6e6" stroke-width="0.8"/>
<rect x="96.4" y="389.6" width="10.8" height="3.2" fill="#5b5bff"/>
<rect x="97" y="380.6" width="9.7" height="4.7" fill="#4d4d4d"/>
<rect x="107.2" y="389.6" width="10.8" height="3.2" fill="#ffb3b3"/>
<rect x="107.7" y="380.6" width="9.7" height="4.7" fill="#4d4d4d"/>
<rect x="117.9" y="389.6" width="10.8" height="3.2" fill="#5b5bff"/>
<rect x="128.7" y="389.6" width="10.8" height="3.2" fill="#ffb3b3"/>
<rect x="129.2" y="380.6" width="9.7" height="4.7" fill="#4d4d4d"/>
<rect x="139.4" y="389.6" width="10.8" height="3.2" fill="#5b5bff"/>
<rect x="140" y="375.8" width="9.7" height="9.5" fill="#4d4d4d"/>
<rect x="150.2" y="389.6" width="10.8" height="3.2" fill="#ffb3b3"/>
<rect x="160.9" y="389.6" width="10.8" height="3.2" fill="#5b5bff"/>
<rect x="171.7" y="389.6" width="10.8" height="3.2" fill="#ffb3b3"/>
<rect x="182.4" y="389.6" width="10.8" height="3.2" fill="#5b5bff"/>
<rect x="183" y="327.1" width="9.7" height="58.2" fill="#4d4d4d"/>
<rect x="193.2" y="389.6" width="10.8" height="3.2" fill="#ffb3b3"/>
<rect x="203.9" y="389.6" width="10.8" height="3.2" fill="#5b5bff"/>
<rect x="214.7" y="389.6" width="10.8" height="3.2" fill="#ffb3b3"/>
<rect x="215.2" y="370.9" width="9.7" height="14.4" fill="#4d4d4d"/>
<rect x="225.4" y="389.6" width="10.8" height="3.2" fill="#5b5bff"/>
<rect x="236.2" y="389.6" width="10.8" height="3.2" fill="#ffb3b3"/>
<rect x="236.7" y="370.9" width="9.7" height="14.4" fill="#4d4d4d"/>
<rect x="246.9" y="389.6" width="10.8" height="3.2" fill="#5b5bff"/>
<rect x="257.6" y="389.6" width="10.8" height="3.2" fill="#ffb3b3"/>
<rect x="258.2" y="366" width="9.7" height="19.3" fill="#4d4d4d"/>
<rect x="268.4" y="389.6" width="10.8" height="3.2" fill="#5b5bff"/>
<rect x="268.9" y="380.6" width="9.7" height="4.7" fill="#4d4d4d"/>
<rect x="279.1" y="389.6" width="10.8" height="3.2" fill="#ffb3b3"/>
<rect x="289.9" y="389.6" width="10.8" height="3.2" fill="#5b5bff"/>
<rect x="300.6" y="389.6" width="10.8" height="3.2" fill="#ffb3b3"/>
<rect x="311.4" y="389.6" width="10.8" height="3.2" fill="#5b5bff"/>
<rect x="322.1" y="389.6" width="10.8" height="3.2" fill="#ffb3b3"/>
<rect x="322.7" y="327.1" width="9.7" height="58.2" fill="#4d4d4d"/>
<rect x="332.9" y="389.6" width="10.8" height="3.2" fill="#5b5bff"/>
<rect x="333.4" y="380.6" width="9.7" height="4.7" fill="#4d4d4d"/>
<rect x="343.6" y="389.6" width="10.8" height="3.2" fill="#ffb3b3"/>
<rect x="344.2" y="356.3" width="9.7" height="29" fill="#4d4d4d"/>
<rect x="354.4" y="389.6" width="10.8" height="3.2" fill="#ffb3b3"/>
<rect x="354.9" y="380.6" width="9.7" height="4.7" fill="#4d4d4d"/>
<rect x="365.1" y="389.6" width="10.8" height="3.2" fill="#ffb3b3"/>
<rect x="375.9" y="389.6" width="10.8" height="3.2" fill="#ffb3b3"/>
<rect x="376.4" y="375.8" width="9.7" height="9.5" fill="#4d4d4d"/>
<rect x="386.6" y="389.6" width="10.8" height="3.2" fill="#5b5bff"/>
<rect x="397.4" y="389.6" width="10.8" height="3.2" fill="#ffb3b3"/>
<rect x="408.1" y="389.6" width="10.8" height="3.2" fill="#5b5bff"/>
<rect x="418.9" y="389.6" width="10.8" height="3.2" fill="#ffb3b3"/>
<rect x="419.4" y="380.6" width="9.7" height="4.7" fill="#4d4d4d"/>
<rect x="429.6" y="389.6" width="10.8" height="3.2" fill="#5b5bff"/>
<rect x="440.4" y="389.6" width="10.8" height="3.2" fill="#ffb3b3"/>
<rect x="440.9" y="380.6" width="9.7" height="4.7" fill="#4d4d4d"/>
<rect x="451.1" y="389.6" width="10.8" height="3.2" fill="#5b5bff"/>
<rect x="461.9" y="389.6" width="10.8" height="3.2" fill="#ffb3b3"/>
<rect x="462.4" y="370.9" width="9.7" height="14.4" fill="#4d4d4d"/>
<rect x="472.6" y="389.6" width="10.8" height="3.2" fill="#5b5bff"/>
<rect x="483.4" y="389.6" width="10.8" height="3.2" fill="#ffb3b3"/>
<rect x="494.1" y="389.6" width="10.8" height="3.2" fill="#ffb3b3"/>
<rect x="504.9" y="389.6" width="10.8" height="3.2" fill="#ffb3b3"/>
<rect x="505.4" y="346.6" width="9.7" height="38.7" fill="#4d4d4d"/>
<rect x="515.6" y="389.6" width="10.8" height="3.2" fill="#5b5bff"/>
<rect x="526.4" y="389.6" width="10.8" height="3.2" fill="#ffb3b3"/>
<rect x="526.9" y="380.6" width="9.7" height="4.7" fill="#4d4d4d"/>
<rect x="96.4" y="392.7" width="21.6" height="7.9" fill="#999"/>
<text x="107.2" y="399.5" font-size="8" text-anchor="middle" fill="#fff">1</text>
<rect x="117.9" y="392.7" width="21.6" height="7.9" fill="#000"/>
<text x="128.7" y="399.5" font-size="8" text-anchor="middle" fill="#fff">2</text>
<rect x="139.4" y="392.7" width="21.6" height="7.9" fill="#999"/>
<text x="150.2" y="399.5" font-size="8" text-anchor="middle" fill="#fff">3</text>
<rect x="160.9" y="392.7" width="21.6" height="7.9" fill="#000"/>
<text x="171.7" y="399.5" font-size="8" text-anchor="middle" fill="#fff">4</text>
<rect x="182.4" y="392.7" width="21.6" height="7.9" fill="#999"/>
<text x="193.2" y="399.5" font-size="8" text-anchor="middle" fill="#fff">5</text>
<rect x="203.9" y="392.7" width="21.6" height="7.9" fill="#000"/>
<text x="214.7" y="399.5" font-size="8" text-anchor="middle" fill="#fff">6</text>
<rect x="225.4" y="392.7" width="21.6" height="7.9" fill="#999"/>
<text x="236.2" y="399.5" font-size="8" text-anchor="middle" fill="#fff">7</text>
<rect x="246.9" y="392.7" width="21.6" height="7.9" fill="#000"/>
<text x="257.6" y="399.5" font-size="8" text-anchor="middle" fill="#fff">8</text>
<rect x="268.4" y="392.7" width="21.6" height="7.9" fill="#999"/>
<text x="279.1" y="399.5" font-size="8" text-anchor="middle" fill="#fff">9</text>
<rect x="289.9" y="392.7" width="21.6" height="7.9" fill="#000"/>
<text x="300.6" y="399.5" font-size="8" text-anchor="middle" fill="#fff">10</text>
<rect x="311.4" y="392.7" width="21.6" height="7.9" fill="#999"/>
<text x="322.1" y="399.5" font-size="8" text-anchor="middle" fill="#fff">11</text>
<rect x="332.9" y="392.7" width="21.6" height="7.9" fill="#000"/>
<text x="343.6" y="399.5" font-size="8" text-anchor="middle" fill="#fff">12</text>
<rect x="354.4" y="392.7" width="10.9" height="7.9" fill="#999"/>
<text x="359.8" y="399.5" font-size="8" text-anchor="middle" fill="#fff">13</text>
<rect x="365.1" y="392.7" width="10.9" height="7.9" fill="#000"/>
<text x="370.5" y="399.5" font-size="8" text-anchor="middle" fill="#fff">14</text>
<rect x="375.9" y="392.7" width="10.9" height="7.9" fill="#999"/>
<text x="381.3" y="399.5" font-size="8" text-anchor="middle" fill="#fff">15</text>
<rect x="386.6" y="392.7" width="21.6" height="7.9" fill="#000"/>
<text x="397.4" y="399.5" font-size="8" text-anchor="middle" fill="#fff">16</text>
<rect x="408.1" y="392.7" width="21.6" height="7.9" fill="#999"/>
<text x="418.9" y="399.5" font-size="8" text-anchor="middle" fill="#fff">17</text>
<rect x="429.6" y="392.7" width="21.6" height="7.9" fill="#000"/>
<text x="440.4" y="399.5" font-size="8" text-anchor="middle" fill="#fff">18</text>
<rect x="451.1" y="392.7" width="21.6" height="7.9" fill="#999"/>
<text x="461.9" y="399.5" font-size="8" text-anchor="middle" fill="#fff">19</text>
<rect x="472.6" y="392.7" width="21.6" height="7.9" fill="#000"/>
<text x="483.4" y="399.5" font-size="8" text-anchor="middle" fill="#fff">20</text>
<rect x="494.1" y="392.7" width="10.9" height="7.9" fill="#999"/>
<text x="499.5" y="399.5" font-size="8" text-anchor="middle" fill="#fff">21</text>
<rect x="504.9" y="392.7" width="10.9" height="7.9" fill="#000"/>
<text x="510.3" y="399.5" font-size="8" text-anchor="middle" fill="#fff">22</text>
<rect x="515.6" y="392.7" width="21.6" height="7.9" fill="#999"/>
<text x="526.4" y="399.5" font-size="8" text-anchor="middle" fill="#fff">X</text>
<path d="M91.8 324.4L91.8 387.5" stroke="#333" stroke-width="1.3"/>
<path d="M86.8 331.4L91.8 331.4" stroke="#333" stroke-width="1.3"/>
<text x="82.5" y="334.6" font-size="8.8" text-anchor="end" fill="#4d4d4d">30</text>
<path d="M86.8 349.4L91.8 349.4" stroke="#333" stroke-width="1.3"/>
<text x="82.5" y="352.6" font-size="8.8" text-anchor="end" fill="#4d4d4d">20</text>
<path d="M86.8 367.5L91.8 367.5" stroke="#333" stroke-width="1.3"/>
<text x="82.5" y="370.7" font-size="8.8" text-anchor="end" fill="#4d4d4d">10</text>
<path d="M86.8 385.5L91.8 385.5" stroke="#333" stroke-width="1.3"/>
<text x="82.5" y="388.7" font-size="8.8" text-anchor="end" fill="#4d4d4d">0</text>
<text transform="translate(53.6 355.8) rotate(-90)" font-size="12" text-anchor="middle" fill="#000">Cases with</text>
<text transform="translate(65.6 355.8) rotate(-90)" font-size="12" text-anchor="middle" fill="#000">hailstorm (%)</text>
<path d="M41.4 441L41.4 667.6" stroke="#333" stroke-width="1.3"/>
<path d="M40.8 667L178.7 667" stroke="#333" stroke-width="1.3"/>
<path d="M36.3 451L41.4 451" stroke="#333" stroke-width="1.3"/>
<text x="32.6" y="454.2" font-size="8.8" text-anchor="end" fill="#4d4d4d">100</text>
<path d="M36.3 502.4L41.4 502.4" stroke="#333" stroke-width="1.3"/>
<text x="32.6" y="505.6" font-size="8.8" text-anchor="end" fill="#4d4d4d">75</text>
<path d="M36.3 553.8L41.4 553.8" stroke="#333" stroke-width="1.3"/>
<text x="32.6" y="557" font-size="8.8" text-anchor="end" fill="#4d4d4d">50</text>
<path d="M36.3 605.2L41.4 605.2" stroke="#333" stroke-width="1.3"/>
<text x="32.6" y="608.4" font-size="8.8" text-anchor="end" fill="#4d4d4d">25</text>
<path d="M36.3 656.6L41.4 656.6" stroke="#333" stroke-width="1.3"/>
<text x="32.6" y="659.8" font-size="8.8" text-anchor="end" fill="#4d4d4d">0</text>
<rect x="50.6" y="467" width="56.3" height="189.6" fill="#4d4d4d"/>
<rect x="113.3" y="640.6" width="56.3" height="16" fill="#4d4d4d"/>
<path d="M78.7 667L78.7 672" stroke="#333" stroke-width="1.3"/>
<path d="M141.4 667L141.4 672" stroke="#333" stroke-width="1.3"/>
<text x="78.7" y="681" font-size="10" text-anchor="middle" fill="#4d4d4d">Trunk</text>
<text x="141.4" y="681" font-size="10" text-anchor="middle" fill="#4d4d4d">Branch</text>
<text transform="translate(17.4 553.8) rotate(-90)" font-size="11" text-anchor="middle" fill="#000">Hailstorms (%)</text>
<path d="M253.6 488.8V516.2M254.6 486.8V517.8M255.6 487.4V517.7M256.6 496V514M257.6 485V515.5M258.3 494.1V509.3M259.3 497.5V510.5M260.3 496.9V513.5M261.3 501.2V510.3M262.3 499.1V516.5M263.3 495.2V509.7M264.3 494.9V509.5M265.3 496.4V509.4M266.3 501.3V516.1M267.3 499.6V510.2M268.3 493.4V516.2M269.3 499V517M270.3 497V514.4M271.3 499.7V516.8M272.3 495.8V517M273.3 494.2V511M274.3 498.4V509.8M361.5 502.3V515.2M362.5 500.6V517.3M363.5 503.9V517.6M364.5 500.2V516.1M365.5 494.9V516.8M366.5 500.4V516.8M367.5 496.1V515.1M368.5 493.2V515M369.5 495.7V518.3M370.5 503.7V518.1M371.5 499.9V517.2M372.5 503.8V515.1M373.5 501.9V518.3M374.5 501.7V517.9M375.5 493.7V518.3M376.5 500.1V516.3M377.5 498.1V518M516.6 508.3V516.4M517.6 504.1V517.1M518.6 508.7V517.6M519.6 508.4V513.9M520.6 505.2V517.4M521.6 506.9V517.4M522.6 505.6V513.8M523.6 507V513M524.6 508.4V512.8M525.6 504.8V517.9M526.6 507.9V512.2M527.6 503V515.1M528.6 506.5V513.3M529.6 505.3V516.9M530.6 506.2V514.4M531.6 508.6V517.4M532.6 508.7V514.9M533.6 503.9V512.7M534.6 504.5V517.6M535.6 505.1V516.6M536.6 508.3V514.5M537.6 508V517M542.6 501.7V516.2M543.6 493.9V518.2M544.6 494.2V516.2M545.6 499.5V517.5M546.6 499.6V515.4M547.6 500.5V514.6M548.6 500.8V518.3M549.6 494.3V517M550.6 499.4V515.6M551.6 503.9V515.3M552.6 496.3V518.2M553.6 500.9V517.8M554.6 496.4V517.4M555.6 497.6V517.7M556.6 500.9V517.4M557.6 501.8V516.3M558.6 496.4V517.4M559.6 501.7V518.3M560.6 497.8V516.8M561.6 504.8V516.6M562.6 502.1V517.3M563.6 499.8V518M564.6 497.8V517.9M565.6 501.1V517.1M566.6 496.8V518M567.6 501V518.1M568.6 495.3V517.3M569.6 494.2V518.3M570.6 499.2V516.5M571.6 503.1V518.1M572.6 494.6V516.3M573.6 497.3V517.5M574.6 496.9V514.8" stroke="#b5b5b5" stroke-width="1.4" stroke-linecap="round" fill="none"/>
<path d="M404 505.1V512.5M405.7 505.7V511.8M407.4 506V513.4M409.1 505.9V513.2M410.8 509.1V510.6M412.5 506.9V512.9M414.2 508.1V513M415.9 505.9V510M417.6 506.7V510.9M419.3 508.9V510.4M421 507.5V510.7M422.7 508.2V510M424.4 506.8V511.6M426.1 506V512.6M427.8 508V514M429.5 509.2V511.7M431.2 507.8V511.7M432.9 508.6V513.7M434.6 507.3V510M436.3 506V510.2M438 506.4V511.4M439.7 506.2V514.3M441.4 504.9V511.8M443.1 505V512.8M444.8 507.3V510.5M446.5 506.1V512.5M448.2 504.2V514.3M449.9 506V511.5M451.6 504.6V509.8M453.3 508.6V512.5M455 506V510.5M456.7 505.9V514M458.4 507.2V511.8M460.1 508V511.2M461.8 504.1V511.6M463.5 504.2V514.1M465.2 506.1V511M466.9 504.1V512.1M468.6 507V511.3M470.3 504.1V512.1M472 507.7V512M473.7 508.6V512.7M475.4 506.9V511.2M477.1 505.1V513.7M478.8 509.1V512.3M480.5 507.8V514.2M482.2 505.1V511M483.9 507.8V510.5M485.6 504.1V511.2M487.3 506V512M489 505.8V512.6M490.7 505.3V510.4M492.4 505.2V511.2M494.1 506.4V511.4M495.8 507.7V512.3M497.5 506.8V511.5M499.2 505.3V512.6M500.9 509V511M502.6 506.8V514.1" stroke="#b5b5b5" stroke-width="1.4" stroke-linecap="round" fill="none"/>
<path d="M271.3 492.3h0M253.8 499.9h0M256.5 506.9h0M266.8 511.5h0M274.4 498.3h0M261.2 501.5h0M267.8 502.8h0M259.6 515.7h0M258.4 510.7h0M261.7 510.6h0M254.5 503.5h0M262.6 507.6h0M264.8 503.7h0M269.4 512.5h0M266.6 501.3h0M267.1 504.7h0M264.9 505.8h0M262.9 500.9h0M266.1 505.3h0M270.6 515.4h0M269.6 503h0M255.4 505.6h0M261 492.4h0M268.5 499h0M270.1 497.1h0M258.5 512.3h0M253.7 495h0M259 502.8h0M265.2 500.7h0M254.8 498.3h0M261.3 502.3h0M257.6 504h0M254.5 488h0M271.3 504.7h0M262.5 497.8h0M271.3 496.6h0M260.3 493.2h0M269.9 500.4h0M255 506.2h0M254.6 494.8h0M268.5 499.7h0M270.6 506h0M254.7 510.8h0M269.4 503.8h0M261 506.7h0M261.2 500.7h0M273.8 498.6h0M273.7 505.6h0M260.1 500.7h0M274.2 504.3h0M261.2 508.6h0M261.9 506.3h0M271.1 509.8h0M272 507.7h0M273 515.4h0M253.3 498.7h0M274.9 502.7h0M271.2 489.8h0M254.7 499.2h0M269.7 509.8h0M256.1 507.5h0M267.7 505.8h0M264.7 511.8h0M261.8 510.9h0M264.1 503h0M269.3 508.3h0M271.7 501.9h0M272.3 509h0M274.7 496.1h0M264.8 505.8h0M262.4 495.4h0M269.8 502.4h0M257.5 506.2h0M259.5 507.9h0M255.4 505.7h0M270.6 511.5h0M266.2 506.2h0M253.6 505.5h0M258.2 507.2h0M266.4 505.9h0M256.8 507.7h0M259.9 506.4h0M258.8 499.6h0M273.7 493.5h0M263.9 497.4h0M253.9 505.7h0M264.9 500.1h0M259.1 502.5h0M253 501.5h0M261.3 502.9h0M256.4 492.7h0M276.2 492.8h0M279.8 483.2h0M275.6 491.7h0M272.5 493.5h0M282.2 490.3h0M280.7 489.3h0M278 492.9h0M282.4 485.5h0M281.6 488.9h0M282 484.5h0M278.7 491.9h0M276.1 494.3h0M273.4 480.2h0M276.6 488.7h0M273.7 475.8h0M282 490h0M272.6 486.4h0M279 484h0M272.6 488.1h0M279.6 481h0M276.8 486h0M277 491.1h0M275.4 485.4h0M283.4 483.2h0M280.8 488.1h0M274.1 483.1h0M280.3 489.1h0M282.1 491.3h0M273.5 488.5h0M277.2 489.6h0M283.1 480.7h0M281.3 486.7h0M276.9 486.5h0M277.1 487.6h0M283.8 483.9h0M272.7 482h0M276.4 490.6h0M278.4 489.9h0M282 491.4h0M282.9 493.6h0M276.6 491.7h0M283.8 492.7h0M280.7 490.7h0M279.7 504.4h0M282.8 475.5h0M282.9 487.3h0M282 487.2h0M283.7 475.4h0M285.1 477.4h0M284.8 484.7h0M282.7 484.5h0M282.5 480.1h0M283.7 473.2h0M281.6 496.6h0M284.1 477.8h0M284.2 474.3h0M293.9 499.1h0M285.7 495.6h0M290.7 498h0M290 485.3h0M291.7 488.8h0M292.1 502.3h0M289.3 491.3h0M291.4 493.2h0M289.6 485.3h0M294.3 488.8h0M290.6 495.4h0M290.1 483.9h0M287.3 499h0M292.8 492.1h0M293.2 486.8h0M291 498h0M289.8 496.3h0M283.7 489.5h0M287.1 492.3h0M286.2 509.5h0M292 486.6h0M288.7 494.1h0M290.7 500.1h0M284.3 496.8h0M295.8 498.8h0M286.3 490.5h0M295.1 494.2h0M288.4 491.6h0M283.4 492.1h0M287.2 504.1h0M289.4 482.9h0M287 495.2h0M294.3 491h0M289.4 510.9h0M285.7 482.7h0M285.6 494.8h0M292.8 493.5h0M295.2 492.2h0M292.4 490.4h0M289 492.9h0M292.6 498.6h0M285.4 484.6h0M288 486h0M294.9 493.3h0M295.5 496.6h0M286.7 503.6h0M288.9 499.7h0M290.2 486.5h0M286.4 490.6h0M284.2 492h0M286.8 489.4h0M285.5 494h0M297.2 509.8h0M296.6 507.1h0M298 509.9h0M296.4 511h0M297.6 504.6h0M299.1 512.6h0M299.9 507.4h0M298.4 496.1h0M299.9 512.7h0M295.4 511h0M298.4 501.7h0M294.9 501.7h0M293.5 505.4h0M295.6 511.8h0M294 504.8h0M300 504.7h0M294.6 513.7h0M298.6 510.9h0M295.6 517h0M294.8 516.7h0M294.7 513.8h0M293.9 503h0M296.4 511.2h0M297.5 509.7h0M301.6 496.2h0M293.7 512.6h0M300.8 503.6h0M296.9 513.1h0M293.7 510.5h0M295.3 495.9h0M305.2 490.9h0M304.2 512.4h0M307.4 514.3h0M305.7 510.9h0M304.1 513.9h0M306.9 505.4h0M304.3 504.1h0M303.4 515.2h0M303.3 511.5h0M303.4 512.5h0M303.9 516.7h0M306.8 508.4h0M304.3 506.2h0M303.7 501.8h0M303.2 494.7h0M304.2 515.9h0M306.3 508.3h0M305.2 481.2h0M299.6 489.6h0M301.2 484.1h0M301.7 484.3h0M299.3 482.9h0M301.1 485h0M302.7 482.9h0M303.9 482.2h0M300 482.2h0M301.8 492.6h0M304.9 482.7h0M300.5 491.7h0M299.2 478.1h0M305.6 478.7h0M303.6 487h0M303.5 492.3h0M304.9 482.3h0M301.9 484.2h0M299.4 483.1h0M300.9 492.9h0M301.7 488.9h0M300.6 494.9h0M301.3 489.1h0M303.8 490.4h0M312.1 480.1h0M305.5 489.7h0M305.4 482.7h0M308.2 481.4h0M305 491.5h0M307.5 483.3h0M306.7 478.6h0M308.6 479.6h0M314.6 482.6h0M309.1 482.5h0M307.7 490.2h0M314.3 480.6h0M306.2 485.5h0M315 493.1h0M306.8 483.5h0M304.8 484h0M308.9 474.4h0M310.5 487.3h0M310.6 491h0M308.4 486.2h0M308.1 484.7h0M314.8 480.5h0M306.5 481.2h0M308.6 486.6h0M312.6 487.3h0M308.2 492h0M310.1 488.8h0M305.9 487.7h0M306 487.7h0M306.5 481.9h0M313.8 485.8h0M313.1 492.4h0M312.2 484.5h0M308.3 483.1h0M313.6 482.7h0M312.2 485.1h0M313.4 490.1h0M311.8 491.5h0M315.7 476.6h0M317 476.4h0M312.4 480.7h0M313.6 480.6h0M317.3 477.8h0M314.9 480.6h0M314 482.4h0M313.6 471.5h0M315.3 484.1h0M315.7 479.2h0M316.3 480.4h0M317 482.1h0M314.6 478h0M315 480.1h0M315.4 480h0M314 487.8h0M312.4 484.1h0M315.2 471.9h0M317 479.9h0M317 485.8h0M318.4 482.5h0M317.8 479.2h0M316 486.7h0M318.1 481h0M315.3 477h0M316.4 475.2h0M314.8 485.1h0M318.4 475.8h0M316.6 480.8h0M319.7 484.2h0M319.5 478.3h0M317.8 478.2h0M318.2 487.9h0M316.7 482.9h0M319.5 488h0M315.3 484.9h0M318.7 482h0M318.3 487.6h0M316.6 486.6h0M314.8 481.8h0M317.6 487.4h0M315.9 481.9h0M315.4 491.9h0M317 486h0M318.5 492.1h0M316.2 488.9h0M315.8 483.8h0M332.4 484.6h0M330.2 484h0M330 494.7h0M329.3 485.8h0M326.7 489h0M330.3 486.2h0M328.5 481.4h0M329.3 483.6h0M330.1 485.8h0M332.1 483.8h0M329 490.5h0M330.8 486.9h0M328.6 500.4h0M329.2 507.2h0M331.5 498.6h0M331.2 487.6h0M332.5 498.4h0M327.6 485.6h0M329 492.8h0M327.8 488.6h0M326.5 492h0M327.6 485.7h0M331.6 481.5h0M335.5 478.2h0M332.2 490.7h0M336 485.5h0M330.3 471.6h0M334.1 490.1h0M329.9 486.2h0M336.1 490.6h0M330.9 483.8h0M332 484.8h0M334.2 473.7h0M330.8 476.1h0M334.7 486h0M336.6 486.1h0M332.1 495.8h0M335 484.3h0M331.8 488.4h0M332.6 489.6h0M332.5 473.8h0M332 484.1h0M331.2 482.5h0M331.6 493.4h0M334.5 488.6h0M335 482.7h0M332.8 477.8h0M332.8 486.3h0M331.6 482.9h0M332.5 478.2h0M336.2 477.1h0M338.5 478.8h0M337.2 484.6h0M334.4 482.4h0M336 474.8h0M338.9 473.2h0M334 472.6h0M336.5 477.6h0M337.7 488.9h0M339.5 474.5h0M338.5 472.1h0M336.1 479.5h0M335.1 490.1h0M334.7 476.7h0M334.8 474.9h0M337.4 476.6h0M338 485h0M334.6 485.7h0M339.2 477.7h0M292.8 500.4h0M334.3 496.6h0M297.7 501.5h0M269.3 498.5h0M308.4 509.7h0M261.3 490.1h0M261 510.4h0M314 479.7h0M339.4 516.6h0M310.5 502.6h0M266.9 478.6h0M299.5 480.4h0M269.7 487.7h0M255.6 496.6h0M291.8 511.7h0M298.7 503.6h0M297 504.5h0M293.2 489.1h0M340.8 517.8h0M326.9 506.3h0M280.7 487.2h0M278.4 480.8h0M320.4 494h0M327.5 493.5h0M337.3 511.9h0M253 486.4h0M333.1 496.8h0M339.3 493.9h0M259.4 503.2h0M321.5 488.8h0M260.7 491.3h0M337.8 508.3h0M263.4 487.9h0M261.9 480.4h0M323.1 485.1h0M302.2 495.9h0M269.8 507.3h0M264.5 503.7h0M263.3 494.8h0M271.7 488.8h0M338.4 510.1h0M279.8 513.4h0M271.5 493.8h0M328.2 503.7h0M261.8 517.6h0M254.1 492.8h0M256.9 495.2h0M254.5 486.5h0M253.5 503.8h0M254.2 504.4h0M254.9 499.4h0M257.8 500.4h0M255.9 513.5h0M253.9 489.2h0M257.5 511.8h0M254.2 490.5h0M256.7 516h0M254 516.3h0M257.4 504.5h0M255.1 487.5h0M253.2 516.7h0M254.2 508h0M254.3 512h0M256 494h0M253.9 508.5h0M253.3 491.8h0M255.8 513h0M256.1 493.5h0M257.6 490.9h0M253.1 493.2h0M255.2 486.1h0M253.9 496.5h0M255.9 488.5h0M254.8 514.3h0M257.9 506.3h0M256.5 503.9h0M253.7 485.2h0M253.1 514.9h0M256.5 516.7h0M253.1 505.6h0M255.4 508.8h0M254.6 518h0M253.4 502.6h0M256.7 514.6h0M256.7 507.9h0M271.5 508.1h0M269.6 500.5h0M273.3 507.6h0M271.4 498.8h0M272.7 495.8h0M264.5 499.6h0M267.9 501.4h0M268.9 501.7h0M274.9 510.4h0M264.6 496.7h0M270.5 497.7h0M272.3 500.2h0M259.4 503.3h0M268.2 501.8h0M266.2 504.5h0M266.5 512.5h0M268.4 507.3h0M258.2 501.1h0M263.1 501.5h0M260.9 499.7h0M273.4 499.8h0M273.2 497.8h0M263.6 501.3h0M265.3 499.9h0M271.7 513.9h0M264.5 497h0M267.9 502h0M266.4 506.3h0M272.2 508.8h0M274.2 495.6h0M262.7 506.5h0M262.7 509h0M261.6 496.1h0M266.4 507.6h0M263.4 512.3h0M265.7 488.9h0M259.3 515.2h0M258.7 505.7h0M270 498.6h0M271.5 501.1h0M258.3 507.6h0M258.4 508.3h0M272.1 503.6h0M258.8 506.6h0M268.7 495.3h0M269.1 506.1h0M271.7 512.1h0M261.4 500.9h0M266.1 503.7h0M266 504.1h0M270.1 505.4h0M263.9 507.6h0M269.9 495.1h0M270.9 502.2h0M264.7 506.7h0M259.5 490.7h0M273.9 502.8h0M265.7 500.2h0M268.6 508.2h0M267.7 500.2h0M335.2 491.5h0M318.5 472.1h0M326.1 489.9h0M332.7 497h0M325.7 486.1h0M336 482.6h0M339.2 495h0M331.6 485.9h0M312.8 497.8h0M313.9 480.1h0M303.3 479.3h0M330.7 490h0M319.5 498.6h0M302.6 489.1h0M332 489.7h0M331.5 492.2h0M305.6 491.7h0M328.9 493.3h0M333.6 481.2h0M319.7 472.4h0M338 490.9h0M321.1 489.4h0M311.6 485.8h0M320.9 477.8h0M333.7 481.8h0M315.2 484.9h0M333.8 490.6h0M334 484.4h0M338.7 478.6h0M308 485.7h0M321.4 478.1h0M301.1 486.8h0M338.8 480.5h0M332 486.3h0M322.5 477.1h0M302.6 487.6h0M321.5 473h0M336.9 495.4h0M310.8 483.7h0M317.3 487.6h0M332.6 493h0M312.7 482.7h0M307.7 476.1h0M305.2 477h0M331.2 491.2h0M309.1 487.6h0M327.5 484.3h0M324.8 492.5h0M304.2 486.6h0M320.4 483.7h0M310 489.6h0M317.5 494.6h0M315 480.2h0M306.4 491.1h0M308.2 480.7h0M321.2 480.2h0M334.1 477.2h0M309.3 478.7h0M329.6 492.2h0M312.6 474h0M312.6 491h0M339.9 484.9h0M335.5 490.2h0M329.1 490.6h0M310.4 497.1h0M316.9 494h0M331.6 491.6h0M327.4 491.7h0M300.7 490h0M336.5 496.4h0M338.7 492.8h0M330.3 492.1h0M320.1 485.3h0M302.8 483.1h0M304.2 495h0M320.6 488.9h0M322.7 489.5h0M308.2 490.3h0M333.6 501.8h0M303.8 486.1h0M302.5 493.9h0M330.6 484.8h0M313.1 479.3h0M317.2 488.6h0M324 497.1h0M333.8 487.8h0M307.3 476.8h0M316.2 490h0M307.8 491h0M300.6 493.7h0M295.5 499h0M295.1 487.1h0M291.8 489.3h0M290.1 500.6h0M296.8 497.6h0M295.8 491.6h0M293.4 497.9h0M288.7 485.2h0M295.6 502.7h0M293.7 489.7h0M293.7 488h0M284 501.4h0M287.8 495.1h0M288 496.2h0M291.9 492.9h0M296.2 492.9h0M292.3 491.4h0M291 503.5h0M290.5 476.3h0M292 512.4h0M292.8 497.2h0M283.3 479.3h0M291.6 495.7h0M288.6 491.4h0M283.7 498h0M284.4 501.5h0M286.5 502.3h0M290.1 491.8h0M296.5 478.2h0M291.9 487.9h0" stroke="#b5b5b5" stroke-width="2.2" stroke-linecap="round" fill="none"/>
<path d="M253.3 504.3H275.2M273 487.2H283.5M282 478.7H285M283.5 492.8H296M293.9 509.9H301.2M302.8 509.9H307M299.5 485.6H305.3M305.3 487H314.7M312.6 479.7H316.8M315.3 477.2H318.8M315.3 485.1H319.5M326.5 490.8H332M329.9 484.5H336.5M334.4 476.8H339" stroke="#8a2be2" stroke-width="2.1" stroke-linecap="butt" fill="none"/>
<path d="M254 484.5h0M280.5 476.6h0M321.5 498.5h0" stroke="#8a2be2" stroke-width="2.5" stroke-linecap="round" fill="none"/>
<rect x="253.6" y="474" width="3.7" height="10.6" rx="1.9" fill="#f772b0"/>
<rect x="318.3" y="476.2" width="3.4" height="9.4" rx="1.7" fill="#f772b0"/>
<rect x="323.5" y="481.4" width="3.4" height="16.6" rx="1.7" fill="#f772b0"/>
<path d="M360.1 484.9h0M357 485h0M359.2 477.4h0M358.1 483.9h0M358 481h0M358.5 474.1h0M356.1 481.3h0M356.3 482.9h0M360.2 485.9h0M357.6 482.7h0M356.5 484.3h0M356.7 474.4h0M356 482.9h0M361 500h0M358 489.2h0M358.5 481h0M358.8 489.2h0M361.1 484.9h0M360.1 490.9h0M362.1 485.4h0M361.1 484.5h0M361.3 492.9h0M358 491.9h0M357.3 480.1h0M358.5 494h0M361.2 483.5h0M358.3 486.6h0M357.3 492.1h0M368.2 505.2h0M366 515h0M372.9 505.5h0M365.6 509.3h0M366.1 510.4h0M369.4 510.2h0M376.6 504.7h0M361.1 512.3h0M374.9 505.8h0M374.3 510.1h0M375 515.6h0M372.9 505.4h0M370.4 501.7h0M376.2 506.6h0M374.3 501.9h0M361.6 504.2h0M367.5 512.9h0M363.3 514.9h0M369.6 506.6h0M374 510.5h0M362.2 506.3h0M373.9 517.9h0M361.3 507.7h0M362.9 503h0M365.6 513h0M368.1 512.5h0M377.1 506.1h0M364.8 497.8h0M371.7 511.5h0M378.7 511.8h0M364.5 510.1h0M375.9 509.4h0M374.9 513.2h0M373.7 507.4h0M374.2 506.3h0M370.2 509.7h0M366.6 517.1h0M378.1 517.6h0M376.1 506h0M371 507.2h0M375.9 493.8h0M361.8 500.4h0M378.6 510.6h0M372.9 508.4h0M372.3 501.7h0M377 511.5h0M364.4 505.2h0M373 510.2h0M367.9 509.3h0M364.8 498.3h0M377.2 513.4h0M361.1 504.2h0M371.8 505.3h0M366.8 507.5h0M373 508.6h0M372.8 514h0M375.4 499.2h0M379.7 483.2h0M382.9 488.6h0M379 497.2h0M383.9 487.3h0M382.8 497.8h0M383.2 492.5h0M376.2 484.5h0M379.2 511.9h0M381.6 489.1h0M377.1 497h0M379.4 486.2h0M377.6 503.3h0M377.9 486.4h0M378.4 501.9h0M380.2 488.9h0M378.9 491.2h0M382.5 491h0M382.9 487h0M376.5 491.6h0M383.9 484.2h0M377.3 488.4h0M377.2 488.5h0M380.1 499.6h0M376.7 492.3h0M378.2 488.3h0M383.9 486.6h0M386.7 488.6h0M383.6 474.3h0M382.8 482.6h0M386.9 481.5h0M385.8 488.8h0M382.7 480.9h0M386.2 479.8h0M385.7 480.4h0M384.9 479.8h0M385.8 478.8h0M383.9 476.7h0M384.9 475.9h0M384.9 487.7h0M385.3 502.3h0M383.6 492.3h0M384.3 482.7h0M387.9 484h0M384.6 492.4h0M385.8 493.1h0M385.3 488.9h0M386 505h0M383.7 493.2h0M386.8 489.4h0M386.7 491.7h0M387.2 502.4h0M392.3 504.3h0M388.6 505.3h0M388.5 509h0M388.5 494.6h0M390.6 509.2h0M389.7 491.1h0M387.9 508.6h0M387.8 505.8h0M389.9 505.3h0M391 504.6h0M387.5 502.7h0M388 511.6h0M388.9 511.3h0M386.9 511.1h0M388.8 498.2h0M387.3 508.6h0M386.1 502.7h0M386.7 501.7h0M386.9 502.5h0M391.9 499.3h0M397.7 506.3h0M391.9 513.1h0M390.9 514h0M396.7 500h0M398 510.6h0M397.8 507.4h0M397.4 511.2h0M399.4 494.3h0M399.2 513.7h0M398.5 509.1h0M391.3 516.1h0M399.1 513.5h0M391.3 514.5h0M391.4 513h0M398.2 503.2h0M394.6 511.4h0M394.3 498.8h0M394.7 511.3h0M394.4 511.1h0M398 513.7h0M392.1 501.4h0M398.1 506h0M391.1 499.9h0M394.5 515.5h0M393 505.2h0M395.6 512.7h0M392.5 506.6h0M399.2 482.6h0M399.1 478.9h0M400.7 487.1h0M400.9 476.9h0M401 480.3h0M403.6 489.9h0M401.4 477.8h0M403.4 479.1h0M399.8 475.2h0M399.7 478.7h0M400 480.2h0M405.3 485h0M404.7 472.4h0M403.2 474.4h0M401.2 477.7h0M403.4 479.4h0M403.9 487.3h0M402 481.5h0M402.7 476.3h0M403.6 477.3h0M402.8 485.9h0M493 512.9h0M432.9 504.6h0M421.3 508.9h0M411.8 507.5h0M422.8 513.8h0M456.2 501.7h0M466.5 504.7h0M465.2 496.6h0M425 511h0M462.5 505.3h0M481 501.8h0M440.9 508.8h0M422 502.4h0M502.7 515.8h0M442.2 508.2h0M405 508.3h0M482.5 503.4h0M478.4 505.7h0M470.8 505.3h0M412.4 508.1h0M501.5 504.9h0M420.1 507.8h0M493.2 512.2h0M475.4 481.6h0M412.2 507.9h0M403.8 513.6h0M467.8 506.8h0M419.8 501h0M414.8 512.8h0M451 511.1h0M436 503.6h0M463.9 493.1h0M407.9 506.8h0M452.6 511.6h0M447.5 512.3h0M464.1 501.9h0M483.8 506h0M427.2 505.6h0M429 508.3h0M447.4 509.2h0M447.6 504.7h0M458.7 506.9h0M486.1 513.4h0M453.4 510h0M405.2 511.1h0M435.1 509.6h0M501.3 513.2h0M495.4 504.7h0M427.5 507.3h0M496.8 509.8h0M423.5 510.7h0M462.7 502.5h0M427.7 496.3h0M426.2 509.3h0M462.6 513.6h0M504.1 509.4h0M413.6 514.4h0M411.7 510.7h0M480.9 512.8h0M418.1 515.8h0M448.3 509.3h0M474.4 510.3h0M482.2 502.6h0M416.2 511.8h0M432 514.8h0M447.1 514.1h0M481.1 507.8h0M443.7 498.7h0M472.9 501h0M456.4 503.5h0M403.9 514.4h0M455.1 507.8h0M444.1 502.4h0M463.7 507.6h0M482.6 505.2h0M413.8 509.4h0M499.2 513.3h0M478 505.7h0M425.6 505.6h0M405.7 513.7h0M404.5 508.5h0M470.3 508.8h0M426.8 507.8h0M480.9 494.2h0M464.3 509.1h0M421.9 512.2h0M463.6 514.6h0M467.6 506.7h0M488.5 505.8h0M492.4 513.1h0M473.1 502.7h0M428.3 505.3h0M465.2 506.6h0M464.7 509.8h0M473.8 513.3h0M435.5 505h0M467.3 511h0M481 507.7h0M448.6 497.6h0M469.2 511.7h0M459.6 505.4h0M440.1 506.9h0M499.6 517.5h0M494.7 510.4h0M405.1 506h0M486.6 507h0M421.3 513.1h0M453.4 512h0M432.5 511.7h0M409.1 512.2h0M462.6 500.2h0M476.4 514.6h0M491.7 505.8h0M463.9 515h0M472 516.9h0M424 507.8h0M466.8 506.2h0M450.9 508.4h0M438.9 511.5h0M415.2 513.4h0M456.4 501.6h0M464.8 515.1h0M432.2 504.5h0M427.9 516.6h0M472.4 508h0M442.2 506.9h0M437.1 511.9h0M412.7 513.4h0M439 498.5h0M492.3 514.8h0M488.4 513.7h0M463.3 505h0M440.1 509.1h0M479.6 507.8h0M446 513h0M418.2 504.2h0M427 499.9h0M434.6 507.6h0M457.4 512.2h0M498.5 502.4h0M453.4 515.8h0M471.5 513.3h0M434 510.1h0M432.3 518.1h0M480 510.1h0M412.7 511.7h0M452.9 510.6h0M482.7 505.2h0M406 508.9h0M442.7 513.3h0M457.9 513.8h0M458.3 501.4h0M464.1 512.5h0M448.1 515.2h0M451.7 517.3h0M482.4 508.4h0M403.4 516.2h0M406.9 513.6h0M498.5 505.6h0M472.2 498.4h0M444.6 511.9h0M438 510.9h0M446.6 514.5h0M408.8 507.5h0M451.5 506.9h0M465 511h0M442.5 497.8h0M479.7 502.3h0M459.6 510.2h0M490.4 508.8h0M470 507.8h0M465.5 504.9h0M421.3 507.9h0M483.7 515.5h0M487.3 511h0M421.5 511.7h0M449.8 517.2h0M430.2 509.6h0M468.6 510.6h0M428.7 505.1h0M497.1 511.8h0M450.4 509.3h0M410.3 505.6h0M479 515h0M421 514.5h0M466.2 513.3h0M477.4 512h0M407.1 513.3h0M426.5 499.5h0M488 508.6h0M479.3 503.3h0M420.7 510.7h0M419.5 509.2h0M501.5 513.6h0M460.5 507.8h0M487.4 503h0M454.1 504.7h0M467.8 510.7h0M462.7 508.2h0M406.1 501.2h0M459.7 501.7h0M480.1 504.2h0M425.1 501.1h0M439.9 505.8h0M408.8 508.2h0M479.6 509.9h0M431.7 507.9h0M433.3 509.7h0M448.9 509.8h0M406.1 505h0M410.3 506.1h0M456.2 509.9h0M452.1 512.1h0M462.5 508.5h0M429.4 515.6h0M423.9 508.8h0M457 501.5h0M503.1 507.3h0M466.7 513.4h0M421.1 503.9h0M496.5 505.9h0M457.1 508.9h0M414.4 510.8h0M433.4 516.3h0M481.7 509h0M501.3 497.1h0M405.7 510.6h0M437.5 511.1h0M412 510.4h0M498.6 507.6h0M481.9 509.1h0M482.5 507h0M417.7 506.5h0M447 510.9h0M480.1 507.8h0M413.7 510.6h0M462.4 515.4h0M438.7 505.9h0M464.1 505.4h0M410.9 503.2h0M449.6 505.5h0M417.2 509.3h0M457.7 502.5h0M474.4 505h0M488.4 511.2h0M466.8 514.4h0M495.6 505.9h0M449.4 510.4h0M422.1 497.6h0M417.7 505.2h0M491.2 510.7h0M489.8 504.5h0M465.6 515.2h0M459.2 508.7h0M409 511.4h0M411.9 511.9h0M501.1 508.9h0M403.8 507h0M410 513.8h0M405 506.3h0M496.8 509.9h0M453.8 504.9h0M482 515.5h0M478.2 511.7h0M414.7 513.7h0M428.7 511.7h0M495.3 503.8h0M473.4 505.8h0M463.4 500.1h0M458.9 513h0M422.5 508.1h0M434.8 509.3h0M424.4 509.3h0M443.3 507.4h0M473.1 509.9h0M412.5 504.8h0M454.4 505.4h0M503.4 501.9h0M470.8 512.8h0M504.3 509.9h0M486.1 512.7h0M426.1 515h0M462.7 504.9h0M496.8 515h0M465.4 508.7h0M433 516.1h0M502.1 500.6h0M466.7 516.5h0M431.6 505h0M420.7 502.1h0M418.3 505.5h0M472.6 513.4h0M502.5 513.3h0M481.6 510.9h0M437.9 511h0M411.5 508.9h0M499.7 511.8h0M483.1 514.1h0M470 511.8h0M412.4 506h0M420.4 512.2h0M468.6 502.8h0M416.1 502h0M440.2 504.4h0M495.8 505.9h0M417.1 514.5h0M425.9 512.4h0M439.2 511.7h0M430.4 508h0M409 509h0M466.1 504.6h0M456.9 506.8h0M458.4 514.3h0M497.1 507.7h0M477.9 512h0M424.7 495.1h0M447.6 513.6h0M451 509.3h0M476.6 516.7h0M449.2 506.7h0M423.3 513.5h0M407.3 508.1h0M487.7 512.3h0M493.1 511.1h0M454.7 513.1h0M487.7 510.6h0M437.3 509.6h0M403.8 515.9h0M424.5 516.1h0M420.9 513.2h0M425.5 514.1h0M503.9 509.1h0M502.2 505.3h0M467.6 518.1h0M452.5 511.2h0M504.3 510.1h0M424.3 511.6h0M470.3 495.9h0M498.1 509.8h0M452.7 503.9h0M496.3 502.6h0M420.9 514.9h0M435.7 508.1h0M501.3 509.7h0M451.7 507.4h0M357.1 492h0M379.6 499.3h0M360.9 509.6h0M369.3 498.3h0M361.5 500.7h0M361.7 481.5h0M378.5 489.8h0M390.2 487.9h0M374.2 480.2h0M365.6 496.1h0M380.6 496.4h0M393.4 482.2h0M393.4 484.2h0M398.7 499h0M373.9 502.5h0M394 516.6h0M374.2 478.4h0M362.8 510.7h0M388.3 506.5h0M362.9 499.2h0M357.3 482.4h0M369.2 516.6h0M384.3 511.9h0M358 494.6h0M359.4 488.4h0M363.3 513.2h0M369.6 506.5h0M372.3 519h0M370.9 500.2h0M369.8 513.4h0M366.4 505.8h0M373.7 508.6h0M368.6 514.2h0M369.4 505.2h0M368.9 513.4h0M362.3 509.9h0M370.2 507.2h0M370.5 505.7h0M363.1 511.2h0M367.6 506.4h0M365.3 514.7h0M373.9 508.2h0M368.2 509h0M377.4 516.3h0M377.4 509.2h0M367.5 504.6h0M366.5 505.9h0M371.6 504.9h0M369.7 506.4h0M370 508.9h0M363 507.1h0M365.7 507.7h0M368.5 518.6h0M375.7 505.2h0M372.7 511.5h0M362.9 519.2h0M366.9 507.9h0M366.7 513h0M372.1 500.1h0M362.4 509h0M371.8 507.2h0M370.6 515.9h0M361.9 505.4h0M376.9 509h0M361.6 501.7h0M373.7 501.7h0M377.7 513h0M376.6 517.4h0M368.8 513.3h0M373.9 504.6h0M368.7 513.1h0M363.4 505.1h0M362.7 517h0M363.4 513h0M370.5 501.9h0M363.4 512.4h0M377.2 512.1h0M370.7 512.2h0M368.3 507.1h0M370.3 510.4h0M375.9 506.5h0M369.3 514.6h0M367.7 510h0M372.6 514.7h0M372.9 506.1h0M367.9 509.4h0M373.7 506.3h0M364.2 505.7h0M367.2 507h0M364.2 504.6h0M370.1 514.9h0M367.9 499.5h0M367.4 504.1h0M371.1 493.6h0M366.9 510.8h0M473.4 509.1h0M476.7 505.6h0M461.2 509.4h0M486.1 507.7h0M441.6 508.4h0M465.5 504.3h0M459.7 498.7h0M449.4 507.8h0M452.4 508.5h0M414.2 501.2h0M434.5 508.7h0M473.5 508.4h0M460.5 505.2h0M419.1 508.1h0M498.6 508.7h0M413.7 500.5h0M482 508.8h0M457.2 506.2h0M464.7 503.3h0M462 503.6h0M493.5 502.7h0M440.2 506h0M498.6 508.7h0M489.3 505.4h0M476.3 509.2h0M406 505.7h0M457.5 509.4h0M429.2 505.3h0M417.1 505.5h0M432.4 509.1h0M431.6 499.3h0M419.9 508.9h0M489.5 505.3h0M458.1 504.1h0M477 502.3h0M495.5 507.9h0M481.1 509.4h0M497.2 507.8h0M440.1 508.7h0M449.1 506h0M440.9 507.9h0M454.3 497.6h0M460.3 507.4h0M498.5 506.5h0M415 502.7h0M411.1 506.8h0M493.7 504.3h0M415.9 505.6h0M502.4 505.8h0M410.1 500.1h0M470.3 508.4h0M460.8 509h0M501.8 505.6h0M482.1 500.5h0M455.9 504.1h0M422.4 506.6h0M456.4 505.9h0M423.7 504.8h0M474.2 504.5h0M411.8 506.6h0M452.5 497h0M459.9 504.8h0M417.4 508.1h0M473.9 505.2h0M497.4 497.4h0M496.1 507.7h0M489.4 508.6h0M452.7 509.1h0M462.8 506.8h0M465 503.2h0M377.8 493.4h0M370.3 517.4h0M361.6 494.1h0M376.6 517.3h0M361.4 491.9h0M375.9 509.9h0M370.4 507h0M374.6 513.2h0M361 492.9h0M375.3 517.8h0M376 502.2h0M367 500.5h0M361.3 512.2h0M365.7 507.1h0M370.5 500.2h0M373.1 503.5h0M365.2 515.3h0M364.2 495.1h0M365.6 504.2h0M375.1 500.2h0M365.3 509h0M365.7 505.4h0M365.6 515.1h0M364.3 497.4h0M366.4 500.1h0M374.1 509.5h0M375.2 505.9h0M362.4 512h0M365.4 497h0M368.5 518.2h0M367.7 500.8h0M377.4 518.2h0M368 494.7h0M375.2 512.5h0M367.1 512.7h0M367.8 498.9h0M371.7 511.4h0M369.6 513.5h0M361.2 504.7h0M367.8 492.8h0M377.5 494.9h0M364.7 515.1h0M378.3 516.6h0M367.2 516.6h0M363.6 510.6h0M378 496.3h0M363.4 509.7h0M376.9 511h0M378.1 503.5h0M367.7 494.3h0M365.9 516.8h0M362.3 496.1h0M367.3 492.4h0M366.5 496h0M363.2 505.5h0M370.7 506.6h0M374.7 505.5h0M378 493.2h0M365 493.1h0M366.6 511.9h0M377.6 504.9h0M363.9 500.1h0M371.2 499.1h0M375.3 517.7h0M369.3 507.6h0M376.2 503.8h0M364.4 517h0M378.6 491.7h0M374.7 502h0M361.9 495.5h0M364.1 511.3h0M364.8 491.5h0M365 513h0M370 509h0M369.4 496h0M361.3 499.4h0M361.7 498.2h0M372.1 501.2h0M369.5 508.2h0M366.7 500.8h0M376.9 507h0M368.5 505.9h0M369.3 500.1h0M377.4 497.4h0M377.8 514.5h0M376.9 495.5h0M370.2 518.1h0M366.2 495.7h0M374 497.5h0M371.5 495.3h0M378.1 498.8h0M362.7 509.9h0M367.2 506.4h0M370 516.4h0M370.3 501.4h0M361 504.7h0M365.8 506.8h0M372.4 503.7h0M362.6 504.7h0M369.7 508.6h0M378.5 498.7h0M369 493.3h0M375.4 497.4h0M375.9 512.9h0M365.6 515.8h0M370.1 502.7h0M371 517h0M369.8 504.3h0M366.2 514.1h0M370.1 500.4h0M358.4 484.9h0M362.8 503.7h0M363.9 507.3h0M361.8 503.5h0M362 503.9h0M362.6 483.6h0M362.7 487.7h0M358.7 507.4h0M357.2 494.4h0M359.4 503.3h0M361.3 507.2h0M363.5 498.6h0M357.5 499.4h0M357.8 509.4h0M363.1 487.9h0M358.3 500.2h0M362.3 509.5h0M361.4 482h0M362.1 479.9h0M363.1 502.6h0M362.5 506h0M361 508.2h0M361.5 493.7h0M359.7 489.3h0M357.2 483.2h0M362.6 485.3h0M361.6 502.8h0M361.9 494.5h0M359.2 486.7h0M358.3 498.7h0M361.8 508.2h0M359.3 507.7h0M363.4 487.3h0M363.7 497.8h0M363.7 502.8h0M359.3 486.9h0M360.7 493.6h0M357.2 505.6h0M360.7 493.1h0M362.2 486h0M358.4 496.6h0M358.7 488.5h0M357.5 479.7h0M359.5 494.9h0M363.6 498.5h0M359.9 491h0M358.6 493.2h0M363.7 481.9h0M360 499.9h0M362.3 495.8h0M387.5 513.8h0M392.2 489h0M385.7 515.9h0M385.5 486.8h0M389.8 482.1h0M378.7 499.8h0M380.9 505.9h0M389.1 491.5h0M389.8 503.3h0M388.7 496.4h0M383.8 483.8h0M384.5 514.4h0M392 482h0M377.3 489.7h0M388.5 495.8h0M378.3 495.3h0M386.3 506.8h0M383.3 503.4h0M388.3 502.2h0M376.8 505.6h0M378.3 482h0M384.5 480.6h0M377.3 494.1h0M384.4 483.8h0M393.2 510.7h0M384.8 501.2h0M381.7 515.4h0M378.2 490.9h0M380 511.2h0M385.2 494.8h0M383.2 511.9h0M380.6 508.5h0M388.7 496.1h0M382.6 495.7h0M384.2 491.4h0M387.2 494.8h0M381.5 507.8h0M384.2 497h0M391.8 496.4h0M382.8 512.3h0M393.6 508.3h0M383.2 504.2h0M389.3 490.7h0M389 514.2h0M387.8 504.1h0M383.8 503.5h0M380.1 507.7h0M385.7 515.3h0M382.2 505.6h0M376.3 495h0M389.8 489.3h0M387 488h0M383.2 515.8h0M379.5 512.9h0M377.1 501h0M390.8 510.1h0M383 501.3h0M388.8 507.4h0M389.4 500.8h0M380.5 505.4h0M386.1 499.6h0M393.8 484.9h0M390.1 491.7h0M389.1 514.2h0M380.9 500.4h0M385.5 497.8h0M379 502.5h0M392.1 503.9h0M381.2 509h0M383.6 485.2h0M408.3 493.6h0M408.6 479.8h0M405.5 498.9h0M407.9 486.7h0M411.5 488.7h0M410.8 488.8h0M410.9 501.3h0M408.3 498.7h0M409.6 498.3h0M409.9 489.8h0M411 483.3h0M411.4 481.5h0M410 506h0M411.3 506.9h0M410.9 501.6h0M406.8 494.8h0M409.8 484.9h0M409.6 483.7h0M414.8 492.7h0M417 501.4h0M415 498.1h0M413 502h0M410.6 495.8h0M415.3 494.9h0M415.4 504.2h0M413.9 494.6h0M417 501.3h0M418.2 498.9h0M410.6 487.5h0M415.6 493.3h0M414.9 492.5h0M415.6 504.3h0M417 504.1h0M411.3 500.8h0M414.4 508.4h0M417.2 492.8h0M428.5 494.3h0M426.5 493.2h0M425.5 499.6h0M425.3 481.9h0M421.8 507.7h0M422.7 506.6h0M428.1 504.6h0M425.4 501.9h0M423.5 500.5h0M422.3 496.4h0M424.4 499.5h0M427.5 499.4h0M425 502.2h0M426.7 509h0M424 502h0M427.5 506.3h0M426.3 495.2h0M423.1 500.8h0M433.5 495.8h0M428.8 495h0M430.2 500.4h0M428.8 500.9h0M428.8 497.9h0M430.9 497.8h0M432 504.6h0M426.9 509h0M430.8 492h0M431.5 495.9h0M430.7 490.4h0M432.3 491.1h0M429.8 493.1h0M428.2 499.5h0M429 490.1h0M432.5 487.7h0M434.3 507.9h0M429.1 504.1h0M447.5 494.1h0M444.5 500.2h0M446.6 479.8h0M443.2 507.2h0M445.3 505.1h0M445 497.8h0M444.4 492.6h0M444.3 481.3h0M441.9 491.7h0M446.3 492h0M446 482.5h0M447 489.3h0M445.5 493.2h0M447.1 499.4h0M442.5 509h0M443.7 502.9h0M444.2 507.3h0M443.8 486.6h0M449.5 499.4h0M456.3 507.7h0M451 494.8h0M450.8 496.5h0M452 508.9h0M451.3 495.1h0M452.9 509h0M453 506.6h0M447 503.7h0M452.8 504.8h0M452.6 498.1h0M450.9 498.4h0M452.5 499.4h0M451.8 502.6h0M452.7 496.6h0M450.6 506.2h0M446.7 505.2h0M452.2 504.5h0M465.6 507.9h0M461.5 505h0M463.1 489.2h0M464.6 492.7h0M466 494.4h0M462.6 500.3h0M462.5 508.1h0M460.7 497.7h0M461.2 508.3h0M464.6 508.8h0M464.9 501.6h0M462.8 505.9h0M459.3 505.2h0M460.6 497.5h0M459.6 495.9h0M463 503.8h0M464.2 507.6h0M466 488.7h0M471.3 502h0M470.3 496h0M467.6 497.3h0M467.7 497.9h0M473.5 507.1h0M471.2 506.9h0M470.5 495.5h0M470.1 503.4h0M470.5 496h0M470.3 499.9h0M470.5 507.7h0M469.7 504.9h0M470.4 506.3h0M470.9 499.3h0M470.6 500.9h0M471.1 503.5h0M471.5 501.4h0M472.1 503.3h0M474.9 491h0M475.6 503.7h0M475.4 482.9h0M475.7 491.9h0M473.6 481.3h0M477.1 505.5h0M473.2 498.3h0M477.6 488.3h0M476 501h0M475.2 500.7h0M475.5 488.5h0M472 481.8h0M476.3 483.9h0M477.3 486.5h0M479.7 487.3h0M479.1 483.5h0M473.7 480.7h0M477.6 482.6h0M482.3 479.5h0M484 484.3h0M483.2 505.2h0M481.8 497.4h0M485 486.1h0M485.6 507.6h0M484.9 499.8h0M484.8 491.3h0M486.8 483.8h0M488 479.9h0M485.8 488.7h0M487.9 503.8h0M486.8 492.8h0M484.9 499.3h0M486.1 509.4h0M486 499.7h0M485 490.4h0M492.1 507.5h0M492.7 499.9h0M491.6 495h0M495.9 501.1h0M489.3 503.1h0M491.6 494.7h0M494 500.2h0M492.5 493.8h0M491.9 490.2h0M493.8 506.3h0M495.6 508.8h0M491.9 494.9h0M493.7 498.1h0M490.6 508.3h0M488.3 507.5h0M495.2 493h0M493.5 495.8h0M489.2 502.1h0M491.8 507.2h0M499.7 503.5h0M499.6 508.7h0M500.4 495.7h0M500.6 506.2h0M497 500.5h0M497.7 506.4h0M498.5 486.5h0M497.2 495.1h0M496.5 491.9h0M498 484.2h0M499.2 493h0M503.4 497.3h0M502.3 502.7h0M500.2 493.9h0M497.6 508h0M499.9 506.1h0M497.6 483.7h0M498.1 488.9h0M419.5 502.4h0M422.1 498.2h0M416.5 502.7h0M422.8 503.9h0M418.1 495.5h0M420.2 508.9h0M419.3 500h0M420.5 507.4h0M421.2 501.1h0M421.7 498.8h0M418.4 504.3h0M420.6 497.1h0M420.1 497.1h0M420.3 502.7h0M420.7 497h0M420.8 499h0M422.8 506.5h0M421.2 503.3h0M437.5 494.5h0M437.6 504.1h0M440.2 507.8h0M440.7 508.9h0M436.7 495.1h0M436.2 496.8h0M438.2 499.8h0M438.6 502h0M436.6 506.2h0M442.2 499.2h0M442.1 494.3h0M440 499.6h0M436.6 495h0M440.9 496.8h0M440.3 507.3h0M438.6 500.8h0M441.8 505.5h0M436.8 500.7h0M457.5 499.1h0M459.1 498.9h0M456.9 499.7h0M459.8 499.3h0M457 508.2h0M458.2 507.1h0M459.1 500.5h0M455.9 504.4h0M457.2 495.9h0M458.9 501h0M460.2 501.1h0M460.3 500.9h0M458.3 497.2h0M455.3 495.9h0M455.6 504.3h0M459.6 503.8h0M456.1 504.6h0M460.2 504.6h0M483 500h0M478.1 497.7h0M478.8 506h0M482.9 505.1h0M483.9 496.6h0M483.1 505.3h0M480.3 507.5h0M481.7 500.6h0M481.7 505.9h0M480.5 498.9h0M481.6 504.6h0M485.1 502.9h0M481.5 503.6h0M482.6 505.6h0M480.9 500.6h0M480.5 498.3h0M480.4 507.8h0M482.2 508.4h0M482.8 514.9h0M405.5 513.6h0M463.6 512.4h0M407.5 513.3h0M439.2 518.3h0M439.8 517.8h0M490.4 514.7h0M416.5 516.8h0M413 514.5h0M413.7 510.3h0M444.9 510.9h0M502.7 514.7h0M493.3 518.1h0M479.4 515.3h0M451.1 516.5h0M470.6 510.9h0M456.7 513.2h0M455.3 515.9h0M472.6 514.6h0M482.5 516.9h0M413.2 510.8h0M408.7 510.9h0M499.4 512.3h0M447.7 513.7h0M460.2 512h0M481.5 512.5h0M488.1 516.7h0M404.1 514.4h0M413.3 517.5h0M410.9 511.9h0M480.5 514.8h0M470.4 513.2h0M455.8 511.3h0M450 511.8h0M471.2 510.5h0M417.7 511.3h0M457 514.7h0M404.3 518.4h0M487.1 512.9h0M419.8 516.9h0M501.2 511.1h0M479.2 516.9h0M497.3 511.4h0M416 511h0M427 517.6h0" stroke="#b5b5b5" stroke-width="2.2" stroke-linecap="round" fill="none"/>
<path d="M356.4 482H360M357.5 488.3H361.6M361.2 509.9H378.3M376.6 492.8H383.5M382.9 480.8H386.6M384.1 492.2H387.6M386.6 505.7H392.4M391.2 509.9H399M399.5 480.8H405.3M403.7 509.5H504" stroke="#8a2be2" stroke-width="2.1" stroke-linecap="butt" fill="none"/>
<path d="M361.2 476.2h0M361 483h0M362.5 483.5h0M358.5 508h0M367.9 489.7h0M387.2 484.5h0M391.8 485.6h0" stroke="#8a2be2" stroke-width="2.5" stroke-linecap="round" fill="none"/>
<rect x="381.8" y="471" width="3.5" height="9.4" rx="1.8" fill="#f772b0"/>
<rect x="397.6" y="470" width="3.5" height="10.4" rx="1.8" fill="#f772b0"/>
<path d="M518.8 512.5h0M534.3 508.5h0M533.6 503.6h0M531.9 504.9h0M530.8 509.3h0M519.2 517.7h0M518.4 511.8h0M537.7 513.7h0M527 508.6h0M529.7 512.2h0M519.8 508.3h0M522.3 503.4h0M522 507.7h0M519.2 508.9h0M522.1 510.8h0M517.4 511.7h0M527.8 502.8h0M520.7 514.9h0M515.9 507.3h0M537.9 508.6h0M518.7 516.6h0M534.5 511.1h0M516.3 515.4h0M521.8 502.3h0M534 509.8h0M523.1 508.1h0M520.5 513.2h0M523.7 505h0M532.8 507.9h0M525.9 511.9h0M526.2 503.9h0M526.2 512.1h0M529.9 513.5h0M538.1 505.5h0M521.9 504.2h0M535.1 503.9h0M521.4 504.8h0M519.9 504.1h0M521.8 498.5h0M525.2 508.4h0M531.1 517h0M519.7 507.1h0M530.6 509.5h0M537.4 508.6h0M527.5 508.5h0M522 505.2h0M522 499.4h0M538 508.8h0M536.9 506.7h0M527.2 507.5h0M520.5 510.3h0M518.3 498.9h0M527.7 506.4h0M523 509.2h0M538.1 508.7h0M522.5 514.9h0M522.9 507.9h0M516.7 512.5h0M522.5 516.8h0M528.1 493.8h0M534.5 513.6h0M534.5 510.3h0M519.8 510.6h0M531.4 512.7h0M531.6 513.7h0M530.7 510.3h0M518.4 509.4h0M536 508.9h0M524.2 503.8h0M517.1 508.2h0M519.1 510.9h0M530.2 503.5h0M534.4 509.4h0M538.2 509.8h0M516.8 514.8h0M520.5 508.5h0M519.4 507.8h0M535.5 512.8h0M537.7 507.5h0M526.2 507.4h0M522.9 511.4h0M533 517.9h0M517.5 515h0M521.2 499.2h0M531.1 492.8h0M527.5 493.1h0M529.1 494.1h0M528.6 496.3h0M530.3 493.6h0M527.5 501.2h0M530.8 497.7h0M528.3 482.9h0M530.6 486.5h0M531.8 490.9h0M531.9 483.7h0M531.1 497.1h0M530.6 486.1h0M530.6 494.2h0M529.2 493.6h0M528.9 496.5h0M527.4 495.6h0M538.9 497h0M535.6 493.4h0M538.8 507h0M535.1 483.8h0M539 490.9h0M535.7 484.4h0M535.8 490.3h0M536 486h0M536.3 486.8h0M535.4 484.7h0M535.7 491.2h0M535.2 492.9h0M537.3 490.3h0M538.3 488.8h0M546.3 508.3h0M549.3 511.7h0M542.7 511.2h0M551.8 507.4h0M551.3 508.2h0M546.2 509.6h0M542.5 514.9h0M556.1 509.2h0M545.9 504.7h0M549.7 508.9h0M547.8 508.8h0M549.2 517.6h0M555.6 505.1h0M546.4 513.1h0M542.8 512.9h0M553.3 513.3h0M552.6 517.8h0M548.7 499.2h0M556.1 511.8h0M550.1 517.1h0M548 504.8h0M546.7 506.7h0M549.9 504.5h0M541.9 507.4h0M554.4 498.3h0M556.2 503.8h0M544.9 500h0M545.2 513.2h0M556.3 507.3h0M542.5 517.1h0M553.9 509.8h0M548 502.2h0M542 500.4h0M552.5 501.9h0M544.6 513.6h0M550.2 502.4h0M544.1 506.3h0M556.4 514.7h0M545.3 513h0M546.4 508.6h0M542.7 503.9h0M545.4 508.8h0M549.3 505.8h0M556.1 503.7h0M543.5 512.1h0M545.8 509.4h0M544.2 513.6h0M549.6 502.6h0M553.4 514.3h0M544.9 512.2h0M557 504.8h0M552 515.2h0M547.9 511.2h0M555.6 509.3h0M556 509.3h0M545.2 509.1h0M546.9 515.6h0M565.2 507.8h0M559.4 507.7h0M561.8 509.1h0M558.8 518h0M563.1 513.1h0M563.5 502.1h0M562.2 513.7h0M566.6 512.1h0M569.5 514.4h0M556.5 515.1h0M568.2 508.5h0M565.1 507.7h0M567 498.7h0M562.4 513.7h0M568.6 511.2h0M566.1 517.4h0M564.8 500.9h0M562.5 505.1h0M567 506h0M561.9 506.2h0M567.2 500.1h0M559.3 509.5h0M562.9 509.4h0M562.5 499.9h0M560.9 511.7h0M559.6 504.2h0M558 507.3h0M566 509.1h0M569.4 511.7h0M567 506.6h0M569.5 505.5h0M555.9 506.5h0M562.5 505.8h0M566.7 516.5h0M560.5 514.9h0M565.6 501.4h0M557.6 505.4h0M565.5 515.5h0M567.3 504.6h0M558.3 512.3h0M569.1 515.7h0M565.2 503.6h0M559.8 507.8h0M557.6 508.4h0M558.7 507.6h0M559.2 515h0M556.9 509.5h0M557.3 509.6h0M556.4 514h0M560.7 509.7h0M568 512.9h0M562.7 507.7h0M571.8 513h0M567.9 507.4h0M573.5 512.3h0M572.7 507.4h0M572.3 499.8h0M572.3 513.2h0M568.1 505.1h0M571.8 505.5h0M575 512.4h0M574 503.2h0M575 513h0M573.4 506.9h0M570.1 508.9h0M575.7 509.8h0M574.3 512.9h0M570.3 503.5h0M572.9 503.3h0M572.6 512.9h0M569.1 501.2h0M575.7 513.4h0M569.1 502h0M575.1 505.6h0M568.5 510.4h0M570.6 507.3h0M574.4 504h0M575.8 513.5h0M570.6 512.6h0M525.4 506.2h0M524.3 507.9h0M528.2 509.6h0M537.8 501.7h0M521.6 509.9h0M536.1 506.6h0M528 503.1h0M535.4 496.9h0M518.9 495h0M523.8 496.3h0M533.4 508h0M524.5 499.7h0M522.9 504.3h0M536.8 497.1h0M517.5 498.6h0M520.8 504.6h0M516.5 499h0M531.7 501.3h0M523.3 496.3h0M518.1 504.4h0M531.9 507.5h0M537 501.3h0M529.9 506h0M525 506.4h0M522.4 496.5h0M537.8 509.8h0M536 496.8h0M532.1 492.5h0M532.2 503h0M526.8 505.5h0M518.3 503.6h0M521.4 505.4h0M517.8 502.8h0M536.9 508.2h0M530 505.7h0M517.1 507.9h0M531.1 502.8h0M527.1 503.8h0M525 507.7h0M521.1 508.4h0M568.4 506.7h0M556.8 502.5h0M552.5 509.7h0M560.8 505.9h0M565.9 501.8h0M554.4 497.8h0M562.9 503.6h0M560.9 505.2h0M562.6 507.5h0M560.3 509.3h0M570.7 509.1h0M562.9 503.8h0M550.4 507.1h0M563 507.8h0M571.2 508.3h0M571 498h0M570.1 508.9h0M574.2 501.1h0M573.2 501.9h0M554 500.1h0M545.9 506.8h0M563.2 504.2h0M564 496.3h0M543 495.5h0M549.6 502.9h0M572.2 504.8h0M558 508.2h0M554.3 504.4h0M568.6 506h0M562.2 495.9h0M564 501.5h0M574.5 508.4h0M555 503.7h0M561.9 476h0M565.3 497.4h0M555.5 508.6h0M551.8 508.2h0M565.2 503.7h0M545.8 502h0M574.7 502.7h0M568 502.7h0M549.6 497h0M559.3 499.1h0M544 508.7h0M546.7 503.9h0M558.2 504.2h0M550 505.9h0M573.4 507.8h0M574.5 505.7h0M549.5 507.4h0M571.1 504.8h0M563.8 509.4h0M573.9 494.4h0M553.2 502.1h0M566.5 492.1h0M574.1 502.4h0M567.4 506.7h0M556.5 496.3h0M561.3 499.3h0M543.8 504.9h0M557.3 500.2h0M558.4 499.7h0M572.9 509.6h0M565.4 503.5h0M570.8 488.8h0M556.8 509h0M570.1 502h0M552.7 509.3h0M550 501.1h0M563.8 496.5h0M572.1 504.3h0M555.8 505h0M568.4 507.9h0M570.9 482.4h0M560 508.8h0M559.6 493.3h0M564.7 499.6h0M548 496.4h0M544 505.5h0M549.1 493.9h0M570.2 509.7h0M548 504.5h0M564.1 506.1h0M572.1 506.2h0M549.9 499h0M546.9 491.1h0M565.4 490.9h0M557.2 503.8h0M556.2 508.1h0M553.2 492.6h0M572.2 491.5h0M543.6 505.8h0M566.2 502.4h0M561.9 507.4h0M556.2 494.1h0M558.8 503h0M568.7 504.7h0M550.4 508.7h0M569.1 508h0M555.1 509.6h0M555.4 499.8h0M550.7 495.3h0M566.7 500.3h0M564.1 497.9h0M545.2 500.6h0M557.7 508.1h0M560.8 506.6h0M559.6 501.4h0M569.5 507.4h0M547.4 504.6h0M551.7 501.4h0M571.1 507.2h0M573.9 507.2h0M566.8 501.7h0M559.1 499.8h0M563.4 506.8h0M564.9 506h0M561.2 505.8h0M556.7 503.3h0M549.6 495.8h0M554.8 509h0M558.7 486.9h0M557.4 494.6h0M570.5 506.4h0M559.1 503.8h0M545.7 503.7h0M555.8 500.1h0M574.3 506.8h0M560 507h0M564.8 505h0M559.5 501h0M556.1 504.3h0M564.7 507.5h0M558.9 508.3h0M551 501.2h0M567.3 504.9h0M573.9 509.3h0M559.2 497.4h0M546.6 509.2h0M555.1 504h0M561.7 508.2h0M560.5 492h0M574.1 499.9h0M553.3 508.5h0M561.4 502.7h0M573.1 500.3h0M557.1 499.6h0M560.7 499h0M551.6 504.2h0M545.4 506.9h0M560.2 494.9h0M569.1 500.5h0M562.5 502.5h0M548.3 509.4h0M557.2 504.2h0M574.4 500h0M568.6 498.3h0M556.4 506.7h0M572 507.1h0M571.9 505h0M564.7 500.4h0M556.5 498.4h0M565.2 497.2h0M572.5 509.5h0M571.5 501.1h0M565.9 508.8h0M564.3 501h0M551.9 503.9h0M563.7 506.1h0M551.1 503.3h0M552 493.5h0M563.5 502.7h0M563.7 509.2h0M556.7 501h0M563.8 505.9h0M572.5 495.4h0M571.2 491.5h0M550.2 501.9h0M547.2 503.7h0M548.7 504.3h0M562.5 499h0M559.4 507.4h0M562.7 507.4h0M565.6 495.7h0M569.5 497.3h0M546.6 507.5h0M545.6 496.9h0M550.5 505.9h0M573.7 507.3h0M558 499.8h0M574.1 506h0M563.3 504.3h0M554.6 507.3h0M572.3 505.9h0M557.2 504h0M572.9 506.7h0M546.4 508.8h0M560 506.8h0M553.4 500.7h0M569.8 507h0M543.9 507.6h0M554.8 483.6h0M544.2 509.4h0M559.9 501.4h0M555.2 506.5h0M558 500.3h0M548.9 498.2h0M561.4 508.6h0M566.7 503.9h0M573.2 508.1h0M546.8 512.5h0M556.3 513.4h0M549.7 517.3h0M552.7 514.6h0M562.5 511h0M556.8 511h0M560.4 516.2h0M570.3 518h0M546.6 513.8h0M564.3 513.1h0M573.2 514.2h0M570.8 510.5h0M555.4 515.9h0M569.8 514.2h0M570.5 516.4h0M556.2 516h0M559.5 510.9h0M571.8 517.2h0M571.5 511.9h0M567.9 510.2h0M559 512.5h0M559.2 513.2h0M560.6 513.6h0M567.3 515.6h0M551.9 511.6h0M550.6 512.7h0M556.6 514.2h0M567.5 518.3h0M551.4 512.4h0M559.6 510h0M563.3 510.2h0M562 514.9h0M555.3 518.4h0M553 510h0M546.4 512h0M566.6 516.3h0M554.3 517.5h0M548.2 511.9h0M561.3 514.5h0M568.3 512.6h0M572.1 505h0M566 503.9h0M552.1 503.7h0M573.3 493.3h0M555.6 498.9h0M553.4 507.7h0M564.8 495.6h0M566.4 509.7h0M547.9 493.4h0M563.4 509.7h0M562 502.6h0M557.8 503.8h0M572.5 504.4h0M567.6 501.8h0M571.6 507.6h0M560.8 498.7h0M554.7 511.6h0M564.6 494.4h0M561.1 501.1h0M563.4 498.4h0M572.2 502.2h0M570 497.9h0M571.7 503.4h0M561.8 501.3h0M573.3 503.7h0M561.5 499.9h0M559.3 498.1h0M558.9 498h0M548.2 499.9h0M546.8 505.6h0M548.8 510.2h0M555.2 498.2h0M561.9 498.5h0M567 498.8h0M572.7 493.8h0M547.6 509.8h0M566 498h0M564.6 499.8h0M560.7 498.2h0M561.7 505.3h0M570.5 497.9h0M562.5 503.8h0M571.3 502.1h0M571.1 510.6h0M557.8 500.7h0M574.1 504h0M561.4 507.8h0M563.5 502.8h0M565.1 498h0M557 493.2h0M566.9 508.7h0M567.3 511.5h0M567.9 495h0M555.3 510.5h0M549.1 509.7h0M569.1 495.8h0M552.1 506.9h0M564.9 493.6h0M561.4 496.6h0M570.9 503.2h0M546.4 500.5h0M546.3 510.2h0M571.7 506.6h0M546.1 510.8h0M553.7 505.4h0M568.1 503.6h0M549.4 497.7h0M567.2 495.4h0M556.9 510.7h0M557.9 495.9h0M564.9 499.6h0M568.9 499.9h0M570 508.7h0M551.2 503.4h0M558.9 495.3h0M572.5 499.5h0M563.7 494.1h0M573.6 511.6h0M565.8 495.5h0M565.2 501.9h0M559.7 497.1h0M550.4 509.1h0M563.5 507.2h0M567.4 500.6h0M561.9 498.8h0M565 501.2h0M568.7 498.5h0M557.1 494.6h0M547.1 497.1h0M546.5 501.1h0M557 509.8h0M547.2 511.7h0M548.8 508.8h0M556.4 497.7h0M563.7 499.8h0M546.5 495.5h0M565.7 506.7h0M574.8 497.8h0M568.3 499.5h0M561 498.3h0M557.9 510.4h0M553.3 501.1h0M572.3 501.6h0M569.6 503.1h0M556.1 506.7h0M564.9 500.2h0M574.9 494.7h0M570.6 506.7h0M566.6 502h0M567.7 493.8h0M565.4 509.4h0M557.8 507.1h0M566.2 502.5h0M568.3 502.2h0M549.5 502.9h0M567.8 496.1h0M559.4 508.9h0M546.4 509.4h0M556.2 499.9h0M566.3 503.9h0M554.3 496h0M558.2 509.9h0M574.8 506.6h0M566.2 506.1h0M572.5 496.1h0M550.2 509h0M546.6 502.9h0M557.7 510.4h0M564.1 497.3h0M547.9 502h0M562 501.9h0M562.9 494.2h0M556.4 508.8h0M554.4 496.6h0M551.2 510.8h0M571.2 500.7h0M555.6 500h0M571.6 510.3h0M573.6 509.3h0M565.7 495.2h0M573.3 496.2h0M567.4 499.8h0M547.1 505.5h0M553.4 509.9h0M551.2 505.7h0M558.7 493.9h0M554.2 498.9h0M568.5 507.7h0M573.1 496.1h0M552.1 500.1h0M555.3 496.9h0M567.8 493.1h0M561.6 495.5h0M555.1 498.5h0M559.4 510.8h0M567.4 501.2h0M574.7 497.8h0M551.5 505.1h0M568.3 506.8h0M560.7 506.7h0M555.7 511h0M567.5 508.2h0M561.7 510.4h0M559.6 511.1h0M558.9 511.1h0M555.2 502.8h0M562.3 503.4h0M570.5 509.1h0M551.3 506.4h0M561.2 500.7h0M528.4 509.8h0M538.9 505.4h0M533.9 490h0M530.9 495.9h0M528 497h0M531.4 497.9h0M527.8 491.2h0M538.4 501.3h0M529.8 498.8h0M531.4 499.6h0M529.1 505.9h0M538.2 503.1h0M538.5 507.6h0M533.4 500.5h0M535.3 496.8h0M527.9 498.8h0M536.8 504.2h0M527.5 507.8h0M527.6 500.4h0M529.1 495.2h0M529.8 502.8h0M535.5 509.2h0M533.1 489.4h0M527.5 490h0M528.5 492.2h0M530.6 491.6h0M537.2 496.6h0M532.8 506.8h0M529.2 500h0M527.5 499.6h0M538.1 501.6h0M530.6 503.2h0M533 499.9h0M534.6 505.1h0M537.7 511.4h0M538.5 507.4h0M535.2 507.2h0M529.3 492.7h0M537.1 498.5h0M527.2 505.9h0M531 474h0M529.5 481.5h0M556.4 479.5h0M556.6 484.5h0M575.5 477h0M541.8 473.5h0" stroke="#b5b5b5" stroke-width="2.2" stroke-linecap="round" fill="none"/>
<path d="M516.3 509.9H537.7M527.7 490.8H531.9M535.6 489.3H539.2M542.3 509.9H556.8M556.4 508.4H569.3M568.3 509.9H575.3" stroke="#8a2be2" stroke-width="2.1" stroke-linecap="butt" fill="none"/>
<path d="M538.1 483h0M556.4 482h0M574.5 480.8h0M574.5 489.7h0" stroke="#8a2be2" stroke-width="2.5" stroke-linecap="round" fill="none"/>
<rect x="539.2" y="479.5" width="4.6" height="8.5" rx="2.3" fill="#f772b0"/>
<rect x="540.4" y="484" width="3.9" height="11" rx="1.9" fill="#f772b0"/>
<rect x="538.9" y="478.3" width="3.4" height="5.7" rx="1.7" fill="#f772b0"/>
<path d="M253.6 556.6V563.4M254.6 555.3V562.7M255.6 556.4V563.8M256.6 554.8V562.8M257.6 555.6V561.8M258.6 557V562.3M259.6 555.4V561.2M260.6 554.9V561.8M261.6 556.4V561.1M262.6 554.3V563.6M263.6 554.6V563.2M264.6 556.9V562.2M265.6 555.7V561.4M266.6 554.4V562.3M267.6 556.6V563.9M268.6 556.7V564.2M269.6 555.8V562.9M270.6 556.1V562.7M271.6 556.5V561.1M272.6 554.7V561.8M273.6 554.9V561.7M274.6 554.4V564.1M361.5 561.5V571.4M362.5 562.1V571.2M363.5 563.4V570.2M364.5 561.3V569.1M365.5 561V571.9M366.5 562.6V569.8M367.5 562.4V569.8M368.5 560.8V569.8M369.5 563.7V568.7M370.5 561.6V572.3M371.5 562.3V570.3M372.5 562.1V571.3M373.5 563.1V570.7M374.5 562.1V570.8M375.5 563.3V569M376.5 562.8V572M377.5 562.8V570.7M391.5 563.5V567.1M392.5 564.1V569.2M393.5 562.4V567.9M394.5 562.6V568.8M395.5 562.1V569.7M396.5 563.3V569.8M397.5 561.9V568.6M398.5 562.1V568.3M404 562.9V567.6M405 561.3V567.3M406 563.9V569.6M407 561.6V568.4M408 561.4V566.9M409 563.3V567.7M410 562.8V567.3M411 563.9V567.9M412 561.2V570.2M413 561.7V568.4M414 563.3V570.2M415 562.4V569.3M416 564V567.5M417 561.4V569.6M418 561.3V568.9M419 562.7V568.8M420 561.4V567.8M421 562.4V567.7M422 561.6V566.7M423 561.9V570.1M424 564V568.8M425 562V569.8M426 562.2V567.6M427 562.8V570.2M428 561.2V567.2M429 563.8V567M430 564V568.3M431 563.6V569.8M432 562V567.2M433 562.4V567.9M434 562.5V567.5M435 563.6V567.4M436 562.9V569.3M437 562.3V566.9M438 561.8V569.8M439 561.6V569.5M440 564.1V568.4M441 563.9V569.5M442 563.5V569.3M443 563.3V569.2M444 563.1V566.9M445 562.9V567.8M446 561.2V567.8M447 562.5V568.7M448 561.1V567.1M449 562.2V568.5M450 561.7V570.2M451 563.1V569.2M452 562.4V568.7M453 563.9V569.6M454 561V568M455 563.1V570.3M456 563.8V567M457 563.9V569.6M458 561.7V568.3M459 562.1V566.8M460 562V568.3M461 562.4V568.1M462 562.8V567.5M463 563.9V568.3M464 563.3V569.2M465 561.5V569.3M466 562.6V567.6M467 562.9V568.5M468 562.1V570.2M469 563.8V568.4M470 562.5V569.3M471 561.3V569.5M472 562.1V569.4M473 562V569.8M474 561.9V569.2M475 563.3V570M476 562.9V568.9M477 561.5V570.2M478 560.9V566.7M479 563.1V567.8M480 562.8V567.2M481 562.3V567M482 563.1V570.1M483 561.7V568.4M484 563.8V570.1M485 561.8V567.4M486 563V569M487 561.9V567.6M488 561.1V567.9M489 563.3V569.7M490 563.6V569.2M491 563.5V568.9M492 563.2V568.1M493 561.1V568.4M494 562.7V568.9M495 563.2V567.3M496 562.9V567.7M497 563.5V570.2M498 564V569.6M499 561.1V569.2M500 564V568.5M501 564V568.9M502 561.9V567.6M503 564.1V568.7M516.6 564.5V568.4M517.6 563.4V570.4M518.6 563.7V567.8M519.6 562.4V570.2M520.6 563.2V567.5M521.6 564.2V568.7M522.6 563.1V568.1M523.6 562.4V570.3M524.6 562V570.4M525.6 564.7V569.3M526.6 564.6V570.4M527.6 562.6V570M528.6 564.2V567.5M529.6 562.4V569.4M530.6 562.9V568.9M531.6 562.4V568.5M532.6 564V568.5M533.6 563.9V569.5M534.6 562.1V567.5M535.6 564.6V569.1M536.6 562.8V568M537.6 564V567.5M542.6 563.1V570.7M543.6 560.2V571.3M544.6 562.6V569.2M545.6 559.1V570.8M546.6 561.5V571.4M547.6 560V570.8M548.6 562.9V571.9M549.6 562.3V569M550.6 561.7V570.8M551.6 560.5V569.5M552.6 560.1V570.7M553.6 562.6V572M554.6 559.7V572.2M555.6 560.2V569.6M556.6 559.8V572.2M557.6 560.9V572.3M558.6 558.9V570.3M559.6 559.1V572.4M560.6 559.7V568.8M561.6 561.7V571.1M562.6 560.6V571.7M563.6 560.4V569.4M564.6 559.1V570.8M565.6 559.3V569.6M566.6 558.8V570.9M567.6 559.8V571.6M568.6 559.3V570.2M569.6 562.9V570.3M570.6 562.5V570.9M571.6 559.6V570.2M572.6 562.7V568.9M573.6 561.4V571M574.6 563.2V571.3" stroke="#b5b5b5" stroke-width="1.4" stroke-linecap="round" fill="none"/>
<path d="M265 552.6h0M257.5 560.3h0M265.1 557.7h0M255 561.1h0M266 555.7h0M253 558.1h0M260.1 556.4h0M253.6 561.1h0M273.2 557.4h0M274 556.4h0M274.9 558.1h0M256.6 556.2h0M268 555.9h0M254 560.7h0M254.9 559.3h0M256.2 555.4h0M255.4 557.2h0M261.4 559h0M262.5 557h0M265.5 557h0M257.3 557.9h0M257.1 560.1h0M262.5 559.8h0M272.7 558.8h0M268.1 557.3h0M269.7 556.8h0M261.4 555.5h0M268.6 556.5h0M260.3 559.1h0M268.4 557.6h0M268.3 559.5h0M275.6 557.5h0M261.5 559.4h0M267.1 560.2h0M258.9 556.1h0M270.9 556.5h0M273.3 560.7h0M268.9 558.2h0M275 556h0M259.6 559.7h0M261.6 559h0M263.2 558.5h0M253.9 560.2h0M259.6 560h0M269.1 556.1h0M255.5 560.4h0M268.9 560h0M267.1 558.3h0M268.9 559.7h0M274.2 559.8h0M267.3 557.9h0M252.9 561.8h0M256.6 558.6h0M271.2 558.9h0M265.9 560.7h0M267 555.5h0M270.2 560.2h0M258.6 557.8h0M261.9 560.4h0M269.5 556h0M260.2 555h0M275.6 560.4h0M274.9 555.7h0M270.8 559.2h0M266.9 561.6h0M254.7 555.6h0M263.9 559.7h0M255.6 560.6h0M269.3 556.8h0M267.4 559.5h0M254.2 560.5h0M265.9 558.1h0M266.7 555.6h0M257.1 559.7h0M275.5 551.5h0M272.3 549.5h0M273.1 546.3h0M272.1 549.6h0M271.8 547.5h0M273.3 549h0M275.9 544.5h0M275.1 548.2h0M274.7 544.6h0M274.8 547h0M272.9 550h0M276.2 546.1h0M275.3 547.7h0M274.3 545.7h0M275.1 553.2h0M274.2 552.8h0M279.6 552h0M276.7 554.2h0M279.6 555.1h0M276.1 556.9h0M277.8 554.2h0M273.6 553h0M275.9 552.1h0M279.4 549.7h0M278.9 551.5h0M273.9 552.8h0M275.9 554.3h0M277.8 555.2h0M275 553.2h0M274.9 557.8h0M274.6 554.4h0M274 552.1h0M283.3 547.6h0M278 544h0M283.1 547.1h0M278.2 546.3h0M281.7 542h0M279.4 548.8h0M278.3 546.4h0M279.3 546.6h0M279.7 542.8h0M280.4 543.1h0M282.4 546h0M280.8 540.8h0M279.5 545.6h0M279.8 546.8h0M283.1 548.5h0M279.9 543.7h0M277.1 545.6h0M280.4 544.6h0M282.9 546.8h0M282.8 541.8h0M279.4 547h0M279.5 545.3h0M282.6 541.4h0M283.6 558.6h0M287.8 559h0M288.7 556.3h0M285.4 556.8h0M284 560.3h0M289.7 555.4h0M290 555.3h0M286.5 557h0M288.8 555.9h0M290 555h0M284.6 557.1h0M284.5 556.9h0M287.3 556.4h0M288.3 558.4h0M283.7 556.3h0M284.9 559.6h0M289 555.6h0M286.5 556h0M286.4 558.5h0M283.2 560.5h0M287 560.6h0M290.1 549.2h0M292.6 546.2h0M293 549.1h0M293.9 546.2h0M292.7 551.6h0M295.1 550.5h0M292 551.7h0M293.6 550h0M294.6 546.9h0M289.5 550.7h0M293.1 550.3h0M289.1 553h0M291.6 547.3h0M288.6 546.6h0M291.6 551.1h0M289.5 548.2h0M293.2 550.9h0M293.1 554.4h0M296 548.7h0M288.3 553.7h0M291 549.6h0M289 552h0M288.8 548.9h0M295.3 552.2h0M292.1 548.5h0M293.2 549.3h0M288.6 545.6h0M294.6 548.7h0M293.4 546.7h0M297.4 563.5h0M298.4 566h0M293.7 562.5h0M300.8 562.8h0M300.7 564.8h0M293.5 561.3h0M293.9 564.6h0M299.1 565.4h0M296.8 566.8h0M297.2 559h0M299.7 563.7h0M297.2 563.6h0M300.3 564.6h0M299.4 558.3h0M297.1 562.2h0M294 560.9h0M297.5 562.6h0M296.3 564.8h0M293.6 561.6h0M293.4 566.5h0M294.7 566.2h0M294 562.6h0M294 560h0M300.8 551.9h0M298.7 551.8h0M301.4 553.5h0M304.1 553.7h0M303.4 554.1h0M302.5 551.5h0M303.4 549.7h0M304.7 549.7h0M298.8 550.4h0M302.9 553.1h0M301.9 550.7h0M301.1 554.2h0M299.1 550.2h0M298.7 550h0M303.5 551.1h0M298.8 549.3h0M300.3 551.9h0M303.8 547.7h0M303.8 549.7h0M306.7 561h0M305.5 560.4h0M302.3 563.3h0M302.9 564.5h0M305.2 564.7h0M302.4 560.6h0M307.4 561.2h0M304.2 560.5h0M306.7 562.6h0M303.8 559.9h0M304.5 561h0M303.5 561.8h0M304.1 559.6h0M303.3 562.5h0M304.8 564.1h0M306.8 563h0M310.1 544.4h0M306.9 548.7h0M309.3 542.3h0M305.5 543.1h0M305.2 538.7h0M310.4 546.6h0M305.3 545.1h0M307.8 545.4h0M306 544.1h0M308.2 542.9h0M310.1 546.6h0M309.9 544.8h0M309.4 544.8h0M307.7 546.5h0M305.6 544.2h0M309.9 547.6h0M309.6 558.1h0M311 553.8h0M310.9 554.3h0M309.9 552.6h0M309.5 554.9h0M310.5 551.6h0M308.2 552.5h0M311.1 558.1h0M307.8 554.5h0M314 554.1h0M310.8 556h0M307.9 555.5h0M311.7 553.4h0M306.9 553.7h0M311.9 550.1h0M307.6 555.6h0M307.2 555.4h0M310.3 554.4h0M307.1 554.6h0M314 552.5h0M311.1 552.3h0M316.1 547h0M315.8 549.8h0M315.6 546.6h0M314.1 545.9h0M312.4 548.8h0M314.7 549.5h0M314.9 550h0M313.7 548.2h0M315.1 544h0M314.3 548.1h0M313.9 552.8h0M316 551.8h0M311.5 548.8h0M314.9 548.7h0M313.3 543.4h0M315.6 543.6h0M316.4 543.5h0M312.7 547.1h0M314.3 541.3h0M313.9 541.6h0M317.5 539.2h0M317.7 540.6h0M314.6 541h0M315.8 545.8h0M317.7 543.4h0M313.2 544.5h0M313.6 543.2h0M317.8 542h0M317 542.4h0M316.2 544.9h0M314.4 547.4h0M321.2 547.7h0M321.8 545.3h0M320.6 545.9h0M317.8 548h0M321 549.7h0M320.7 547.6h0M320.7 548.5h0M315.6 536h0M314.7 549.8h0M316.3 547.4h0M319.6 549h0M315.5 540.3h0M314.7 551.6h0M319.2 547.5h0M318.5 547.4h0M314.8 548.6h0M317.9 547.8h0M315.8 548.8h0M315.7 545.7h0M322 548.5h0M314.7 548h0M314.3 547.5h0M326.3 546.2h0M325.7 541h0M324.1 544.9h0M326.2 545.3h0M326.1 541.3h0M325.2 542.5h0M326.9 542.5h0M326 546.1h0M322.2 545.5h0M324.6 543.4h0M326.8 547.4h0M321.9 551.6h0M322.4 542.5h0M325.4 544.5h0M324.7 544.6h0M331.8 551.8h0M328.3 547.1h0M330.5 551.5h0M329.4 548.3h0M325.8 552.1h0M327.2 549.7h0M330.8 549.9h0M331.4 550.9h0M326.9 549.7h0M328.4 544.4h0M328.6 546.2h0M328.2 552.8h0M331.3 550.2h0M328.9 545.1h0M329.5 549.7h0M326.1 550.6h0M329.1 547.1h0M327.1 545.4h0M330.7 543.7h0M325.8 548h0M331.3 547.8h0M332.4 543.5h0M332.4 546h0M330.2 542.8h0M336.7 543.9h0M335 544.3h0M336.2 547.6h0M333.8 547.2h0M333.3 542.7h0M334.7 545.9h0M335.9 546.1h0M334.8 548.6h0M332.9 544.1h0M336 544.5h0M330.9 546.6h0M336.6 543.1h0M329.5 547h0M335.1 541.3h0M335.5 546.1h0M329.8 545.4h0M335.5 545.4h0M333.7 540.2h0M330.6 546.6h0M336.8 541h0M334.9 533h0M336.4 541.4h0M337.9 541h0M334.2 538.3h0M335.5 538.6h0M335.5 539.1h0M338 540.1h0M337.8 539.4h0M336.9 541.8h0M337.9 538.7h0M338.6 541.4h0M338.5 542.9h0M335.6 545.2h0M335.6 540.2h0M336 536.6h0M258 564.5h0M264.7 563.6h0M272.7 558.7h0M258.7 559.9h0M262.6 557.3h0M269.7 556.7h0M267.5 560h0M261.6 562.7h0M264 559.7h0M263.4 563.1h0M254.3 561.5h0M270.8 557h0M269.3 559h0M261.6 552.1h0M262 563.7h0M266 560.1h0M265.9 561.7h0M258.4 560h0M269.3 561.1h0M254.7 557.3h0M261.5 561.4h0M263.4 557.4h0M261.9 557.7h0M268.4 557.6h0M272.1 560h0M258.9 557.6h0M270.3 561.5h0M257.8 554.5h0M271.7 560.8h0M260.1 559.4h0M267.1 562.9h0M259.2 563.7h0M268.2 559.5h0M257.9 561.7h0M264.2 559.6h0M268.3 558.3h0M260.7 558.6h0M257.7 558.1h0M256.5 563.6h0M262.4 561.4h0M256.1 562.7h0M254 557.5h0M269.1 557.8h0M264.3 558.5h0M274.2 557.5h0M267.2 562.5h0M261.4 557.6h0M267.2 563.4h0M263.3 558.2h0M270.5 559.8h0M253.9 558.3h0M258.3 557.8h0M266.1 559.1h0M264 559.5h0M257 560.7h0M260.6 557.9h0M258.1 561.5h0M256.8 560.5h0M266.9 561h0M255.9 558.6h0M257 543h0M258 547h0M259 551h0M260.5 554h0M263 556h0M254.5 566.5h0M263.5 566h0M267.5 566.5h0M281 535.5h0M279.5 537h0M337.5 537.5h0M329.5 563h0" stroke="#b5b5b5" stroke-width="2.2" stroke-linecap="round" fill="none"/>
<path d="M253.3 558.5H275.2M272 547.7H276.2M274 554.9H279.3M277.2 546H284M283.5 557H289.7M287.6 550.2H296M293.9 564.1H300.7M298.7 551.6H304.3M302.2 561.6H307M305.3 544.5H309.9M307.4 554.3H313.6M311.6 548.7H315.7M313.2 542.9H317.8M314.7 548.1H321.5M322 543.9H326.5M326.1 549.1H332.4M329.9 545H336.5M334.4 540.4H339" stroke="#8a2be2" stroke-width="2.1" stroke-linecap="butt" fill="none"/>
<path d="M253.7 549.1h0M271.6 551.8h0M280.4 538.3h0M283 541.4h0M303.2 542.9h0M321.5 559.1h0" stroke="#8a2be2" stroke-width="2.5" stroke-linecap="round" fill="none"/>
<rect x="253.8" y="536.2" width="3.8" height="6.7" rx="1.9" fill="#f772b0"/>
<rect x="318.3" y="538.7" width="3.8" height="6.3" rx="1.9" fill="#f772b0"/>
<rect x="323.5" y="545" width="3.8" height="9.3" rx="1.9" fill="#f772b0"/>
<path d="M357.8 544.4h0M357.8 539.1h0M357.8 541.1h0M356.8 541h0M359.1 542.2h0M359 540h0M356.9 543.4h0M355.6 541.5h0M358.5 537.6h0M358.9 552h0M358.7 552.2h0M361.5 554.6h0M359.2 552.1h0M357.8 554.1h0M359.9 555.9h0M359.7 553.7h0M359.6 552.6h0M358.2 550.5h0M357.3 550.9h0M359.6 556.4h0M358.3 551.4h0M361.9 552.8h0M373.7 563.6h0M375.3 564h0M366.5 566.4h0M368.8 564.9h0M367.9 564h0M374.6 566.4h0M369 569.2h0M366 564.9h0M378.6 564.6h0M366 565.5h0M372.9 566.1h0M376.2 567.6h0M370.4 567.8h0M375 563.3h0M374 568.4h0M369.1 567.1h0M372.3 568.5h0M377.6 564h0M369.9 567.9h0M362 564.6h0M373 569.2h0M373.1 568.5h0M374.8 563.9h0M362.4 567.6h0M373.1 564.4h0M364.3 564.5h0M377.6 563.9h0M360.8 566.9h0M364.3 566.5h0M366 565.3h0M374.9 564.1h0M371.6 561.6h0M372.7 568.7h0M363 563.1h0M378.7 564.6h0M365.1 570.6h0M373 564.8h0M364.9 564.8h0M368.6 564.5h0M364.4 564h0M362.1 565.7h0M361.3 565.9h0M372 566.7h0M361.7 562.1h0M372.9 565.6h0M366.8 567.9h0M375.8 563.2h0M377.3 562.9h0M376 554.2h0M376 551.8h0M380.3 550.8h0M378.8 551.7h0M379.2 552.6h0M380.9 552.6h0M382.1 554.1h0M378.2 553.3h0M377.5 551.3h0M380.7 549.2h0M378 554.4h0M383.2 552.8h0M382.1 551.5h0M377.9 553.8h0M376.4 551.7h0M378.8 553.8h0M382.6 549h0M379.4 552.8h0M383.7 551.6h0M383.4 555.6h0M383.7 541.9h0M388 541.5h0M388 542.3h0M387.1 541.5h0M384.1 540.5h0M386.9 539.3h0M386.9 544.3h0M385.2 546h0M386.4 541.5h0M385.5 541.9h0M383.6 542.9h0M385.8 552.5h0M388.8 552.3h0M388.8 553.5h0M391.7 551.6h0M391.5 554.5h0M388.3 552.2h0M390.5 554.1h0M390.4 552.1h0M388.7 552.7h0M390.4 552.9h0M388.7 559h0M390.2 551.9h0M389.3 555.3h0M387.9 554.5h0M385.8 552.5h0M389.5 552.4h0M389.9 554h0M398.8 566.1h0M395.1 567.4h0M391.6 564.6h0M395.7 570.3h0M398.6 566.4h0M391.1 567.8h0M391.9 565.3h0M398.5 562.9h0M399.3 565.7h0M392.6 564.8h0M394.1 564.3h0M396.9 568.7h0M391.8 563.9h0M391.9 565.9h0M393.6 566.3h0M391.1 565.7h0M398.4 563.2h0M394.1 567.7h0M393.2 564.2h0M392.4 563.9h0M391 567.3h0M393.1 564.2h0M402.6 532.1h0M400.7 533.1h0M401.8 535.5h0M402.9 534.1h0M400.9 533h0M403.3 534.3h0M404.8 532.3h0M402.6 529.4h0M400.8 532.6h0M400.7 534.2h0M404.4 544.4h0M404.9 546.3h0M402.8 547.4h0M403.2 547.9h0M401.6 546.4h0M402.4 543.1h0M403.9 546h0M405.9 546.6h0M405.7 545.7h0M402.6 547.2h0M401.4 546.4h0M502.7 567h0M496.2 567h0M437 565.4h0M426.9 567h0M448.4 563.8h0M466.8 566.4h0M485.1 565.5h0M473.5 565h0M467.3 565h0M465.8 564.2h0M444.8 559.4h0M467.6 565.7h0M461.6 565.1h0M407.7 563.2h0M458 562.6h0M483 568.1h0M419.8 564.7h0M414.3 566.8h0M477.2 563.9h0M415 565.2h0M476.5 565.3h0M469.9 564.9h0M478.4 567h0M411.3 560.9h0M447.4 564.2h0M486.2 565.3h0M483.4 566.3h0M453.1 561.9h0M425.6 559.7h0M481.5 564h0M490.6 564.8h0M486 566.1h0M422 568.6h0M503.3 566.8h0M411.4 566h0M463.6 569.1h0M443 562.7h0M470.4 566.2h0M419.8 566.2h0M435.8 562.7h0M481.8 564.1h0M488.9 566.6h0M429.9 566.2h0M482.6 559.8h0M468.5 566h0M448.2 562.5h0M455.2 563.6h0M431.3 565h0M503.1 567.6h0M429.9 563.8h0M410.4 564.6h0M491.1 567.6h0M427.8 566h0M477.2 563.8h0M433.1 566h0M487.3 563h0M461.3 565.8h0M499.9 566.4h0M482.2 564.8h0M408.1 564.5h0M504.4 564.9h0M466.9 564.9h0M500 564.9h0M483.3 564.2h0M446.9 563.9h0M455.2 564h0M480.2 561.6h0M495 564.3h0M453.2 568h0M412.5 563.8h0M444.3 565.6h0M501.5 564.9h0M432 566.1h0M422.7 564.1h0M419.7 566.4h0M493.9 565.2h0M414.8 567.3h0M416.1 564.3h0M479.8 563.3h0M482.4 563.7h0M473.6 563.4h0M488 565.8h0M489 563.4h0M489.5 565.9h0M503.4 565.1h0M413.1 565.1h0M426.5 567.2h0M456 564.9h0M408.3 565.2h0M502.2 565.7h0M404.6 569.1h0M405.7 568.1h0M425.4 566.6h0M441.3 566.3h0M416.7 560.6h0M472.1 564.4h0M428.3 565.3h0M500.7 561.9h0M483.5 567.1h0M474.9 568h0M441.2 568.2h0M491.6 566.9h0M454 564.4h0M404.1 566.4h0M452.5 566.6h0M479.8 563.1h0M503.1 565.6h0M449.3 566.7h0M423.4 565.6h0M405.4 565.5h0M495.9 563.3h0M441.6 562h0M475.8 566.2h0M414.1 563.5h0M448.8 565h0M443.2 561.7h0M465.5 563.8h0M439.9 567.1h0M504 561.7h0M430.9 564.8h0M474.6 564.6h0M429.9 565.2h0M495.2 565.1h0M455.6 563.8h0M427.4 568.3h0M403.8 564.6h0M411.4 565.2h0M457.3 565.9h0M448.9 564.7h0M485.3 564.4h0M427.5 565.3h0M454.7 568.3h0M497.1 565h0M498.7 561.2h0M501.6 564.5h0M427.4 568.9h0M417.2 566.5h0M405 568h0M430 562.4h0M474.2 567.1h0M442.7 567h0M476.5 565.5h0M496.8 565.1h0M465.5 567.7h0M503 564.4h0M467.9 566.7h0M410.2 566.1h0M441.9 567h0M417.3 563.8h0M483.3 565.3h0M475.1 565.7h0M407.8 564.2h0M478.8 565.5h0M457.3 563.9h0M435.1 566.9h0M429.4 563.4h0M412.9 565.2h0M431.1 566.4h0M466.2 561.9h0M408.6 568.3h0M431.7 563.8h0M479.8 562.9h0M408.7 567.5h0M500.8 566.4h0M432.2 566.2h0M452.2 565.7h0M447.7 564.4h0M420.6 560.5h0M486.3 563.2h0M443.5 564.9h0M443.9 568h0M430.4 565.7h0M502.6 565.2h0M463.9 565.1h0M409.5 564h0M461.8 566.3h0M408.8 564.4h0M473.2 567.9h0M405.1 567.2h0M498.6 563.8h0M412.9 568.2h0M489.6 563.7h0M473.3 563.5h0M434.8 566.2h0M472 565h0M502.1 567h0M484.7 566.9h0M474.8 566.8h0M468.4 561.9h0M467.9 567.3h0M427.7 569.2h0M494 565h0M411.9 565h0M403.9 566.4h0M499.7 564.6h0M405.9 565.1h0M448.1 566.6h0M468.1 564.7h0M466.8 565.8h0M432 565.1h0M478.2 564.6h0M465.8 565.3h0M448.8 567.1h0M495.7 560.6h0M462.4 564.1h0M495.8 567.5h0M446.7 564.5h0M486.5 567.7h0M456.2 565.3h0M470.3 566.4h0M446.6 564.6h0M443.4 563h0M439.4 563h0M441.7 567.1h0M477.1 565.7h0M455.2 563.6h0M451 564.1h0M436.8 565.6h0M487.4 564.3h0M493.3 565.2h0M458.3 567.8h0M475.9 563.9h0M432 563.9h0M446.2 566.6h0M437.3 560.4h0M486.1 563.4h0M406.2 562.5h0M464.1 565.2h0M498.4 563.6h0M484.1 571.4h0M453.3 564.4h0M444.8 564.6h0M471.1 563.3h0M496.8 565.5h0M474.7 568.5h0M407.1 566.3h0M498.6 569.9h0M442.3 567.8h0M425.6 568h0M450.5 566.3h0M421.4 563.7h0M493.7 565.7h0M414.7 566.5h0M419 565.2h0M428.8 567h0M434.9 562.5h0M474.3 566.7h0M426.2 567.2h0M487.9 564.1h0M489.2 559.7h0M480.5 565.2h0M434.8 566.8h0M405.1 564.8h0M459.2 564.4h0M429.4 565.9h0M448.5 567.2h0M462.6 565.5h0M475.8 566.5h0M437.9 566.7h0M501.8 567.5h0M495.5 565.2h0M405.1 567.2h0M436.9 563.3h0M443.8 563.7h0M408.2 565.8h0M447.2 567.4h0M477.4 563.3h0M494.5 565.1h0M459 564.4h0M487.4 568.6h0M428.1 564.5h0M480.9 565.3h0M489 565.7h0M428.9 565.6h0M440.6 566.7h0M404.8 566.2h0M449.6 564.5h0M409.2 565.5h0M488.3 564.5h0M440.4 562.6h0M487.5 562.5h0M369.4 565.4h0M375.2 557.6h0M364.8 563h0M364.6 570.4h0M366.2 567.9h0M365.1 560.3h0M373.9 559.3h0M377.3 569.4h0M365.1 564.6h0M374.1 566.3h0M367.7 567.2h0M373.7 564h0M363.6 563.8h0M364.3 563.3h0M370.5 564h0M373.8 560.7h0M376.7 563.4h0M370.1 563.8h0M365.6 568.8h0M364.4 565.5h0M361.9 562.9h0M368 565.6h0M361.9 567.1h0M371.6 568h0M371.4 560.7h0M365.2 564.6h0M365.3 564.3h0M366.9 567.1h0M377.8 567.2h0M362.9 570.6h0M373.7 565.3h0M363.3 565.2h0M369.9 564.3h0M369 567.2h0M361.6 565.3h0M371.1 561.8h0M362.9 565.4h0M367.6 565.2h0M366.7 562.2h0M361.6 572.2h0M366 567.8h0M362.7 565.6h0M370.5 568.1h0M362.3 561.9h0M370.3 565h0M371.3 566.3h0M373.8 569.1h0M366.2 567h0M369.4 564.4h0M376.3 564.9h0M367.5 564h0M366.2 566.1h0M375.3 563.2h0M373 567.9h0M366.2 562.9h0M372.8 565.2h0M368.9 566.5h0M364.6 568.2h0M377.3 567.1h0M372.5 562.5h0M367.9 567.7h0M370.8 565.7h0M374.6 572h0M368.8 563.4h0M374.2 565.1h0M375.3 567.4h0M376.5 565.5h0M365.1 568.5h0M372.2 568.1h0M363.4 561.2h0M374.4 559.9h0M375.2 567.6h0M365.6 568.4h0M367.6 573.6h0M365.9 559.4h0M370.8 559.9h0M368.9 561.1h0M363.4 567.5h0M369.4 567.1h0M363 565.4h0M362.2 564.3h0M373.4 561.2h0M371 567.3h0M367.8 571.4h0M372.7 568.6h0M430 568.5h0M496.5 567.1h0M477.9 572.6h0M416.6 561.4h0M422.3 564.1h0M452.2 565.6h0M485.2 565h0M429.3 570.1h0M485.2 566.5h0M408.6 565.9h0M461.7 569.3h0M445.6 565.9h0M494 561.6h0M478.8 568.6h0M441.3 565.9h0M463 561.8h0M446.4 567.1h0M455.6 567.9h0M447 566.9h0M494.6 565.1h0M459.6 568h0M422.7 567.2h0M453.3 560.9h0M494.5 565.9h0M411.1 569.7h0M419.1 561h0M412.1 564.7h0M416.4 565.4h0M454.8 566.2h0M424.7 568.7h0M470.3 564.6h0M472.1 564.6h0M495.8 566.1h0M472.5 565.3h0M435.8 562.8h0M408.9 566.7h0M466.6 568.8h0M414.1 569h0M466 564.7h0M415.3 565.1h0M453.3 564.1h0M414.1 566.3h0M427 565.9h0M479.3 564h0M415.4 567.1h0M491.7 561.2h0M442.8 568h0M466.8 564.9h0M486.4 565.8h0M473.1 565.9h0M426.6 565.9h0M421.1 568.3h0M430.9 565.6h0M485.2 566.4h0M488 565h0M495.8 562.5h0M458 564.8h0M439.4 565.1h0M425.6 561.6h0M466.5 559.7h0M435.8 565.8h0M484.1 564.4h0M408.3 569.6h0M502 564.3h0M452 563.9h0M478.7 563.1h0M457.5 560.8h0M497.5 566.6h0M431.7 564.9h0M437.6 573.6h0M440.6 563.2h0M449.4 564.7h0M431.4 561h0M480 567h0M496.5 567.2h0M481.5 564.5h0M472.9 563.2h0M495.6 563.2h0M460.1 566.4h0M439.6 564.8h0M417.2 564.8h0M435.9 562.5h0M437.5 563.1h0M453.1 565.5h0M466 567.1h0M456.2 565.5h0M469.9 561.8h0M447.2 563h0M494.8 565.6h0M460.8 562.2h0M484.1 564.9h0M453.6 567.4h0M454.3 568.2h0M495.4 566.3h0M490.1 561.4h0M441 564.3h0M411.1 566.7h0M464.8 562.4h0M465 567.5h0M460.8 565h0M477.1 563.1h0M408.1 560h0M483.3 567.5h0M439.1 565.8h0M483.7 567.8h0M459.3 563.2h0M470.2 567.8h0M449 565.7h0M408.8 564.5h0M416.8 567.3h0M422.8 562.7h0M488.7 568.1h0M435.7 566.2h0M414.2 561.3h0M423.9 566.3h0M466.3 564.3h0M462.1 566.9h0M485.3 561.1h0M417.6 564.4h0M470.2 559.8h0M499.3 567.8h0M500.3 566.7h0M434.1 564.1h0M441.3 567.1h0M446.9 563.3h0M453.8 565.2h0M496.5 564.2h0M495.2 566.9h0M474.6 566.8h0M501.9 559.7h0M434.3 569.6h0M469.7 565.3h0M442.6 569.2h0M460.8 562.7h0M465 563.9h0M433.3 566.1h0M476.4 562.1h0M469.1 565.4h0M497.2 566.1h0M480.5 566.1h0M425.6 562.5h0M470.7 564h0M467.6 562.4h0M497 567.4h0M487.6 561.2h0M432.9 566.4h0M496 568.7h0M480.2 565.4h0M494.8 562.3h0M464.4 564.5h0M479.3 562.7h0M429.3 568h0M411.9 566.7h0M444.4 566.1h0M417.1 566.1h0M442.2 561.4h0M421.8 560.7h0M487.2 568h0M472.7 561.6h0M454.5 568.6h0M437.9 568.4h0M409.6 563h0M410.8 560.9h0M447.6 566h0M456.8 567.6h0M444.7 568h0M439.9 566.1h0M486.5 568.7h0M457 562.7h0M474.6 563.2h0M473.3 572h0M453 565.7h0M408.9 564.6h0M440.5 561h0M463.7 569.4h0M471 566.3h0M484.2 559.5h0M445.2 566.3h0M404.5 567.2h0M426.3 566.5h0M427 568.5h0M492.4 567.3h0M496.4 563.4h0M456.3 567.7h0M463.8 564.9h0M405.9 562.6h0M435.5 569.2h0M500.3 565.6h0M461 564.1h0M500.8 562.2h0M420.6 563.2h0M449.6 564.3h0M425.6 565.8h0M430.7 563h0M489.2 567h0M496.3 565.5h0M470.3 565.7h0M470.9 566.6h0M486.8 571.5h0M478.8 565.2h0M412.4 566h0M456.9 562.6h0M406.4 568.4h0M468.2 565.6h0M431 566.3h0M491.1 565.1h0M496.7 569.4h0M465.2 567.9h0M447.2 562.3h0M496.2 566.6h0M479.4 562.5h0M421.5 565.8h0M458.4 567.7h0M463.6 562.5h0M449 570.4h0M455.5 564.8h0M469.8 566h0M466.6 563.4h0M432.4 565.5h0M499.8 563.1h0M472.9 562h0M462.1 564.7h0M430.6 568.1h0M433.3 565.7h0M450.8 565.7h0M501.4 567h0M441.6 565.3h0M412.7 563.9h0M472.8 561h0M406.1 567.1h0M453.3 563.8h0M475.2 564.2h0M423.5 566.5h0M408.6 566.3h0M444.2 565.6h0M432.2 563.7h0M437.4 566.3h0M487 570.5h0M415.9 562.3h0M405.2 560.5h0M444 567.5h0M416.2 565.7h0M449.6 566.5h0M442 569.4h0M412.3 562.6h0M477.6 564.4h0M478.1 565.3h0M475.7 567.9h0M500.3 561.9h0M437.2 564.1h0M447.3 564.1h0M432.5 568.1h0M436 566.4h0M490.2 565.5h0M438.5 567.2h0M440.2 564.9h0M492.9 561.6h0M481.2 566.6h0M442.5 565.4h0M489.9 565.6h0M420.5 540.2h0M409 559h0M416 557.5h0M421 558h0M386.5 535.5h0M391.5 536h0M400 525.5h0" stroke="#b5b5b5" stroke-width="2.2" stroke-linecap="round" fill="none"/>
<path d="M355.8 540.8H359.1M357.5 553.7H362M361.2 565.8H378.3M376.2 552.2H383.5M383.5 542.5H387.6M386.2 553.7H392.4M391.2 565.3H399M400.7 533.5H404.3M401.6 546.6H405.7M403.7 565.3H504" stroke="#8a2be2" stroke-width="2.1" stroke-linecap="butt" fill="none"/>
<path d="M361.2 541.8h0M357.9 545.4h0M361.2 550.8h0M358.5 563.7h0M387.2 537.7h0M385.1 547.7h0M391.8 538.7h0" stroke="#8a2be2" stroke-width="2.5" stroke-linecap="round" fill="none"/>
<rect x="381.8" y="536.2" width="3.4" height="7.1" rx="1.7" fill="#f772b0"/>
<rect x="397.5" y="528.3" width="3.8" height="8.3" rx="1.9" fill="#f772b0"/>
<path d="M519.2 566.7h0M532.5 563.5h0M524 563.4h0M526 564.9h0M527.3 568.2h0M536.2 565.4h0M529.2 565.3h0M518.3 567.5h0M519.7 567.2h0M524.5 565.1h0M528.1 566.1h0M523.5 566.9h0M533.5 567.1h0M537.5 568.6h0M532.7 566.3h0M520.5 566h0M529.1 565h0M516.2 565.2h0M525.1 563.9h0M524.1 569.2h0M526.2 565.7h0M515.9 566.2h0M525.7 566.9h0M536 566.1h0M526.6 566.1h0M537.3 568.7h0M524.9 565.5h0M527.7 565.3h0M537.7 566.9h0M532.3 566h0M526.1 565.7h0M528.5 566.9h0M534 564.7h0M533.2 566.9h0M523.3 566.8h0M535.1 567.6h0M522.1 566.4h0M535.6 564.3h0M516.3 565.7h0M517.3 564.3h0M529.5 568.4h0M525 564.7h0M530.5 568.3h0M532.4 564.6h0M526.1 561.9h0M516.7 568.3h0M517 567h0M516.3 563.4h0M525.3 563.8h0M521.4 566.8h0M523.5 563.6h0M533.7 565.3h0M524 565.1h0M523.2 565.5h0M523.6 566.3h0M517.7 566.8h0M518.3 568.4h0M523.8 568.1h0M531.1 567.4h0M516.8 564.1h0M533.1 566.1h0M537.4 565.9h0M525.1 564.9h0M525.9 563.5h0M515.8 566.6h0M535 567.2h0M523.5 566.4h0M529.1 567.3h0M527.4 548h0M530 552.6h0M528.2 552.3h0M528.7 552.5h0M528.4 546.9h0M530.1 552.8h0M529.1 548.9h0M527.9 554.3h0M527.9 555.7h0M531 550.9h0M530.7 549.2h0M527.4 552.2h0M530.6 559.8h0M527.7 559.5h0M528.2 558h0M530.3 555.3h0M529.2 556.8h0M528.2 556.4h0M530.3 556.2h0M528.1 557h0M531.5 557h0M528.5 559.6h0M530.9 560.4h0M528.8 558.3h0M538.8 554.2h0M535.9 552h0M535.8 548.9h0M538.4 556.2h0M538.4 553.7h0M538.1 548.6h0M537.7 555.4h0M538.4 553.9h0M540 553.6h0M537.4 552.5h0M536.5 552.2h0M537.2 552.5h0M540.6 554.4h0M575.7 567.7h0M555.1 566.6h0M562.8 565.2h0M562.3 565.9h0M546.9 565.7h0M557.3 564.7h0M553.3 566.4h0M546.9 568.4h0M575.2 566.8h0M569.6 569.3h0M572.7 566.2h0M555 568h0M553.4 564.8h0M549.4 563.7h0M544.2 566.6h0M558.2 565.5h0M550.6 569.2h0M565.1 567.7h0M556.2 567h0M570.8 567.5h0M556.9 563.3h0M558.3 563.1h0M552.2 565.4h0M561.3 564h0M566.1 565.9h0M555 567.4h0M571.3 565.6h0M563.2 570.4h0M557.8 564.6h0M549.4 566.7h0M555.6 567.9h0M567.4 564.7h0M547 563.7h0M542.4 562.3h0M557.8 562.7h0M555.8 564.3h0M568.8 567.7h0M560.3 567h0M554 563.5h0M564 563.2h0M570.2 563.4h0M561.5 565.5h0M550.7 567h0M546.8 567.7h0M554.7 561.9h0M555.6 561.5h0M545.5 568.8h0M569.9 563.4h0M542.3 565h0M571.9 567.1h0M567.8 562.2h0M555.5 565h0M542.8 563.5h0M564.4 566.7h0M556.8 566.3h0M547.4 565.9h0M555.5 567.7h0M563.5 569.5h0M571.9 566.8h0M564.7 564.8h0M566.5 568.2h0M545.8 565.4h0M573.5 564.8h0M548.8 567.6h0M553.4 563.3h0M559.6 565.6h0M543.1 569.1h0M563.9 566.9h0M561 562.6h0M555.4 567.3h0M554.1 567h0M556.5 565.6h0M552.1 566.8h0M543.3 568.7h0M550 566.2h0M568 568.4h0M550.5 564.4h0M550.3 560.4h0M543 565.2h0M563.7 564h0M572.5 566.8h0M566.9 566.5h0M562.4 565h0M564.4 568.6h0M550.6 564.3h0M550 567.8h0M549.4 568.2h0M572.3 565h0M554.4 568.4h0M545.9 564.5h0M562.5 565h0M545.8 564.1h0M561.8 565.5h0M558.7 562.2h0M559 565.6h0M574.3 568.7h0M550.7 567.2h0M543.9 566.8h0M546.9 567.5h0M547.5 565.3h0M557.5 565.8h0M543.6 564.7h0M551.5 562.4h0M555.6 568h0M569.3 565.2h0M570.9 569.6h0M547.9 567.6h0M545.8 566.5h0M567.6 567.3h0M543.6 570.3h0M547.7 567.6h0M558.5 567.1h0M558.5 567.9h0M569.6 573.1h0M547.3 564.1h0M565.7 564h0M549.6 565.6h0M561.4 567.9h0M556.3 561.5h0M571.7 569.6h0M546.1 569.5h0M553.4 568.3h0M547.8 562.5h0M553.6 562.7h0M568.2 570h0M562.4 570.6h0M561.2 565.3h0M554.7 562.3h0M550 562.7h0M569.3 563.9h0M552.5 564.2h0M559.8 566.3h0M566 565.8h0M569.2 568h0M553.4 563.8h0M569.4 569.4h0M570 562.4h0M545.8 561.4h0M552.8 566.9h0M552.7 563.4h0M574.6 564.6h0M544.6 568.1h0M558.1 569.4h0M571.4 573.8h0M558.6 563.9h0M572.8 566.5h0M543.1 567.5h0M550.9 566.2h0M550.1 567.2h0M564.6 564.4h0M563.3 566h0M572.4 565.6h0M558.2 570.4h0M564.3 568.8h0M554.1 565.7h0M559.9 562.9h0M557.6 567.4h0M554.4 560.7h0M572.1 568.2h0M565.4 561.9h0M556.9 561.5h0M566.6 563.5h0M557.1 569.8h0M553.2 566.6h0M553.6 564.1h0M559.5 568.7h0M568.7 565.9h0M571.4 563.1h0M551.9 563h0M556.3 562.6h0M566 570.3h0M556.7 563.8h0M546.6 565.1h0M560.1 562.2h0M544.4 567.6h0M545 566.4h0M574.8 560.4h0M556.2 568.8h0M569.9 568h0M566.6 566.5h0M560.9 565.7h0M570.8 567.3h0M560.8 562.6h0M569.5 565.1h0M547.8 565.5h0M559.5 568.8h0M549.2 565.6h0M567.1 567.3h0M543.3 567.3h0M570.2 567.1h0M547.7 563.2h0M565 568.8h0M557.3 564.7h0M544.8 566.3h0M574.5 561.1h0M547.4 565.6h0M563.3 566.4h0M573.1 562.4h0M574.4 567.4h0M557.2 567.9h0M547.5 563.8h0M546.5 566h0M548.6 568.4h0M556.2 566.6h0M562.9 571.5h0M568.3 568.3h0M566.2 564.8h0M548.6 566.5h0M553.3 559.3h0M550 558h0M570.5 570.6h0M552.2 563.2h0M564.6 566.9h0M568.8 560.7h0M574.6 566.7h0M551.4 563h0M546.6 562.3h0M547 569.9h0M572.6 566.6h0M568.9 564.6h0M563.6 566.1h0M561.5 569.5h0M554.5 564.9h0M553.8 566.2h0M567.3 563.6h0M557 559.7h0M560.8 562.7h0M567.2 571.8h0M563.3 565.3h0M571 570.5h0M558.2 568.7h0M553.7 567.2h0M543.6 567.8h0M565.1 568.1h0M574.6 569.8h0M572.1 565.4h0M561.9 566.3h0M555.9 570.2h0M572.4 565.8h0M546.4 566.7h0M563.6 563.1h0M569.5 564.5h0M566.6 565.6h0M564 563.7h0M566.2 566.8h0M557.5 566.5h0M533.5 566.9h0M528.3 569.2h0M532.6 567.6h0M530.8 566.3h0M529 565.7h0M534.8 567h0M534.1 565.9h0M526.3 566.4h0M528.7 568.9h0M532.9 567.6h0M537.2 568.3h0M530.6 567.5h0M534.7 568.8h0M526.4 569.3h0M537.8 563.4h0M527 567.7h0M528 565h0M527.3 566.2h0M525.4 569.2h0M529.9 569.9h0M528.7 565.9h0M528.6 567.7h0M534.9 561.5h0M527.6 565.5h0M537.7 568.5h0M529.2 566.5h0M536.5 567.5h0M534.2 570.6h0M525.9 560.6h0M532.8 567.2h0M536.6 568.5h0M526.4 563.8h0M535.4 571h0M535.2 564.3h0M534.4 564.8h0M541.8 540.5h0M556.4 540h0M556.5 544.5h0M562.7 556.5h0M569.5 557.5h0M575 543.5h0" stroke="#b5b5b5" stroke-width="2.2" stroke-linecap="round" fill="none"/>
<path d="M516.3 565.8H537.7M527.7 552.2H531.5M527.7 558.5H531.5M536 552.9H540.2M542.3 565.8H575.3" stroke="#8a2be2" stroke-width="2.1" stroke-linecap="butt" fill="none"/>
<path d="M537.1 547.7h0M536.7 558h0M542.9 551.2h0M556.4 542.5h0M562.7 558.9h0M575.1 546.6h0M573.9 552.9h0" stroke="#8a2be2" stroke-width="2.5" stroke-linecap="round" fill="none"/>
<rect x="539" y="543.3" width="5.6" height="7.9" rx="2.8" fill="#f772b0"/>
<path d="M253.6 608.5V615.6M254.6 611V618.6M255.6 610.6V615.5M256.6 609.3V616.3M257.6 608.7V615.9M258.6 608.5V616.2M259.6 609.5V618.4M260.6 609.2V618.3M261.6 609.2V615.3M262.6 608.7V617.2M263.6 610.3V615.8M264.6 608.8V617.1M265.6 608.6V617.8M266.6 608.5V617.1M267.6 609.2V617.2M268.6 610.4V618.4M269.6 610.3V617.8M270.6 608.5V617.4M271.6 610.7V618M272.6 609.3V615.7M273.6 611V617M274.6 611V618.3M361.5 616.4V624.5M362.5 616.7V625M363.5 615.2V623.6M364.5 616.8V624.7M365.5 617V624.8M366.5 616.3V624.1M367.5 615.9V624.5M368.5 617.6V626.4M369.5 616.8V624.1M370.5 616.7V626.1M371.5 615V624.4M372.5 616.7V622.8M373.5 615.2V623.1M374.5 616.3V623.8M375.5 616.9V623.8M376.5 617.3V622.5M377.5 616.3V625.6M391.5 616.8V621.5M392.5 616.7V621.1M393.5 617.4V623.4M394.5 616.1V622.3M395.5 616.3V622.4M396.5 617.1V622.7M397.5 615.9V623.1M398.5 617.2V623.1M404 616.1V622.1M405 615.7V623.8M406 616.3V624.2M407 618.1V622.6M408 616.2V622M409 617.7V623.3M410 616.8V621.8M411 618.1V624.3M412 617.1V621.2M413 617.5V621.7M414 615.4V621.5M415 617.3V621.2M416 616.7V621.5M417 617.1V623.4M418 615.2V623.8M419 618.1V622.2M420 615.5V620.9M421 617.5V622.6M422 617V623.5M423 615.9V622.5M424 617.4V621.6M425 617.3V621M426 616.1V621.4M427 615.4V623.1M428 618V622.6M429 616.3V621M430 616.6V620.9M431 615.7V620.8M432 616.2V624.3M433 615.5V621.6M434 616.5V621.3M435 617.1V623.9M436 615.6V620.8M437 617V623.1M438 617.6V623.7M439 615.3V622.8M440 617V623.9M441 616.6V621.5M442 617.3V621.4M443 615.5V622.6M444 616V623.7M445 615.1V621.5M446 616.9V623.9M447 615.8V622.2M448 616.1V621.5M449 617.7V621M450 617V621.6M451 616.5V624.3M452 617.7V622.8M453 615.4V623M454 616.5V623.6M455 618.1V624.2M456 616V623.7M457 615.6V621.2M458 618V621.4M459 616.6V624.2M460 615.3V622.3M461 616.2V623.5M462 617.1V624.3M463 615.2V623.4M464 615.3V623.7M465 616.1V622M466 617.3V621.7M467 618V624.1M468 617.2V620.9M469 617.2V621.2M470 616.8V622M471 617.6V622.5M472 616.9V622.1M473 615.6V621.9M474 616.5V624M475 615.1V622.1M476 618.1V624.2M477 616.6V621.6M478 617.8V621.7M479 617.2V621.3M480 618V624.4M481 615.6V621.2M482 616.7V623.7M483 616.6V621M484 617.1V622.2M485 615.3V622.9M486 616.7V623.1M487 618V623.3M488 615.6V623.2M489 617V621.8M490 618.2V621.1M491 617.7V622.4M492 615.7V621.6M493 616.7V623.1M494 616.2V620.9M495 615.3V622.9M496 617.2V621.7M497 616V624.2M498 617.1V622.2M499 616.4V621.4M500 616.9V624.1M501 616.4V623.8M502 617.4V623.9M503 615.7V621.6M516.6 617.3V623.8M517.6 617.2V623.5M518.6 618.2V623.3M519.6 617.8V624.2M520.6 617.8V624.8M521.6 617.2V622.2M522.6 617.7V621.8M523.6 616.7V621.6M524.6 617.1V622.5M525.6 616.6V621.8M526.6 616.9V623.9M527.6 618.2V621.9M528.6 617.8V623.7M529.6 618.1V621.4M530.6 617.6V624.2M531.6 618.4V624.7M532.6 617.4V622M533.6 618.6V622.7M534.6 617.5V622M535.6 618.6V623.2M536.6 618.1V623M537.6 617.5V623.8M542.6 614.8V623.8M543.6 616.6V626.2M544.6 617.2V623.4M545.6 617.1V626M546.6 615V626.4M547.6 614.6V624.2M548.6 615.5V625.7M549.6 616.4V626M550.6 615.6V623.1M551.6 615.9V625M552.6 616.7V626.3M553.6 613.2V624.8M554.6 613.3V625.5M555.6 615V623.5M556.6 613.1V626.4M557.6 615.4V624.4M558.6 617.1V625.3M559.6 613.6V624.4M560.6 616.1V625.2M561.6 613.8V623.5M562.6 616.1V625.3M563.6 617.2V626M564.6 616V626.1M565.6 615.4V623.5M566.6 617.3V623.3M567.6 616.2V625.8M568.6 613.8V625.3M569.6 616V625.4M570.6 614.1V624.3M571.6 617V624.7M572.6 616.4V623.6M573.6 615.6V623.2M574.6 613.4V624" stroke="#b5b5b5" stroke-width="1.4" stroke-linecap="round" fill="none"/>
<path d="M263.9 612.7h0M260.9 611.8h0M264.1 615.8h0M265.3 611.3h0M265.1 610.5h0M261.9 611.1h0M270.3 615.1h0M274.7 610.9h0M265.9 615.4h0M270 612.9h0M270.2 610.5h0M261.7 611.2h0M262.1 613.7h0M257.6 613h0M264.8 612.9h0M269.6 613h0M270 614.9h0M255.8 616.1h0M264.5 611.2h0M260.4 616.1h0M269.7 616.1h0M257.3 612.3h0M265.3 612.9h0M259.3 615.1h0M263.1 610.9h0M258 612h0M261.9 612.1h0M259.5 613.9h0M267.1 615.1h0M255.8 611.3h0M264.8 611.8h0M263.7 612.4h0M270.8 612.7h0M264.3 613.1h0M255.3 610.6h0M258.1 609h0M253.3 614.2h0M275.4 611.4h0M266.2 609.2h0M260.5 611.2h0M273.4 611.2h0M255.1 613.9h0M270.8 611.6h0M260.4 609.7h0M275.1 613.7h0M267.6 615.2h0M268.9 613.9h0M263.8 611.2h0M275.4 607.3h0M262.6 613.8h0M264.3 609.6h0M259.6 612.8h0M267.3 613.9h0M274.9 608.8h0M263.9 610.5h0M272.3 610.8h0M271.1 608.9h0M271.9 609.2h0M254.8 611.7h0M262.1 614.4h0M267.1 614.6h0M263 609.4h0M264.6 614.2h0M273.6 611.1h0M253.7 612.8h0M261.4 612.1h0M264.4 613.8h0M272.7 613.4h0M263.8 612.2h0M264.4 614.5h0M272.1 609.4h0M273.3 612.5h0M267.3 610.6h0M275.4 609.1h0M272.1 600.6h0M272 602.8h0M276.1 600.5h0M276.3 601.8h0M272.4 603.3h0M273.4 601.8h0M273.4 599h0M275 600.8h0M275.9 602.5h0M275.6 600.9h0M273 605.7h0M276.5 604.3h0M272.8 604.3h0M276 602.9h0M274.6 609.2h0M278.9 607.9h0M279 610h0M273.6 606.9h0M276.6 612.9h0M279.2 613.4h0M273.6 608h0M276.4 612.7h0M273.8 609.6h0M276.6 610.9h0M275 610.1h0M274.3 609.4h0M275.5 609.9h0M278.9 608.3h0M276.3 608h0M275.2 607h0M274.9 610.7h0M278.6 608.4h0M278.2 600h0M277.1 600.3h0M282.9 601.1h0M284.5 597.4h0M282.2 602.1h0M282.3 599.6h0M284.2 598.8h0M282.9 602.5h0M278.6 599.9h0M277.6 599h0M281.4 599.3h0M281.2 599.4h0M283.2 602.2h0M277.7 601.3h0M282 602.4h0M278.1 600.2h0M280.5 600.2h0M280.4 598.5h0M278.2 602h0M279.6 604.4h0M282.8 597.7h0M276.8 602.8h0M281.1 598.7h0M290.1 614.4h0M283.5 611.1h0M287.6 611.1h0M288.3 612h0M286 610.7h0M287 609.5h0M289.6 612.6h0M285 608.8h0M283.1 607.9h0M289.3 608.3h0M289.7 609.2h0M288.1 605h0M287.5 614.2h0M286.2 613.5h0M289.8 611h0M283.2 612h0M283.6 609.3h0M287.7 612h0M288.7 608.9h0M285.6 609.3h0M289.8 607.9h0M287.2 602.6h0M290.1 598h0M292.6 602.9h0M295.4 603h0M292.3 603.6h0M292.2 603.5h0M293 605h0M288.3 602.6h0M291.6 601.5h0M288.5 605.3h0M295.2 604.7h0M288.7 601.5h0M289.7 602.7h0M293.3 603.4h0M296.4 599.7h0M291.2 602.7h0M295.4 603.6h0M291.2 603.5h0M294.8 605.9h0M293.8 602.6h0M292.2 602.2h0M292.7 612h0M290.4 605.7h0M289.8 605.7h0M291.8 602.4h0M290.7 604.7h0M290.2 600.5h0M290.5 606.1h0M291.8 602.4h0M300.3 618.4h0M294.9 616.3h0M296.3 619.7h0M295.8 617.9h0M300.4 610.2h0M297.6 615.9h0M298.3 618.4h0M294.8 617.1h0M295.8 618.1h0M294.2 619.2h0M296.7 621h0M297.8 616.4h0M300.6 619.1h0M296.7 617.8h0M293.6 615.5h0M294.2 616h0M295.3 619.3h0M297.3 620.1h0M300.2 616h0M294.6 619.4h0M298.2 618.2h0M301.1 613.9h0M296.3 618.4h0M298.2 607.8h0M298.3 605.3h0M302.5 609.2h0M299.9 602.6h0M302.8 605.3h0M299.5 605.4h0M300.7 606.2h0M298.7 607.2h0M302.1 604.3h0M302.8 603.8h0M303.7 608.3h0M304.8 604.8h0M301.2 609.7h0M298.2 608.2h0M302.8 605.4h0M304.5 605.1h0M298.3 605.1h0M302.3 606.9h0M298.4 606.4h0M306.9 614.1h0M303.6 615.6h0M305 616.7h0M307.3 616.3h0M303.3 616h0M306.4 617.8h0M304.9 613.4h0M306.5 617.4h0M302.2 614.1h0M305.8 615.6h0M307 611.7h0M307.1 613.8h0M304.6 616.5h0M305.9 613.2h0M307.3 616.8h0M304.9 613.4h0M304.9 595h0M306.4 598.5h0M309.8 598.5h0M305.6 600h0M305.3 599.2h0M305.6 597.5h0M306.4 596.9h0M307.4 597.2h0M308.6 597.7h0M310.2 598.6h0M307.2 598.7h0M310.3 599h0M305.7 599.8h0M310.1 599.6h0M306.3 596.4h0M305.1 600h0M313.9 607.4h0M309.4 608.5h0M310.5 608.9h0M308.1 609.3h0M308 609.2h0M313.3 608.7h0M313.8 610.8h0M312.2 608.1h0M310.8 604.7h0M311.2 606.5h0M308.9 608.5h0M312.5 607h0M311.5 608h0M313.5 606.7h0M311.7 606.1h0M311.8 605.5h0M308.3 614.2h0M307.3 609h0M313.3 607.6h0M311.7 610.5h0M308.6 608.3h0M311.3 603.3h0M312.4 602h0M312.1 603.6h0M314.6 600.9h0M315.3 603.8h0M315.3 600.4h0M312.7 600.2h0M314.2 602.4h0M314.5 602.4h0M315 603.8h0M312.8 605h0M314.4 600.7h0M315.4 602.8h0M315 600.8h0M315.9 598.9h0M313.2 600.4h0M317.6 600.3h0M314.4 596.4h0M315.6 598.6h0M315.1 599.2h0M317.9 601.3h0M313.4 601.4h0M315.8 596.1h0M317.2 597.8h0M316.7 596.2h0M317.7 596h0M317.6 593.2h0M316.1 598.4h0M318.3 597.6h0M316.4 600h0M321.6 600.8h0M321.2 608.2h0M318.2 600.8h0M318 603.2h0M314.3 601h0M319.2 597.6h0M319.3 604.5h0M318.9 604.6h0M319.3 602.8h0M314.2 603.1h0M315.9 603h0M318.2 602.8h0M318 605.2h0M321.3 601.1h0M321.3 602.2h0M319.5 598.4h0M321.4 597.7h0M319.5 602.8h0M317.5 600.8h0M315.5 602.3h0M317.7 599.5h0M318.6 600.4h0M314.5 605.1h0M326.1 596.8h0M322.4 599.3h0M324.3 596.9h0M321.9 597.7h0M326.4 594.7h0M326.1 595.9h0M322.6 598.6h0M326.1 599.2h0M324.3 597.6h0M321.7 598.8h0M326.1 599.8h0M323.4 603.3h0M324.2 598.4h0M325.7 598.6h0M323.8 602.8h0M332.8 599.7h0M330.3 603.9h0M326 605.7h0M328.3 605.7h0M327.7 607.4h0M330.6 602.9h0M326 604.1h0M331.9 602.2h0M326.9 606.2h0M332.7 603.8h0M328.9 601.1h0M329.2 603.1h0M327 603.3h0M327.7 604.3h0M330.5 600.6h0M327.6 601.8h0M326.1 597.6h0M327.6 602.1h0M326.4 600.7h0M328.7 600.9h0M328.8 603h0M331.7 595.6h0M330.3 596.1h0M330.1 601.1h0M334.1 601.7h0M330.5 600.4h0M334.2 596.5h0M336.6 602.7h0M332.7 606.4h0M332.6 598.1h0M331.3 599.8h0M333.4 600.6h0M333 600.1h0M331.6 599.3h0M330.8 598.1h0M333.8 597.8h0M331.4 596.8h0M334.4 593h0M336 598.4h0M335.4 598.5h0M335.5 601.1h0M335.9 597.9h0M330.4 596.4h0M338.2 596.4h0M338.2 592.2h0M335.5 596.3h0M335.1 596.2h0M338.4 595.4h0M335.1 593.7h0M334.8 595.6h0M338.8 598.3h0M337.4 593.6h0M335.3 594.9h0M339.1 593.5h0M335.1 595.5h0M335.8 595.3h0M335.1 593h0M333.9 591.4h0M337.7 593.9h0M272.8 614.1h0M272.8 613.7h0M270.9 609h0M263.8 613.3h0M254 615.4h0M271.9 615.8h0M271.3 615.8h0M255.9 615.7h0M258.4 612.6h0M256.7 616.2h0M267.6 614.4h0M263.9 619.3h0M262.7 614.3h0M259 611.8h0M256.1 613.6h0M269.3 615.9h0M261.1 613.6h0M255 612.2h0M260.1 609.8h0M257.8 617.5h0M258.1 615.2h0M274.1 615.7h0M273.5 614.2h0M264 614.9h0M266.1 616.1h0M270 615.8h0M253.5 613.4h0M270.4 610.4h0M264 611.2h0M256.4 614.8h0M264.5 614.2h0M254.5 616.3h0M256.9 617h0M258.6 615.2h0M265.4 612.3h0M256.2 614.1h0M266.3 612.4h0M264.4 610.7h0M266 616.2h0M270.7 614.4h0M261.6 616.2h0M271.4 615.7h0M255.6 616.3h0M272.3 616h0M261.9 614.2h0M255.5 618.4h0M259.9 610.1h0M272 611.3h0M260.5 613.9h0M256.1 616.5h0M259.4 614.8h0M259.3 607.2h0M255.1 613.7h0M270.6 607.6h0M262.4 613.9h0M269.5 609.9h0M264.1 618.5h0M258.6 614.1h0M262.8 616.2h0M271.1 615.4h0M257 597.1h0M258 601.1h0M259 605.1h0M260.5 608.1h0M263 610.1h0M254.5 620.6h0M263.5 620.1h0M267.5 620.6h0M281 589.6h0M279.5 591.1h0M337.5 591.6h0M329.5 617.1h0" stroke="#b5b5b5" stroke-width="2.2" stroke-linecap="round" fill="none"/>
<path d="M253.3 612.6H275.2M272 601.8H276.2M274 609H279.3M277.2 600.1H284M283.5 611.1H289.7M287.6 604.3H296M293.9 618.2H300.7M298.7 605.7H304.3M302.2 615.7H307M305.3 598.6H309.9M307.4 608.4H313.6M311.6 602.8H315.7M313.2 597H317.8M314.7 602.2H321.5M322 598H326.5M326.1 603.2H332.4M329.9 599.1H336.5M334.4 594.5H339" stroke="#8a2be2" stroke-width="2.1" stroke-linecap="butt" fill="none"/>
<path d="M253.7 603.2h0M271.6 605.9h0M280.4 592.4h0M283 595.5h0M303.2 597h0M321.5 613.2h0" stroke="#8a2be2" stroke-width="2.5" stroke-linecap="round" fill="none"/>
<rect x="253.8" y="590.3" width="3.8" height="6.7" rx="1.9" fill="#f772b0"/>
<rect x="318.3" y="592.8" width="3.8" height="6.3" rx="1.9" fill="#f772b0"/>
<rect x="323.5" y="599.1" width="3.8" height="9.3" rx="1.9" fill="#f772b0"/>
<path d="M357.8 596h0M358.9 595.9h0M359 594.8h0M355.7 596h0M357.4 596.2h0M358.7 594.9h0M356.5 595.2h0M357 596h0M359.4 596.5h0M362 606h0M362.1 606.5h0M359 606.2h0M357.8 609.7h0M359.5 607.4h0M358.8 607.5h0M361.9 606.1h0M358.9 607.3h0M362 607.2h0M360.8 605.1h0M360.9 607.2h0M362.3 610.7h0M359.3 606.8h0M368.6 619.7h0M368.2 616.6h0M363.3 624.4h0M367.9 618.3h0M373.2 622.1h0M378.4 621.4h0M371.3 621.4h0M362.6 624.2h0M365.2 616.4h0M370.4 622.4h0M363.3 619.3h0M365.1 623.9h0M363.3 621.2h0M361.6 620h0M369.6 619.2h0M367.7 618.6h0M371.6 622.4h0M369.9 620.9h0M371.3 617h0M372.6 617.3h0M371.9 622.1h0M362.7 619.9h0M366.2 617.7h0M370.3 621.3h0M372.4 618.7h0M377.7 618.8h0M365.9 617.9h0M363.1 617.5h0M363.4 618.3h0M367.6 618.9h0M370.3 618.7h0M368.4 621.7h0M376.6 621.1h0M374.9 619.9h0M366.6 620.5h0M365 617.7h0M375.2 622.1h0M372.1 621.9h0M368.7 621.4h0M373.5 618.5h0M368.2 619.4h0M376 619.9h0M374 624.1h0M376 617.5h0M362.5 621.9h0M377.3 620.6h0M364.8 619.4h0M364.1 624.2h0M380.3 604.3h0M382.7 607.1h0M381.7 604.9h0M380 607.7h0M377.8 605.3h0M380.6 604.6h0M381.8 606.8h0M382.6 606.6h0M383.9 606.2h0M380.5 606.8h0M376.1 608.2h0M383.3 606.3h0M383 605.3h0M377 608.6h0M383.8 606.7h0M378.7 606.3h0M384 607.4h0M381.8 604.1h0M376.8 605.5h0M383.7 607h0M383.5 599.8h0M384.7 597.3h0M386.5 598.9h0M384.9 597.3h0M387.4 596.5h0M385 595.2h0M385.6 597.3h0M383.6 595.7h0M385.9 595.2h0M383.9 602h0M384.6 596.7h0M387.3 609.6h0M391 609.2h0M385.9 606.9h0M391.9 609.5h0M388.1 607h0M389 610.5h0M391.5 607.1h0M389 611.9h0M390.8 605.4h0M388.2 606.7h0M387.1 609.5h0M392.3 611.1h0M389.3 602.6h0M390.7 606.9h0M389.8 608.9h0M388 604.6h0M389.4 608.9h0M391.3 618h0M394.5 622.2h0M398.5 620.7h0M395.3 621.5h0M395.2 619.3h0M394.7 619.2h0M395.3 619.4h0M394.8 621h0M395.3 620h0M394.3 619.8h0M393.1 617.4h0M390.8 621.2h0M398.2 619.8h0M393.6 619.1h0M397.5 617.9h0M395.8 619.3h0M397.4 620h0M392.2 618.7h0M396.6 619.1h0M392.9 618.9h0M399.2 621.5h0M399.5 618.1h0M401.6 589h0M403.4 584.8h0M400.3 585.5h0M401.5 590.4h0M403.3 586.4h0M402.2 588.6h0M401.1 587.6h0M400.4 589.4h0M403.3 588.8h0M401.7 585.3h0M405.2 603.3h0M403.4 598.9h0M403.5 601.1h0M403.6 601.8h0M403.1 600.8h0M406.2 601h0M404 600.6h0M404.4 601.5h0M402.8 602.1h0M404.5 599.8h0M401.7 600.3h0M406.4 616.2h0M459.2 616h0M425.5 619h0M408 622h0M426.7 619.5h0M431.4 619h0M452.2 620h0M454.1 620.3h0M483.1 621.6h0M414.7 619.1h0M489.5 616.7h0M497.6 617.3h0M405.2 619.5h0M423 619.8h0M464.3 618.2h0M488.5 619.3h0M431.9 620.2h0M433.5 619.8h0M420.9 619.8h0M465 620.6h0M416.3 617h0M449.3 620.7h0M456 616.7h0M434.9 621.6h0M436 620h0M498.8 616.3h0M475.6 618.4h0M498.3 618.5h0M478 621.8h0M448.1 620.3h0M468.5 616h0M447.4 617.7h0M473.3 620h0M497.6 618.8h0M498.3 617.6h0M484.3 615.7h0M484 617.2h0M457.7 618.5h0M491.2 620.8h0M477 616.7h0M486.1 618.4h0M405.5 617.9h0M423.4 619.6h0M452.4 620.6h0M492 623.8h0M429.5 621.6h0M432.5 617.1h0M419.7 618.7h0M489 617.9h0M481.6 622.8h0M503.1 620.1h0M498.1 622.4h0M477.8 617.9h0M497.6 619.9h0M491.6 616h0M453.9 617.9h0M489.1 617.6h0M439 618.8h0M415.6 616.3h0M499.8 614.7h0M450.9 618.4h0M439 622.2h0M409.4 619.2h0M457.2 622.8h0M491.9 618.4h0M489.1 620h0M463.6 616.2h0M452.5 620h0M419.5 617.8h0M497 618.8h0M472.7 618.8h0M477.6 620.3h0M405.1 617.5h0M425.7 621.5h0M429.2 621.1h0M453.9 620.4h0M443.9 615.1h0M493.4 619.5h0M446.7 620.9h0M482.1 618.9h0M450.7 617.2h0M496.9 621h0M481.7 619.4h0M425.5 622.7h0M435.8 617.3h0M420.9 622.3h0M483 619h0M411.3 618.7h0M439.5 624.1h0M427.2 619.8h0M462.9 623h0M425.7 623.2h0M419.7 616.6h0M496.8 619.8h0M444.4 622.3h0M461.6 618.2h0M424.3 619.1h0M410 619.4h0M467.2 620.5h0M458.5 620.1h0M471 619.7h0M426.7 618.9h0M414.9 619h0M446.8 618.3h0M431.9 618.4h0M411.8 621.9h0M452 619.1h0M455.6 616.1h0M440.9 616.8h0M482.6 619.3h0M417.8 617.2h0M463.1 619.2h0M423.3 620.7h0M416.9 621.6h0M406.8 615.5h0M449.4 617.2h0M498.3 618.4h0M405.7 619.7h0M464.7 618.5h0M489.2 619.1h0M442.6 620.8h0M480.2 618.5h0M470.9 617h0M452.6 620.5h0M456 616.8h0M491 623.7h0M497.9 615.4h0M427.7 621.2h0M423.6 619.4h0M451.1 618.9h0M468.6 618.2h0M415.9 619.9h0M444.9 618.3h0M437.5 620.6h0M413.8 624.9h0M478.7 617.8h0M414.5 619.4h0M412.1 620.3h0M437 619.5h0M496.7 618.4h0M436.6 618.9h0M484.7 617.9h0M425 620.6h0M432.2 617.4h0M494.7 622h0M422.8 621.2h0M475.2 618.6h0M448.5 619.6h0M435.8 622.3h0M440.2 620.3h0M479.7 619.9h0M475.8 618.2h0M403.4 618.8h0M496.9 616.4h0M498.4 617.8h0M474.9 619.8h0M444.3 621.7h0M495.9 621.2h0M404.2 619.7h0M410.6 618.7h0M487.7 618.2h0M481.9 619.1h0M494.6 617h0M436 621.1h0M422.2 621.8h0M446.3 619.4h0M437.4 616.1h0M485.6 618.6h0M426.2 619.1h0M496.7 614.7h0M456.5 616.7h0M495.8 620.8h0M481.7 622.9h0M489.6 623.2h0M471.3 621.6h0M458.7 617.9h0M405.4 617.5h0M470.4 616.2h0M404.5 617.7h0M417.4 619.2h0M424.4 616.2h0M468 620.8h0M480.2 620.7h0M447.9 622.2h0M416.4 621.2h0M504 618.5h0M499.5 616.6h0M437.6 621.3h0M497.5 620.7h0M444.8 619h0M454.1 617.1h0M491.1 621.3h0M449 624.4h0M424.9 619.8h0M404.9 618.3h0M458.3 617h0M415.7 620.7h0M453 620.3h0M484.5 617h0M415.3 615.5h0M437.3 618.4h0M462.5 617.1h0M491.1 620.2h0M477.4 619.2h0M428.6 619.9h0M444.6 617.5h0M476.7 623.7h0M440 617.5h0M411.8 619.7h0M427.5 617.4h0M490.4 617.5h0M447.3 620.4h0M431.1 620.8h0M440.2 619.3h0M410 616.2h0M453 616.4h0M432.4 620.9h0M427.2 620.7h0M421.4 619.6h0M483.8 618.7h0M436.1 620.6h0M494.9 621.4h0M429.4 617.5h0M425.5 618.2h0M475.5 619.2h0M415.1 621.5h0M472.5 617.4h0M442.5 619.6h0M485 617h0M490.7 621.8h0M448.1 617.6h0M417.3 619.4h0M460.8 618.3h0M407 618.4h0M499.8 621.1h0M419 619.3h0M417.6 618.8h0M448.2 619.5h0M406.9 615.9h0M411.7 617.4h0M414.2 620.6h0M445 619.4h0M427.6 618h0M428.7 622.8h0M456.9 620h0M462.7 621h0M494.5 614h0M434.3 620h0M454.4 616h0M460.5 623h0M435.6 618.3h0M440.9 616.7h0M452.7 617.9h0M500.5 621.6h0M452.2 620.1h0M474.2 619.6h0M493.2 620.5h0M460.1 620.5h0M414.6 620.5h0M458.1 613.7h0M466.8 618.5h0M497.7 619.6h0M499.9 620.8h0M445.6 620h0M468.1 619.7h0M424.9 622.8h0M474.3 616h0M446.1 618.4h0M481.9 619.5h0M414.8 618.7h0M459.4 618.8h0M427 620.3h0M478.7 621.3h0M478.8 618.5h0M454.9 614.7h0M475.3 618.2h0M474.9 619.4h0M420.2 619h0M501.6 616.1h0M416.5 617h0M443.3 617.7h0M368.7 620.4h0M361.5 620.2h0M364.4 616.6h0M365 618.1h0M374.1 618.9h0M371.2 620.4h0M364.9 618.7h0M377.1 619.6h0M378 617.1h0M362.5 619h0M366.6 619.2h0M364.9 619.4h0M364.5 620.8h0M372.7 621.9h0M377.6 623.2h0M374.4 624.2h0M371.1 623.1h0M370.4 622.5h0M367.5 613h0M375.1 621.3h0M376.1 623.8h0M374.5 616.6h0M371.1 625.3h0M376.2 621.3h0M367.3 617.1h0M363.7 621.4h0M362.8 619.2h0M366.5 621.6h0M373 621.9h0M366.8 622h0M375.8 617.9h0M375.1 619.9h0M372.7 624.1h0M364.3 626.1h0M361.7 621.6h0M364.6 624.1h0M372.2 624.4h0M369.9 612.5h0M365 620.2h0M375.2 619.6h0M372.9 622.5h0M368.3 616.2h0M362.4 618h0M367.9 615.6h0M374.4 623.4h0M368.7 616.1h0M373.6 623.4h0M362.2 622.4h0M366.2 614.7h0M372.6 617.9h0M362.6 620.5h0M370.4 619.8h0M372.1 617.1h0M364.5 622.6h0M369.7 615.9h0M363.3 623.3h0M365.6 620.2h0M362.1 617.4h0M370 626.5h0M372.8 617.9h0M364.2 621.3h0M370.8 618.9h0M369.2 616.8h0M371.2 622.3h0M375.7 626.9h0M364.2 623.2h0M362.1 616.6h0M374.2 621.2h0M364.8 617.9h0M369.5 621.9h0M373.1 620.6h0M367.7 614.9h0M374.7 624.1h0M366.4 621h0M372.5 620.5h0M370.6 623.9h0M371.6 619.9h0M374.7 616.7h0M367.4 620h0M369.7 619.2h0M373.8 616.9h0M367.7 618h0M370.8 618h0M374.2 620.8h0M365.1 620.7h0M427.1 621.4h0M449.2 622.1h0M449 619.6h0M495.8 618.1h0M481.9 619.3h0M489.2 623.7h0M404.2 617.1h0M437.2 622.8h0M421 618.9h0M475.7 621.5h0M454.1 615.2h0M438.1 625.4h0M458.5 625.5h0M446 615.1h0M442.2 617h0M458.1 617.3h0M458.7 620h0M459.6 620.9h0M427 618.7h0M439.6 619.6h0M420.1 613.8h0M421 619.8h0M424.9 618.3h0M413.1 621.2h0M412.2 617.2h0M405 614.8h0M479.9 620.6h0M479 615.3h0M413.5 618h0M455.5 624.3h0M481.4 619.2h0M493 624.5h0M420.7 618.4h0M408.9 610h0M427.5 622.8h0M439.6 617.2h0M420.8 620h0M503.1 618.9h0M407.7 617.9h0M462.4 622.1h0M485.5 614.2h0M436.2 622.5h0M439.4 621.7h0M453.2 619.3h0M410.8 620.4h0M489.6 616.4h0M471 618.7h0M438.8 619.8h0M452.4 617.3h0M427.7 621.3h0M426.2 623.5h0M440.8 617.2h0M486.1 622.7h0M431.7 621.2h0M432.8 616h0M433.4 619.4h0M428.9 615.6h0M495.6 622.5h0M492.4 618.6h0M408.1 612.7h0M491.5 618.9h0M424.7 619.9h0M489.6 618.8h0M435.5 618.5h0M496 626h0M492.8 619.2h0M496.4 621.5h0M429.4 617.4h0M458.4 622.6h0M431.7 620.2h0M424.8 615.9h0M452.1 621h0M415.2 621.2h0M461.7 619.2h0M487.2 618.2h0M492.2 616.9h0M413.4 618.1h0M454.1 619.1h0M433.6 620.8h0M422.3 616.9h0M421.4 621.5h0M489.8 621.6h0M495.1 619.4h0M467.2 618.3h0M429 620.3h0M480.9 620.3h0M410.6 620.9h0M441.1 617.7h0M494 620.6h0M488.9 621.9h0M467.1 619.5h0M485.4 620.6h0M465.7 621h0M432.2 618.9h0M473.7 616.5h0M434.2 626h0M415.8 618.3h0M442.2 619.5h0M497.1 617.9h0M470.1 617.1h0M486.2 625.5h0M493.7 621.7h0M445 620.6h0M458.7 623.3h0M415.4 616.9h0M463.4 617.5h0M406.5 616.7h0M489.8 618.6h0M475.3 618.7h0M427 616.1h0M486.7 619h0M456.7 625.9h0M444.9 617.1h0M454.2 621.2h0M419.6 618.8h0M459.9 619.8h0M415.5 619.5h0M454.6 620h0M407.3 615.6h0M416.4 619.9h0M437.7 618.5h0M435.1 622.1h0M440.9 619.7h0M495.7 619h0M494.2 616.5h0M476.8 616.1h0M446 620h0M464.1 620.5h0M471.6 617.6h0M433.2 612.1h0M463.7 618.6h0M410.4 624.6h0M464.2 620.7h0M501 618h0M445.4 621.6h0M494.1 619.3h0M439.7 621.9h0M461.2 614.3h0M478.2 619.5h0M485 613.7h0M466.8 618.8h0M429.4 616h0M406 620.6h0M446 618.8h0M422.6 619.6h0M458 621h0M416.3 621.7h0M416.9 616.7h0M424.1 619h0M444.6 612.7h0M406.1 619.3h0M440.6 622.8h0M476.5 626.4h0M412.4 621.9h0M468.3 614.1h0M446.7 619.2h0M440 615.9h0M472.1 624.1h0M438.9 617.2h0M414.1 620.6h0M499.3 623.5h0M455.4 614.3h0M409.4 620.9h0M451.5 620.4h0M434.7 624.8h0M448.1 618.2h0M435.5 617.6h0M446.9 621.5h0M413.8 621.5h0M503.4 615.9h0M433.4 615.2h0M445.6 621.2h0M492.5 619.3h0M475.5 617.3h0M448.1 621.1h0M428.1 618.7h0M435.4 620.6h0M488.7 620h0M458.1 620.6h0M467.4 615.2h0M443.3 621h0M492.9 617.8h0M410.9 614.2h0M456.7 615h0M440 616.7h0M420.3 619.8h0M446.4 620.3h0M457.9 622.3h0M460.4 619.3h0M411.7 619h0M440.7 623.3h0M475.2 621.4h0M424.8 617.4h0M438.4 618.8h0M468.4 618.3h0M409.6 619.5h0M462 621.5h0M457 616.4h0M456.7 615h0M458.4 619.3h0M445.5 619.2h0M451.4 622h0M456.9 621.9h0M496.6 620.3h0M446.1 619.7h0M500.3 615.7h0M459.5 622.1h0M499 621.4h0M500.5 618h0M468.4 617.4h0M412.9 620.6h0M435.5 615h0M481.4 623.9h0M488 616.4h0M473.2 616.2h0M449.3 619.4h0M434.1 618.3h0M449.6 619.6h0M472.7 618.1h0M492.8 624.6h0M497.2 614.8h0M414.7 617h0M420.2 621.3h0M405.5 621h0M439.3 621.8h0M413.6 617.4h0M457.9 616.4h0M419.3 616.8h0M430.2 617h0M486.2 621.4h0M452.2 618h0M442.4 616.5h0M413.9 624.4h0M475.7 617.3h0M462.4 620.1h0M409.6 617.7h0M454.7 618.6h0M432.7 620.6h0M500.7 619.4h0M430.4 618.5h0M481.6 618.4h0M460.3 617.7h0M493 625.5h0M433.5 619.8h0M425 616.5h0M417.4 619.9h0M428.5 618.8h0M411.3 617.4h0M448.8 614.3h0M469.2 618.8h0M468.9 622.1h0M461.3 617h0M464.9 615.5h0M449 621.5h0M498.4 614.6h0M418.1 616.1h0M476.4 620.1h0M441.2 622.5h0M406.9 620.6h0M434.9 616.1h0M420.5 594.3h0M409 613.1h0M416 611.6h0M421 612.1h0M386.5 589.6h0M391.5 590.1h0M400 579.6h0" stroke="#b5b5b5" stroke-width="2.2" stroke-linecap="round" fill="none"/>
<path d="M355.8 594.9H359.1M357.5 607.8H362M361.2 619.9H378.3M376.2 606.3H383.5M383.5 596.6H387.6M386.2 607.8H392.4M391.2 619.4H399M400.7 587.6H404.3M401.6 600.7H405.7M403.7 619.4H504" stroke="#8a2be2" stroke-width="2.1" stroke-linecap="butt" fill="none"/>
<path d="M361.2 595.9h0M357.9 599.5h0M361.2 604.9h0M358.5 617.8h0M387.2 591.8h0M385.1 601.8h0M391.8 592.8h0" stroke="#8a2be2" stroke-width="2.5" stroke-linecap="round" fill="none"/>
<rect x="381.8" y="590.3" width="3.4" height="7.1" rx="1.7" fill="#f772b0"/>
<rect x="397.5" y="582.4" width="3.8" height="8.3" rx="1.9" fill="#f772b0"/>
<path d="M524.6 619.8h0M528.7 620.2h0M537.6 621.2h0M521.1 619.7h0M531.8 621.6h0M535.3 620.2h0M518.1 622.2h0M537 619.1h0M535.7 623.4h0M517.9 618.6h0M532.7 620h0M519.7 620.3h0M533.2 616.7h0M536.3 620h0M533.4 619.6h0M519.8 621.3h0M537.7 618.8h0M527.5 618.6h0M519.5 620.1h0M532.6 620.7h0M527.4 617.5h0M536.9 614.3h0M532.8 618.1h0M529.1 619.2h0M526.8 622.8h0M529.2 613.4h0M524.6 619.4h0M530.6 619.2h0M526.7 621.3h0M536.2 621.8h0M534.9 622.4h0M535.2 621.9h0M516.8 616.1h0M537.9 621.8h0M520.3 621.8h0M523.9 619.2h0M537 615.7h0M524.4 621.5h0M523.9 620.5h0M529.5 618.2h0M533.7 620.8h0M524.6 620.4h0M519.5 617.5h0M518.2 622.2h0M531.1 618.9h0M533.9 619.9h0M518.6 617.7h0M538 619.7h0M529.8 620.2h0M532.6 620.1h0M529.1 620.4h0M520.8 619.4h0M525.9 623.1h0M535.8 616.1h0M520.3 620.1h0M519 623.5h0M517.6 621.9h0M518.8 624.2h0M520.3 620.6h0M518.1 616.6h0M534.4 614.5h0M531.2 619h0M538.1 620.1h0M532.6 624.1h0M532.9 617h0M518.7 620.6h0M532.1 619.4h0M522.9 621h0M528 606.9h0M530.2 604.6h0M531.7 608h0M528 610.5h0M528.7 605.6h0M527.5 611.6h0M529.8 607.3h0M528 608.1h0M529 606.9h0M531 606.4h0M527.3 607.3h0M529.4 604.5h0M530.4 613.7h0M529.7 610.6h0M531.7 612.9h0M531.9 615.2h0M531.6 615.5h0M531.6 614h0M530.6 611.2h0M531.4 614.7h0M530.1 614.7h0M530.4 612.3h0M529 610.6h0M531.3 615.7h0M539.1 608.1h0M536.7 610.1h0M535.5 609.7h0M538 607.9h0M536.3 604.1h0M539.8 615.4h0M537.3 604.1h0M538.5 610.1h0M537.5 609.1h0M536.7 609.6h0M539 607.7h0M538.1 608.1h0M539.3 604.8h0M556.6 620.5h0M563.5 618.7h0M542.2 617.5h0M553.9 619.3h0M558.5 618.7h0M568.4 621.7h0M548.1 619.4h0M569.9 619h0M573.1 620.9h0M575.3 616.8h0M563.3 619.4h0M542.1 617.7h0M551.6 620h0M567.9 617.6h0M568.8 622h0M545.4 623.2h0M575 625.4h0M544.7 618.9h0M563 620.1h0M550 621.2h0M549 619.5h0M548.4 619.9h0M559 619.2h0M571.8 621.7h0M543.9 623.9h0M560.7 620.7h0M571.1 616.7h0M562.9 624.7h0M566.6 616.9h0M567.6 621.6h0M549.2 623.5h0M565.1 621.1h0M572.9 620h0M569.8 618.9h0M560.6 623.1h0M550.9 619.8h0M554.5 619.1h0M556.3 619.5h0M564.7 621.2h0M560.1 617.5h0M574.6 621.8h0M565.1 620.5h0M564.7 620.7h0M556.7 620.1h0M572.3 619.8h0M557.4 618.5h0M556 619.6h0M550.5 621h0M545.8 623.5h0M571.6 617h0M554.8 619.8h0M546.2 621.7h0M551.2 621h0M549.8 618.4h0M559 617.4h0M569.7 622.2h0M543 618h0M541.8 618.8h0M556.1 620.2h0M554.2 619.2h0M544 615.5h0M575.1 619.7h0M543.8 620.4h0M562.4 621.6h0M562.4 621h0M570.1 618h0M572.7 615.8h0M550 619.9h0M572 618.3h0M548.6 617.2h0M550.6 622.3h0M571.4 621.9h0M559 619.2h0M566.9 622.3h0M555.2 617.2h0M551.3 621.3h0M570.7 618h0M543.7 617.2h0M562.5 621.4h0M571.7 619h0M573.4 619.7h0M562.4 621.1h0M550.9 620.4h0M549.1 616.8h0M542.1 612.9h0M563.5 617.6h0M552.8 619.8h0M563.4 616.8h0M550.5 620.5h0M555.8 620.1h0M558.3 613.5h0M571.4 616.3h0M547.7 619.8h0M570.4 620.2h0M541.8 621.3h0M571.9 621.3h0M550.3 620.3h0M564.5 620.3h0M545.4 622.7h0M549.7 617h0M556.6 621.2h0M557.6 620h0M557.6 620.2h0M547.9 619.6h0M564.8 619.3h0M551.6 619.2h0M552.6 615.9h0M572.3 617.6h0M561.7 619.4h0M545 621.2h0M546.8 624.7h0M564 620.1h0M555.4 615.1h0M570 626.4h0M551.7 628.1h0M551.1 621.1h0M551.6 622.4h0M552 620.9h0M572.5 623.4h0M561.2 614.8h0M550.6 618.7h0M546.4 627.3h0M565.8 617.5h0M550.3 620.2h0M571.6 614.7h0M568.9 619.6h0M551.2 619.6h0M563 622.7h0M573.3 622.9h0M555 617.6h0M566.8 617.7h0M548.4 619.4h0M567.5 625.6h0M543.8 618.3h0M567.4 621.9h0M574.5 623.7h0M563.1 620.9h0M560.5 624.9h0M548.9 619.9h0M566.3 618.9h0M551 620.2h0M556.4 623.9h0M563.8 619.7h0M544.9 620.5h0M568.1 622.7h0M573.2 615.1h0M551.6 622h0M550.4 621.3h0M565.7 618.3h0M548.1 617.3h0M549.1 620.7h0M574.6 624.4h0M574.7 619.6h0M562.7 618.6h0M571.8 624.3h0M572.1 621.2h0M543.9 619.2h0M552.5 618.3h0M561.6 621.4h0M558.4 628.9h0M543.1 623.7h0M572.5 616.4h0M545 619.4h0M547.3 622.2h0M547.9 617.5h0M554.5 620.7h0M554.5 623.5h0M552.2 617.6h0M562.3 621h0M569.8 619.2h0M543.3 622.7h0M546.3 621.2h0M545 624.9h0M543.6 619h0M549.5 618.6h0M570.1 621.6h0M560.7 616.4h0M546.6 627.1h0M565.1 622.2h0M550 622.8h0M567.1 619.3h0M548.4 623.1h0M563.7 621.2h0M570.3 618.4h0M567.5 620.3h0M569.5 615.4h0M560.6 623.4h0M573.8 617.8h0M545.1 616.1h0M558.8 621.1h0M551.9 619.7h0M550.3 619.7h0M572 619.6h0M556.1 624h0M545.8 621.9h0M545.9 621.9h0M571.5 622.5h0M547.8 621.5h0M550.2 619.8h0M550.6 625.1h0M554.2 623.4h0M550.3 625.7h0M554.7 620.8h0M572.7 618.5h0M568.4 620.7h0M571.6 621.9h0M564.3 623.5h0M553.4 626.3h0M553.6 622.5h0M544.7 621h0M563.6 619.3h0M563.6 618.4h0M555.1 622.3h0M546.9 615.3h0M552.6 617.5h0M559.4 619.9h0M565.1 624.4h0M562.9 620.1h0M552.8 620h0M574.7 623.2h0M565 623.5h0M551 620.4h0M572.2 620.1h0M559.7 620.6h0M572.5 623.1h0M549.6 623.7h0M543.3 618.8h0M566.3 623.6h0M546.7 621.8h0M558.2 619.9h0M572.3 621.1h0M562.6 620.9h0M572.2 619.5h0M575 622.1h0M557.9 620.9h0M548.7 619.1h0M568.1 617.4h0M561.5 618.5h0M569.6 617.6h0M556.8 620.4h0M544.8 620.5h0M564.8 613.2h0M562.7 619.8h0M561.5 612.8h0M561.6 618.2h0M561.1 621h0M532.3 623.3h0M527 622.3h0M530.1 631.6h0M535.5 621.1h0M529.8 622.3h0M537.1 621.6h0M530.1 622h0M533.9 629.6h0M537.4 617.8h0M528.2 619.5h0M528.5 626.4h0M537.2 620.7h0M528.6 617.1h0M525.2 621.8h0M536.8 615.8h0M535.9 621.3h0M534.4 618.9h0M529.7 618.2h0M537 625.9h0M525.3 623.4h0M534.8 626.4h0M532.1 624.2h0M537.5 621.8h0M527.7 620.5h0M529.2 620.6h0M532.1 621.8h0M527.8 627.5h0M531.2 624.7h0M527.1 620.6h0M527.1 621.1h0M525.2 621.1h0M536.4 620.8h0M537.8 621.1h0M533 613.9h0M537.3 627.9h0M541.8 594.6h0M556.4 594.1h0M556.5 598.6h0M562.7 610.6h0M569.5 611.6h0M575 597.6h0" stroke="#b5b5b5" stroke-width="2.2" stroke-linecap="round" fill="none"/>
<path d="M516.3 619.9H537.7M527.7 606.3H531.5M527.7 612.6H531.5M536 607H540.2M542.3 619.9H575.3" stroke="#8a2be2" stroke-width="2.1" stroke-linecap="butt" fill="none"/>
<path d="M537.1 601.8h0M536.7 612.1h0M542.9 605.3h0M556.4 596.6h0M562.7 613h0M575.1 600.7h0M573.9 607h0" stroke="#8a2be2" stroke-width="2.5" stroke-linecap="round" fill="none"/>
<rect x="539" y="597.4" width="5.6" height="7.9" rx="2.8" fill="#f772b0"/>
<path d="M252.8 519.9H342.8M352.2 519.9H504.2M514.7 519.9H575.6" stroke="#000" stroke-width="1.6" stroke-linecap="butt" fill="none"/>
<path d="M252.8 574.7H342.8M352.2 574.7H504.2M514.7 574.7H575.6" stroke="#000" stroke-width="1.6" stroke-linecap="butt" fill="none"/>
<path d="M252.8 628.8H342.8M352.2 628.8H504.2M514.7 628.8H575.6" stroke="#000" stroke-width="1.6" stroke-linecap="butt" fill="none"/>
<path d="M248.1 473.8L252.3 473.8" stroke="#222" stroke-width="1.3"/>
<text x="244.5" y="477" font-size="8.8" text-anchor="end" fill="#333">32</text>
<path d="M248.1 488.1L252.3 488.1" stroke="#222" stroke-width="1.3"/>
<text x="244.5" y="491.3" font-size="8.8" text-anchor="end" fill="#333">8</text>
<path d="M248.1 502.4L252.3 502.4" stroke="#222" stroke-width="1.3"/>
<text x="244.5" y="505.6" font-size="8.8" text-anchor="end" fill="#333">2</text>
<path d="M248.1 533L252.3 533" stroke="#222" stroke-width="1.3"/>
<text x="244.5" y="536.2" font-size="8.8" text-anchor="end" fill="#333">32</text>
<path d="M248.1 545.8L252.3 545.8" stroke="#222" stroke-width="1.3"/>
<text x="244.5" y="549" font-size="8.8" text-anchor="end" fill="#333">8</text>
<path d="M248.1 558.6L252.3 558.6" stroke="#222" stroke-width="1.3"/>
<text x="244.5" y="561.8" font-size="8.8" text-anchor="end" fill="#333">2</text>
<path d="M248.1 587.2L252.3 587.2" stroke="#222" stroke-width="1.3"/>
<text x="244.5" y="590.4" font-size="8.8" text-anchor="end" fill="#333">32</text>
<path d="M248.1 600L252.3 600" stroke="#222" stroke-width="1.3"/>
<text x="244.5" y="603.2" font-size="8.8" text-anchor="end" fill="#333">8</text>
<path d="M248.1 612.8L252.3 612.8" stroke="#222" stroke-width="1.3"/>
<text x="244.5" y="616" font-size="8.8" text-anchor="end" fill="#333">2</text>
<text transform="translate(228.9 545.7) rotate(-90)" font-size="9.6" text-anchor="middle" fill="#000">Copy number</text>
<text x="204" y="493.8" font-size="9.6" text-anchor="middle" fill="#000">MIS</text>
<text x="204" y="549.9" font-size="9.6" text-anchor="middle" fill="#000">Inv 1</text>
<text x="204" y="606" font-size="9.6" text-anchor="middle" fill="#000">Inv 2</text>
<rect x="253.5" y="632.4" width="8.4" height="10" fill="#f2f2f2"/>
<rect x="261.8" y="632.4" width="3.5" height="10" fill="#bfbfbf"/>
<rect x="265.1" y="632.4" width="6.6" height="10" fill="#f2f2f2"/>
<rect x="271.5" y="632.4" width="9.7" height="10" fill="#7f7f7f"/>
<rect x="281.1" y="632.4" width="6.4" height="10" fill="#f2f2f2"/>
<rect x="287.4" y="632.4" width="9.2" height="10" fill="#000"/>
<rect x="296.4" y="632.4" width="2.5" height="10" fill="#f2f2f2"/>
<rect x="298.8" y="632.4" width="8.1" height="10" fill="#000"/>
<rect x="306.7" y="632.4" width="9.2" height="10" fill="#f2f2f2"/>
<rect x="315.7" y="632.4" width="8.6" height="10" fill="#bfbfbf"/>
<rect x="324.2" y="632.4" width="7.7" height="10" fill="#f2f2f2"/>
<rect x="331.7" y="632.4" width="6.8" height="10" fill="#7f7f7f"/>
<rect x="338.3" y="632.4" width="4.4" height="10" fill="#e8312f"/>
<rect x="253.3" y="632.4" width="89.3" height="10" fill="none" stroke="#000" stroke-width="1.1"/>
<rect x="352.6" y="632.4" width="5.1" height="10" fill="#e8312f"/>
<rect x="357.5" y="632.4" width="7.9" height="10" fill="#404040"/>
<rect x="365.3" y="632.4" width="3.5" height="10" fill="#f2f2f2"/>
<rect x="368.6" y="632.4" width="3.3" height="10" fill="#bfbfbf"/>
<rect x="371.8" y="632.4" width="4.8" height="10" fill="#f2f2f2"/>
<rect x="376.4" y="632.4" width="4.8" height="10" fill="#bfbfbf"/>
<rect x="381" y="632.4" width="3.8" height="10" fill="#f2f2f2"/>
<rect x="384.7" y="632.4" width="9" height="10" fill="#7f7f7f"/>
<rect x="393.6" y="632.4" width="3.7" height="10" fill="#f2f2f2"/>
<rect x="397.1" y="632.4" width="15.9" height="10" fill="#000"/>
<rect x="412.9" y="632.4" width="5.1" height="10" fill="#f2f2f2"/>
<rect x="417.9" y="632.4" width="8.5" height="10" fill="#000"/>
<rect x="426.2" y="632.4" width="8.3" height="10" fill="#f2f2f2"/>
<rect x="434.3" y="632.4" width="9.2" height="10" fill="#000"/>
<rect x="443.4" y="632.4" width="1.6" height="10" fill="#f2f2f2"/>
<rect x="444.9" y="632.4" width="14" height="10" fill="#000"/>
<rect x="458.7" y="632.4" width="4" height="10" fill="#f2f2f2"/>
<rect x="462.6" y="632.4" width="3.8" height="10" fill="#7f7f7f"/>
<rect x="466.3" y="632.4" width="12.5" height="10" fill="#f2f2f2"/>
<rect x="478.7" y="632.4" width="5.1" height="10" fill="#7f7f7f"/>
<rect x="483.7" y="632.4" width="7.4" height="10" fill="#f2f2f2"/>
<rect x="490.9" y="632.4" width="5.7" height="10" fill="#7f7f7f"/>
<rect x="496.5" y="632.4" width="7.9" height="10" fill="#f2f2f2"/>
<rect x="352.6" y="632.4" width="151.6" height="10" fill="none" stroke="#000" stroke-width="1.1"/>
<rect x="515" y="632.4" width="3.3" height="10" fill="#e8312f"/>
<rect x="518.1" y="632.4" width="6.5" height="10" fill="#000"/>
<rect x="524.5" y="632.4" width="5.9" height="10" fill="#f2f2f2"/>
<rect x="530.3" y="632.4" width="5.4" height="10" fill="#bfbfbf"/>
<rect x="535.5" y="632.4" width="0.9" height="10" fill="#f2f2f2"/>
<rect x="536.3" y="632.4" width="8.9" height="10" fill="#bfbfbf"/>
<rect x="545.1" y="632.4" width="3.5" height="10" fill="#f2f2f2"/>
<rect x="548.4" y="632.4" width="5.4" height="10" fill="#bfbfbf"/>
<rect x="553.7" y="632.4" width="6.5" height="10" fill="#f2f2f2"/>
<rect x="560" y="632.4" width="4.3" height="10" fill="#bfbfbf"/>
<rect x="564.1" y="632.4" width="5.2" height="10" fill="#f2f2f2"/>
<rect x="569.2" y="632.4" width="6.4" height="10" fill="#bfbfbf"/>
<rect x="515" y="632.4" width="60.4" height="10" fill="none" stroke="#000" stroke-width="1.1"/>
<path d="M253.5 642.6L253.5 646.3" stroke="#222" stroke-width="1.3"/>
<text x="253.5" y="656.7" font-size="8.8" text-anchor="middle" fill="#444">0</text>
<path d="M271.9 642.6L271.9 646.3" stroke="#222" stroke-width="1.3"/>
<text x="271.9" y="656.7" font-size="8.8" text-anchor="middle" fill="#444">10</text>
<path d="M290.3 642.6L290.3 646.3" stroke="#222" stroke-width="1.3"/>
<text x="290.3" y="656.7" font-size="8.8" text-anchor="middle" fill="#444">20</text>
<path d="M308.7 642.6L308.7 646.3" stroke="#222" stroke-width="1.3"/>
<text x="308.7" y="656.7" font-size="8.8" text-anchor="middle" fill="#444">30</text>
<path d="M327.1 642.6L327.1 646.3" stroke="#222" stroke-width="1.3"/>
<text x="327.1" y="656.7" font-size="8.8" text-anchor="middle" fill="#444">40</text>
<path d="M365.5 642.6L365.5 646.3" stroke="#222" stroke-width="1.3"/>
<text x="365.5" y="656.7" font-size="8.8" text-anchor="middle" fill="#444">60</text>
<path d="M402.5 642.6L402.5 646.3" stroke="#222" stroke-width="1.3"/>
<text x="402.5" y="656.7" font-size="8.8" text-anchor="middle" fill="#444">80</text>
<path d="M439.5 642.6L439.5 646.3" stroke="#222" stroke-width="1.3"/>
<text x="439.5" y="656.7" font-size="8.8" text-anchor="middle" fill="#444">100</text>
<path d="M476.5 642.6L476.5 646.3" stroke="#222" stroke-width="1.3"/>
<text x="476.5" y="656.7" font-size="8.8" text-anchor="middle" fill="#444">120</text>
<path d="M520 642.6L520 646.3" stroke="#222" stroke-width="1.3"/>
<text x="520" y="656.7" font-size="8.8" text-anchor="middle" fill="#444">30</text>
<path d="M538.7 642.6L538.7 646.3" stroke="#222" stroke-width="1.3"/>
<text x="538.7" y="656.7" font-size="8.8" text-anchor="middle" fill="#444">40</text>
<path d="M557.4 642.6L557.4 646.3" stroke="#222" stroke-width="1.3"/>
<text x="557.4" y="656.7" font-size="8.8" text-anchor="middle" fill="#444">50</text>
<text x="298" y="671.9" font-size="12" text-anchor="middle" fill="#000">5p (Mbps)</text>
<text x="428.3" y="671.9" font-size="12" text-anchor="middle" fill="#000">11q (Mbps)</text>
<text x="545.6" y="671.9" font-size="12" text-anchor="middle" fill="#000">19q (Mbps)</text>
<text x="256.2" y="458.4" font-size="9.2" text-anchor="middle" fill="#000" font-style="italic">TERT</text>
<text x="305.7" y="458.4" font-size="9.2" text-anchor="middle" fill="#000" font-style="italic">SKP2</text>
<text x="342.6" y="458.4" font-size="9.2" text-anchor="middle" fill="#000" font-style="italic">RICTOR</text>
<text x="379.8" y="458.4" font-size="9.2" text-anchor="middle" fill="#000" font-style="italic">CCND1</text>
<text x="414.8" y="458.4" font-size="9.2" text-anchor="middle" fill="#000" font-style="italic">GAB2</text>
<text x="539.2" y="458.4" font-size="9.2" text-anchor="middle" fill="#000" font-style="italic">AKT2,AXL</text>
<polygon points="254.1,461.8 258.5,461.8 256.3,469.2" fill="#000"/>
<path d="M256.3 461.8L256.3 469.2" stroke="#000" stroke-width="0.9"/>
<polygon points="314.3,462.8 318.1,460.8 320,469" fill="#000"/>
<path d="M316.2 461.8L320 469" stroke="#000" stroke-width="0.9"/>
<polygon points="327.1,460.8 331.1,462.8 325.5,469" fill="#000"/>
<path d="M329.1 461.8L325.5 469" stroke="#000" stroke-width="0.9"/>
<polygon points="380.9,461.8 385.3,461.8 383.1,469.2" fill="#000"/>
<path d="M383.1 461.8L383.1 469.2" stroke="#000" stroke-width="0.9"/>
<polygon points="401,460.9 405,462.7 399.5,469.2" fill="#000"/>
<path d="M403 461.8L399.5 469.2" stroke="#000" stroke-width="0.9"/>
<polygon points="537.8,461.9 542.2,461.7 540.3,469.2" fill="#000"/>
<path d="M540 461.8L540.3 469.2" stroke="#000" stroke-width="0.9"/>
<polygon points="540.4,461.6 544.8,462 541.9,469.2" fill="#000"/>
<path d="M542.6 461.8L541.9 469.2" stroke="#000" stroke-width="0.9"/>
<text x="-1" y="15.2" font-size="17" text-anchor="start" fill="#111" font-weight="bold">a</text>
<text x="-0.8" y="315.9" font-size="17" text-anchor="start" fill="#111" font-weight="bold">b</text>
<text x="-1" y="441.6" font-size="17" text-anchor="start" fill="#111" font-weight="bold">c</text>
<text x="193.2" y="442.8" font-size="17" text-anchor="start" fill="#111" font-weight="bold">d</text>
</svg>
</body></html>
